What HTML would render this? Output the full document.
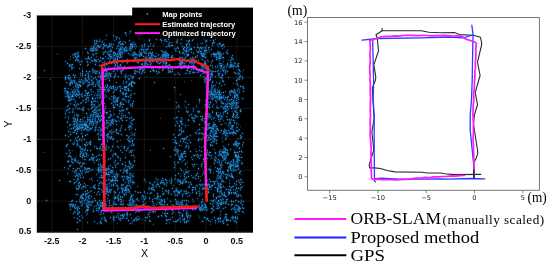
<!DOCTYPE html>
<html><head><meta charset="utf-8"><style>
html,body{margin:0;padding:0;background:#fff;width:550px;height:264px;overflow:hidden}
svg{display:block}
</style></head><body>
<svg width="550" height="264" viewBox="0 0 550 264">
<rect x="36.8" y="15.7" width="216.2" height="216.9" fill="#000"/>
<path d="M51.8 15.7V232.6M82.6 15.7V232.6M113.4 15.7V232.6M144.3 15.7V232.6M175.2 15.7V232.6M206.0 15.7V232.6M236.8 15.7V232.6M36.8 15.7H253.0M36.8 46.6H253.0M36.8 77.5H253.0M36.8 108.4H253.0M36.8 139.3H253.0M36.8 170.2H253.0M36.8 201.1H253.0M36.8 232.0H253.0" stroke="#232321" stroke-width="0.6" fill="none"/>
<path d="M36.8 46.6h2.4M36.8 77.5h2.4M36.8 108.4h2.4M36.8 139.3h2.4M36.8 170.2h2.4M36.8 201.1h2.4" stroke="#4a4a4a" stroke-width="0.8" fill="none"/>
<defs><filter id="bl" x="0" y="0" width="1" height="1"><feGaussianBlur stdDeviation="0.7"/></filter><clipPath id="cp"><rect x="36.8" y="15.7" width="216.2" height="216.9"/></clipPath></defs>
<g filter="url(#bl)"><g transform="translate(-0.2 -0.2)">
<path d="M65 77h1.4v1.4h-1.4zM65 78h1.4v1.4h-1.4zM65 88h1.4v1.4h-1.4zM65 113h1.4v1.4h-1.4zM65 135h1.4v1.4h-1.4zM66 82h1.4v1.4h-1.4zM66 110h1.4v1.4h-1.4zM66 145h1.4v1.4h-1.4zM67 122h1.4v1.4h-1.4zM67 144h1.4v1.4h-1.4zM68 75h1.4v1.4h-1.4zM68 92h1.4v1.4h-1.4zM68 131h1.4v1.4h-1.4zM69 65h1.4v1.4h-1.4zM69 66h1.4v1.4h-1.4zM69 108h1.4v1.4h-1.4zM69 125h1.4v1.4h-1.4zM69 155h1.4v1.4h-1.4zM69 204h1.4v1.4h-1.4zM70 83h1.4v1.4h-1.4zM70 134h1.4v1.4h-1.4zM70 156h1.4v1.4h-1.4zM70 204h1.4v1.4h-1.4zM70 206h1.4v1.4h-1.4zM70 209h1.4v1.4h-1.4zM71 99h1.4v1.4h-1.4zM71 128h1.4v1.4h-1.4zM71 204h1.4v1.4h-1.4zM72 83h1.4v1.4h-1.4zM72 91h1.4v1.4h-1.4zM72 95h1.4v1.4h-1.4zM72 159h1.4v1.4h-1.4zM72 200h1.4v1.4h-1.4zM73 118h1.4v1.4h-1.4zM73 128h1.4v1.4h-1.4zM73 168h1.4v1.4h-1.4zM73 205h1.4v1.4h-1.4zM74 54h1.4v1.4h-1.4zM74 207h1.4v1.4h-1.4zM75 53h1.4v1.4h-1.4zM75 54h1.4v1.4h-1.4zM75 56h1.4v1.4h-1.4zM75 60h1.4v1.4h-1.4zM75 75h1.4v1.4h-1.4zM75 91h1.4v1.4h-1.4zM75 160h1.4v1.4h-1.4zM75 170h1.4v1.4h-1.4zM75 176h1.4v1.4h-1.4zM76 59h1.4v1.4h-1.4zM76 94h1.4v1.4h-1.4zM76 105h1.4v1.4h-1.4zM76 125h1.4v1.4h-1.4zM76 140h1.4v1.4h-1.4zM76 170h1.4v1.4h-1.4zM77 54h1.4v1.4h-1.4zM77 56h1.4v1.4h-1.4zM77 84h1.4v1.4h-1.4zM77 115h1.4v1.4h-1.4zM77 129h1.4v1.4h-1.4zM77 168h1.4v1.4h-1.4zM77 194h1.4v1.4h-1.4zM77 209h1.4v1.4h-1.4zM77 222h1.4v1.4h-1.4zM78 56h1.4v1.4h-1.4zM78 85h1.4v1.4h-1.4zM78 95h1.4v1.4h-1.4zM78 115h1.4v1.4h-1.4zM79 81h1.4v1.4h-1.4zM79 84h1.4v1.4h-1.4zM79 93h1.4v1.4h-1.4zM79 127h1.4v1.4h-1.4zM79 146h1.4v1.4h-1.4zM79 163h1.4v1.4h-1.4zM79 186h1.4v1.4h-1.4zM79 220h1.4v1.4h-1.4zM80 64h1.4v1.4h-1.4zM80 81h1.4v1.4h-1.4zM80 86h1.4v1.4h-1.4zM80 127h1.4v1.4h-1.4zM80 153h1.4v1.4h-1.4zM80 177h1.4v1.4h-1.4zM80 197h1.4v1.4h-1.4zM80 202h1.4v1.4h-1.4zM81 94h1.4v1.4h-1.4zM81 201h1.4v1.4h-1.4zM81 205h1.4v1.4h-1.4zM82 73h1.4v1.4h-1.4zM82 96h1.4v1.4h-1.4zM82 124h1.4v1.4h-1.4zM82 136h1.4v1.4h-1.4zM82 149h1.4v1.4h-1.4zM82 157h1.4v1.4h-1.4zM82 203h1.4v1.4h-1.4zM83 83h1.4v1.4h-1.4zM83 107h1.4v1.4h-1.4zM83 109h1.4v1.4h-1.4zM83 153h1.4v1.4h-1.4zM83 155h1.4v1.4h-1.4zM84 125h1.4v1.4h-1.4zM84 129h1.4v1.4h-1.4zM84 139h1.4v1.4h-1.4zM84 150h1.4v1.4h-1.4zM84 156h1.4v1.4h-1.4zM84 169h1.4v1.4h-1.4zM84 200h1.4v1.4h-1.4zM85 48h1.4v1.4h-1.4zM85 90h1.4v1.4h-1.4zM85 125h1.4v1.4h-1.4zM85 126h1.4v1.4h-1.4zM85 191h1.4v1.4h-1.4zM85 195h1.4v1.4h-1.4zM85 199h1.4v1.4h-1.4zM86 93h1.4v1.4h-1.4zM86 153h1.4v1.4h-1.4zM86 197h1.4v1.4h-1.4zM86 203h1.4v1.4h-1.4zM87 52h1.4v1.4h-1.4zM87 61h1.4v1.4h-1.4zM87 65h1.4v1.4h-1.4zM87 80h1.4v1.4h-1.4zM87 119h1.4v1.4h-1.4zM87 121h1.4v1.4h-1.4zM87 130h1.4v1.4h-1.4zM87 150h1.4v1.4h-1.4zM87 190h1.4v1.4h-1.4zM87 193h1.4v1.4h-1.4zM87 209h1.4v1.4h-1.4zM88 78h1.4v1.4h-1.4zM88 85h1.4v1.4h-1.4zM88 127h1.4v1.4h-1.4zM88 130h1.4v1.4h-1.4zM88 196h1.4v1.4h-1.4zM88 202h1.4v1.4h-1.4zM89 82h1.4v1.4h-1.4zM89 84h1.4v1.4h-1.4zM89 123h1.4v1.4h-1.4zM89 195h1.4v1.4h-1.4zM90 50h1.4v1.4h-1.4zM90 116h1.4v1.4h-1.4zM90 122h1.4v1.4h-1.4zM90 129h1.4v1.4h-1.4zM91 57h1.4v1.4h-1.4zM91 84h1.4v1.4h-1.4zM91 102h1.4v1.4h-1.4zM91 108h1.4v1.4h-1.4zM91 128h1.4v1.4h-1.4zM91 178h1.4v1.4h-1.4zM91 202h1.4v1.4h-1.4zM92 49h1.4v1.4h-1.4zM92 82h1.4v1.4h-1.4zM92 107h1.4v1.4h-1.4zM92 169h1.4v1.4h-1.4zM93 47h1.4v1.4h-1.4zM93 70h1.4v1.4h-1.4zM93 78h1.4v1.4h-1.4zM93 114h1.4v1.4h-1.4zM93 116h1.4v1.4h-1.4zM93 158h1.4v1.4h-1.4zM93 211h1.4v1.4h-1.4zM94 40h1.4v1.4h-1.4zM94 59h1.4v1.4h-1.4zM94 110h1.4v1.4h-1.4zM94 185h1.4v1.4h-1.4zM95 64h1.4v1.4h-1.4zM95 85h1.4v1.4h-1.4zM95 101h1.4v1.4h-1.4zM95 109h1.4v1.4h-1.4zM95 112h1.4v1.4h-1.4zM95 118h1.4v1.4h-1.4zM95 127h1.4v1.4h-1.4zM95 200h1.4v1.4h-1.4zM96 61h1.4v1.4h-1.4zM96 107h1.4v1.4h-1.4zM96 122h1.4v1.4h-1.4zM96 148h1.4v1.4h-1.4zM96 210h1.4v1.4h-1.4zM97 71h1.4v1.4h-1.4zM97 83h1.4v1.4h-1.4zM97 121h1.4v1.4h-1.4zM97 202h1.4v1.4h-1.4zM98 118h1.4v1.4h-1.4zM98 164h1.4v1.4h-1.4zM98 168h1.4v1.4h-1.4zM98 169h1.4v1.4h-1.4zM98 210h1.4v1.4h-1.4zM99 41h1.4v1.4h-1.4zM99 61h1.4v1.4h-1.4zM99 86h1.4v1.4h-1.4zM99 116h1.4v1.4h-1.4zM99 121h1.4v1.4h-1.4zM99 127h1.4v1.4h-1.4zM99 139h1.4v1.4h-1.4zM99 170h1.4v1.4h-1.4zM99 183h1.4v1.4h-1.4zM99 194h1.4v1.4h-1.4zM99 200h1.4v1.4h-1.4zM99 207h1.4v1.4h-1.4zM100 46h1.4v1.4h-1.4zM100 76h1.4v1.4h-1.4zM100 87h1.4v1.4h-1.4zM100 135h1.4v1.4h-1.4zM100 139h1.4v1.4h-1.4zM100 164h1.4v1.4h-1.4zM100 182h1.4v1.4h-1.4zM101 73h1.4v1.4h-1.4zM101 115h1.4v1.4h-1.4zM101 116h1.4v1.4h-1.4zM101 130h1.4v1.4h-1.4zM101 144h1.4v1.4h-1.4zM101 155h1.4v1.4h-1.4zM101 166h1.4v1.4h-1.4zM101 177h1.4v1.4h-1.4zM101 203h1.4v1.4h-1.4zM101 223h1.4v1.4h-1.4zM102 58h1.4v1.4h-1.4zM102 89h1.4v1.4h-1.4zM102 91h1.4v1.4h-1.4zM102 99h1.4v1.4h-1.4zM102 123h1.4v1.4h-1.4zM102 150h1.4v1.4h-1.4zM102 167h1.4v1.4h-1.4zM102 206h1.4v1.4h-1.4zM102 210h1.4v1.4h-1.4zM103 47h1.4v1.4h-1.4zM103 52h1.4v1.4h-1.4zM103 68h1.4v1.4h-1.4zM103 87h1.4v1.4h-1.4zM103 121h1.4v1.4h-1.4zM103 125h1.4v1.4h-1.4zM103 191h1.4v1.4h-1.4zM103 196h1.4v1.4h-1.4zM103 213h1.4v1.4h-1.4zM104 45h1.4v1.4h-1.4zM104 63h1.4v1.4h-1.4zM104 70h1.4v1.4h-1.4zM104 75h1.4v1.4h-1.4zM104 112h1.4v1.4h-1.4zM104 174h1.4v1.4h-1.4zM104 190h1.4v1.4h-1.4zM104 217h1.4v1.4h-1.4zM105 51h1.4v1.4h-1.4zM105 73h1.4v1.4h-1.4zM105 75h1.4v1.4h-1.4zM105 169h1.4v1.4h-1.4zM105 174h1.4v1.4h-1.4zM105 220h1.4v1.4h-1.4zM106 71h1.4v1.4h-1.4zM106 73h1.4v1.4h-1.4zM106 76h1.4v1.4h-1.4zM106 174h1.4v1.4h-1.4zM106 188h1.4v1.4h-1.4zM106 221h1.4v1.4h-1.4zM107 47h1.4v1.4h-1.4zM107 75h1.4v1.4h-1.4zM107 85h1.4v1.4h-1.4zM107 112h1.4v1.4h-1.4zM107 136h1.4v1.4h-1.4zM107 141h1.4v1.4h-1.4zM107 169h1.4v1.4h-1.4zM107 191h1.4v1.4h-1.4zM107 208h1.4v1.4h-1.4zM108 51h1.4v1.4h-1.4zM108 54h1.4v1.4h-1.4zM108 91h1.4v1.4h-1.4zM108 159h1.4v1.4h-1.4zM108 172h1.4v1.4h-1.4zM108 179h1.4v1.4h-1.4zM108 195h1.4v1.4h-1.4zM109 183h1.4v1.4h-1.4zM109 189h1.4v1.4h-1.4zM109 191h1.4v1.4h-1.4zM109 200h1.4v1.4h-1.4zM109 205h1.4v1.4h-1.4zM110 51h1.4v1.4h-1.4zM110 58h1.4v1.4h-1.4zM110 76h1.4v1.4h-1.4zM110 125h1.4v1.4h-1.4zM110 158h1.4v1.4h-1.4zM110 191h1.4v1.4h-1.4zM110 217h1.4v1.4h-1.4zM111 50h1.4v1.4h-1.4zM111 88h1.4v1.4h-1.4zM111 103h1.4v1.4h-1.4zM111 122h1.4v1.4h-1.4zM111 137h1.4v1.4h-1.4zM111 170h1.4v1.4h-1.4zM111 172h1.4v1.4h-1.4zM112 119h1.4v1.4h-1.4zM112 123h1.4v1.4h-1.4zM112 139h1.4v1.4h-1.4zM112 167h1.4v1.4h-1.4zM112 171h1.4v1.4h-1.4zM113 53h1.4v1.4h-1.4zM113 60h1.4v1.4h-1.4zM113 71h1.4v1.4h-1.4zM113 88h1.4v1.4h-1.4zM113 97h1.4v1.4h-1.4zM113 173h1.4v1.4h-1.4zM113 184h1.4v1.4h-1.4zM113 185h1.4v1.4h-1.4zM113 204h1.4v1.4h-1.4zM113 218h1.4v1.4h-1.4zM114 180h1.4v1.4h-1.4zM114 198h1.4v1.4h-1.4zM114 203h1.4v1.4h-1.4zM115 53h1.4v1.4h-1.4zM115 102h1.4v1.4h-1.4zM115 153h1.4v1.4h-1.4zM115 160h1.4v1.4h-1.4zM115 165h1.4v1.4h-1.4zM115 178h1.4v1.4h-1.4zM116 56h1.4v1.4h-1.4zM116 89h1.4v1.4h-1.4zM116 100h1.4v1.4h-1.4zM116 204h1.4v1.4h-1.4zM117 56h1.4v1.4h-1.4zM117 60h1.4v1.4h-1.4zM117 63h1.4v1.4h-1.4zM117 65h1.4v1.4h-1.4zM117 67h1.4v1.4h-1.4zM117 87h1.4v1.4h-1.4zM117 98h1.4v1.4h-1.4zM117 116h1.4v1.4h-1.4zM117 156h1.4v1.4h-1.4zM117 174h1.4v1.4h-1.4zM117 176h1.4v1.4h-1.4zM117 180h1.4v1.4h-1.4zM118 97h1.4v1.4h-1.4zM118 133h1.4v1.4h-1.4zM118 195h1.4v1.4h-1.4zM118 199h1.4v1.4h-1.4zM118 213h1.4v1.4h-1.4zM118 217h1.4v1.4h-1.4zM119 38h1.4v1.4h-1.4zM119 50h1.4v1.4h-1.4zM119 52h1.4v1.4h-1.4zM119 54h1.4v1.4h-1.4zM119 86h1.4v1.4h-1.4zM120 52h1.4v1.4h-1.4zM120 56h1.4v1.4h-1.4zM120 90h1.4v1.4h-1.4zM120 130h1.4v1.4h-1.4zM120 170h1.4v1.4h-1.4zM120 199h1.4v1.4h-1.4zM120 215h1.4v1.4h-1.4zM121 49h1.4v1.4h-1.4zM121 52h1.4v1.4h-1.4zM121 70h1.4v1.4h-1.4zM121 104h1.4v1.4h-1.4zM121 134h1.4v1.4h-1.4zM121 188h1.4v1.4h-1.4zM122 43h1.4v1.4h-1.4zM122 44h1.4v1.4h-1.4zM122 52h1.4v1.4h-1.4zM122 93h1.4v1.4h-1.4zM122 120h1.4v1.4h-1.4zM122 176h1.4v1.4h-1.4zM122 185h1.4v1.4h-1.4zM122 190h1.4v1.4h-1.4zM122 191h1.4v1.4h-1.4zM122 214h1.4v1.4h-1.4zM122 218h1.4v1.4h-1.4zM123 49h1.4v1.4h-1.4zM123 94h1.4v1.4h-1.4zM123 110h1.4v1.4h-1.4zM123 172h1.4v1.4h-1.4zM123 216h1.4v1.4h-1.4zM124 49h1.4v1.4h-1.4zM124 50h1.4v1.4h-1.4zM124 87h1.4v1.4h-1.4zM124 146h1.4v1.4h-1.4zM124 170h1.4v1.4h-1.4zM124 190h1.4v1.4h-1.4zM125 32h1.4v1.4h-1.4zM125 42h1.4v1.4h-1.4zM125 47h1.4v1.4h-1.4zM125 76h1.4v1.4h-1.4zM125 129h1.4v1.4h-1.4zM125 157h1.4v1.4h-1.4zM125 165h1.4v1.4h-1.4zM125 190h1.4v1.4h-1.4zM126 51h1.4v1.4h-1.4zM126 82h1.4v1.4h-1.4zM126 86h1.4v1.4h-1.4zM126 87h1.4v1.4h-1.4zM126 109h1.4v1.4h-1.4zM126 120h1.4v1.4h-1.4zM126 186h1.4v1.4h-1.4zM126 188h1.4v1.4h-1.4zM126 213h1.4v1.4h-1.4zM127 59h1.4v1.4h-1.4zM127 169h1.4v1.4h-1.4zM127 214h1.4v1.4h-1.4zM128 79h1.4v1.4h-1.4zM128 85h1.4v1.4h-1.4zM128 127h1.4v1.4h-1.4zM128 137h1.4v1.4h-1.4zM128 180h1.4v1.4h-1.4zM129 84h1.4v1.4h-1.4zM129 118h1.4v1.4h-1.4zM129 126h1.4v1.4h-1.4zM129 161h1.4v1.4h-1.4zM129 162h1.4v1.4h-1.4zM129 168h1.4v1.4h-1.4zM130 31h1.4v1.4h-1.4zM130 46h1.4v1.4h-1.4zM130 50h1.4v1.4h-1.4zM130 97h1.4v1.4h-1.4zM130 151h1.4v1.4h-1.4zM130 164h1.4v1.4h-1.4zM130 173h1.4v1.4h-1.4zM130 181h1.4v1.4h-1.4zM130 197h1.4v1.4h-1.4zM130 203h1.4v1.4h-1.4zM130 214h1.4v1.4h-1.4zM130 223h1.4v1.4h-1.4zM131 84h1.4v1.4h-1.4zM131 117h1.4v1.4h-1.4zM131 155h1.4v1.4h-1.4zM131 195h1.4v1.4h-1.4zM131 207h1.4v1.4h-1.4zM132 46h1.4v1.4h-1.4zM132 78h1.4v1.4h-1.4zM132 103h1.4v1.4h-1.4zM132 120h1.4v1.4h-1.4zM132 134h1.4v1.4h-1.4zM132 200h1.4v1.4h-1.4zM133 52h1.4v1.4h-1.4zM133 54h1.4v1.4h-1.4zM133 82h1.4v1.4h-1.4zM133 119h1.4v1.4h-1.4zM133 144h1.4v1.4h-1.4zM133 145h1.4v1.4h-1.4zM133 182h1.4v1.4h-1.4zM133 220h1.4v1.4h-1.4zM134 52h1.4v1.4h-1.4zM134 59h1.4v1.4h-1.4zM134 73h1.4v1.4h-1.4zM134 82h1.4v1.4h-1.4zM134 83h1.4v1.4h-1.4zM134 93h1.4v1.4h-1.4zM134 161h1.4v1.4h-1.4zM135 44h1.4v1.4h-1.4zM135 53h1.4v1.4h-1.4zM135 70h1.4v1.4h-1.4zM135 73h1.4v1.4h-1.4zM135 208h1.4v1.4h-1.4zM137 59h1.4v1.4h-1.4zM137 62h1.4v1.4h-1.4zM137 205h1.4v1.4h-1.4zM137 207h1.4v1.4h-1.4zM137 208h1.4v1.4h-1.4zM137 219h1.4v1.4h-1.4zM138 209h1.4v1.4h-1.4zM139 55h1.4v1.4h-1.4zM139 72h1.4v1.4h-1.4zM139 78h1.4v1.4h-1.4zM141 52h1.4v1.4h-1.4zM141 54h1.4v1.4h-1.4zM141 64h1.4v1.4h-1.4zM142 195h1.4v1.4h-1.4zM143 56h1.4v1.4h-1.4zM143 70h1.4v1.4h-1.4zM143 196h1.4v1.4h-1.4zM144 65h1.4v1.4h-1.4zM144 66h1.4v1.4h-1.4zM144 179h1.4v1.4h-1.4zM145 57h1.4v1.4h-1.4zM146 63h1.4v1.4h-1.4zM148 46h1.4v1.4h-1.4zM148 53h1.4v1.4h-1.4zM148 55h1.4v1.4h-1.4zM148 60h1.4v1.4h-1.4zM149 198h1.4v1.4h-1.4zM149 208h1.4v1.4h-1.4zM149 216h1.4v1.4h-1.4zM150 59h1.4v1.4h-1.4zM150 64h1.4v1.4h-1.4zM150 209h1.4v1.4h-1.4zM150 221h1.4v1.4h-1.4zM151 54h1.4v1.4h-1.4zM151 207h1.4v1.4h-1.4zM151 209h1.4v1.4h-1.4zM152 201h1.4v1.4h-1.4zM153 189h1.4v1.4h-1.4zM154 82h1.4v1.4h-1.4zM156 61h1.4v1.4h-1.4zM156 71h1.4v1.4h-1.4zM156 198h1.4v1.4h-1.4zM157 58h1.4v1.4h-1.4zM157 62h1.4v1.4h-1.4zM158 59h1.4v1.4h-1.4zM159 59h1.4v1.4h-1.4zM159 63h1.4v1.4h-1.4zM159 202h1.4v1.4h-1.4zM160 39h1.4v1.4h-1.4zM160 57h1.4v1.4h-1.4zM160 59h1.4v1.4h-1.4zM160 62h1.4v1.4h-1.4zM160 196h1.4v1.4h-1.4zM161 40h1.4v1.4h-1.4zM161 200h1.4v1.4h-1.4zM161 206h1.4v1.4h-1.4zM162 54h1.4v1.4h-1.4zM162 56h1.4v1.4h-1.4zM162 61h1.4v1.4h-1.4zM162 178h1.4v1.4h-1.4zM162 182h1.4v1.4h-1.4zM162 188h1.4v1.4h-1.4zM163 52h1.4v1.4h-1.4zM163 58h1.4v1.4h-1.4zM163 59h1.4v1.4h-1.4zM163 193h1.4v1.4h-1.4zM163 207h1.4v1.4h-1.4zM164 61h1.4v1.4h-1.4zM164 67h1.4v1.4h-1.4zM164 184h1.4v1.4h-1.4zM165 39h1.4v1.4h-1.4zM165 51h1.4v1.4h-1.4zM165 55h1.4v1.4h-1.4zM165 58h1.4v1.4h-1.4zM165 179h1.4v1.4h-1.4zM165 190h1.4v1.4h-1.4zM165 210h1.4v1.4h-1.4zM165 213h1.4v1.4h-1.4zM165 215h1.4v1.4h-1.4zM166 41h1.4v1.4h-1.4zM166 46h1.4v1.4h-1.4zM166 53h1.4v1.4h-1.4zM166 208h1.4v1.4h-1.4zM166 216h1.4v1.4h-1.4zM167 55h1.4v1.4h-1.4zM167 66h1.4v1.4h-1.4zM167 206h1.4v1.4h-1.4zM168 55h1.4v1.4h-1.4zM168 68h1.4v1.4h-1.4zM168 190h1.4v1.4h-1.4zM168 193h1.4v1.4h-1.4zM169 46h1.4v1.4h-1.4zM169 71h1.4v1.4h-1.4zM169 206h1.4v1.4h-1.4zM169 207h1.4v1.4h-1.4zM170 71h1.4v1.4h-1.4zM170 201h1.4v1.4h-1.4zM170 207h1.4v1.4h-1.4zM172 207h1.4v1.4h-1.4zM173 134h1.4v1.4h-1.4zM174 149h1.4v1.4h-1.4zM174 167h1.4v1.4h-1.4zM175 140h1.4v1.4h-1.4zM175 147h1.4v1.4h-1.4zM175 175h1.4v1.4h-1.4zM175 199h1.4v1.4h-1.4zM175 221h1.4v1.4h-1.4zM176 188h1.4v1.4h-1.4zM176 201h1.4v1.4h-1.4zM176 203h1.4v1.4h-1.4zM176 206h1.4v1.4h-1.4zM176 221h1.4v1.4h-1.4zM177 191h1.4v1.4h-1.4zM177 195h1.4v1.4h-1.4zM177 220h1.4v1.4h-1.4zM178 135h1.4v1.4h-1.4zM178 150h1.4v1.4h-1.4zM178 162h1.4v1.4h-1.4zM178 173h1.4v1.4h-1.4zM178 180h1.4v1.4h-1.4zM178 192h1.4v1.4h-1.4zM178 202h1.4v1.4h-1.4zM178 212h1.4v1.4h-1.4zM179 51h1.4v1.4h-1.4zM179 52h1.4v1.4h-1.4zM179 63h1.4v1.4h-1.4zM179 74h1.4v1.4h-1.4zM179 126h1.4v1.4h-1.4zM179 157h1.4v1.4h-1.4zM179 158h1.4v1.4h-1.4zM180 59h1.4v1.4h-1.4zM180 61h1.4v1.4h-1.4zM180 134h1.4v1.4h-1.4zM180 180h1.4v1.4h-1.4zM181 39h1.4v1.4h-1.4zM181 68h1.4v1.4h-1.4zM181 123h1.4v1.4h-1.4zM181 130h1.4v1.4h-1.4zM181 132h1.4v1.4h-1.4zM181 154h1.4v1.4h-1.4zM181 156h1.4v1.4h-1.4zM181 170h1.4v1.4h-1.4zM181 190h1.4v1.4h-1.4zM181 202h1.4v1.4h-1.4zM182 53h1.4v1.4h-1.4zM182 58h1.4v1.4h-1.4zM182 63h1.4v1.4h-1.4zM182 67h1.4v1.4h-1.4zM182 156h1.4v1.4h-1.4zM182 182h1.4v1.4h-1.4zM182 194h1.4v1.4h-1.4zM182 200h1.4v1.4h-1.4zM182 214h1.4v1.4h-1.4zM182 216h1.4v1.4h-1.4zM183 52h1.4v1.4h-1.4zM183 131h1.4v1.4h-1.4zM183 141h1.4v1.4h-1.4zM184 47h1.4v1.4h-1.4zM184 59h1.4v1.4h-1.4zM184 67h1.4v1.4h-1.4zM184 138h1.4v1.4h-1.4zM184 139h1.4v1.4h-1.4zM184 153h1.4v1.4h-1.4zM184 179h1.4v1.4h-1.4zM184 206h1.4v1.4h-1.4zM184 218h1.4v1.4h-1.4zM184 219h1.4v1.4h-1.4zM184 222h1.4v1.4h-1.4zM185 57h1.4v1.4h-1.4zM185 65h1.4v1.4h-1.4zM185 164h1.4v1.4h-1.4zM185 205h1.4v1.4h-1.4zM186 44h1.4v1.4h-1.4zM186 45h1.4v1.4h-1.4zM186 61h1.4v1.4h-1.4zM186 193h1.4v1.4h-1.4zM186 213h1.4v1.4h-1.4zM186 222h1.4v1.4h-1.4zM187 50h1.4v1.4h-1.4zM187 66h1.4v1.4h-1.4zM187 68h1.4v1.4h-1.4zM187 70h1.4v1.4h-1.4zM187 143h1.4v1.4h-1.4zM187 205h1.4v1.4h-1.4zM187 217h1.4v1.4h-1.4zM188 65h1.4v1.4h-1.4zM188 67h1.4v1.4h-1.4zM188 104h1.4v1.4h-1.4zM188 120h1.4v1.4h-1.4zM188 146h1.4v1.4h-1.4zM188 215h1.4v1.4h-1.4zM189 40h1.4v1.4h-1.4zM189 62h1.4v1.4h-1.4zM189 73h1.4v1.4h-1.4zM189 186h1.4v1.4h-1.4zM190 151h1.4v1.4h-1.4zM191 61h1.4v1.4h-1.4zM191 66h1.4v1.4h-1.4zM191 114h1.4v1.4h-1.4zM191 184h1.4v1.4h-1.4zM192 40h1.4v1.4h-1.4zM192 62h1.4v1.4h-1.4zM192 72h1.4v1.4h-1.4zM193 68h1.4v1.4h-1.4zM193 69h1.4v1.4h-1.4zM193 120h1.4v1.4h-1.4zM194 62h1.4v1.4h-1.4zM194 72h1.4v1.4h-1.4zM194 164h1.4v1.4h-1.4zM195 115h1.4v1.4h-1.4zM195 187h1.4v1.4h-1.4zM196 193h1.4v1.4h-1.4zM197 47h1.4v1.4h-1.4zM197 154h1.4v1.4h-1.4zM197 173h1.4v1.4h-1.4zM198 111h1.4v1.4h-1.4zM198 156h1.4v1.4h-1.4zM199 124h1.4v1.4h-1.4zM199 129h1.4v1.4h-1.4zM199 133h1.4v1.4h-1.4zM199 208h1.4v1.4h-1.4zM200 47h1.4v1.4h-1.4zM200 51h1.4v1.4h-1.4zM200 75h1.4v1.4h-1.4zM200 155h1.4v1.4h-1.4zM200 185h1.4v1.4h-1.4zM200 208h1.4v1.4h-1.4zM201 65h1.4v1.4h-1.4zM201 119h1.4v1.4h-1.4zM201 151h1.4v1.4h-1.4zM201 202h1.4v1.4h-1.4zM201 208h1.4v1.4h-1.4zM202 55h1.4v1.4h-1.4zM202 59h1.4v1.4h-1.4zM202 120h1.4v1.4h-1.4zM202 199h1.4v1.4h-1.4zM202 221h1.4v1.4h-1.4zM203 53h1.4v1.4h-1.4zM203 54h1.4v1.4h-1.4zM203 64h1.4v1.4h-1.4zM203 65h1.4v1.4h-1.4zM203 188h1.4v1.4h-1.4zM204 50h1.4v1.4h-1.4zM204 51h1.4v1.4h-1.4zM204 63h1.4v1.4h-1.4zM204 184h1.4v1.4h-1.4zM204 207h1.4v1.4h-1.4zM205 63h1.4v1.4h-1.4zM205 145h1.4v1.4h-1.4zM205 161h1.4v1.4h-1.4zM206 67h1.4v1.4h-1.4zM206 78h1.4v1.4h-1.4zM206 86h1.4v1.4h-1.4zM206 94h1.4v1.4h-1.4zM206 105h1.4v1.4h-1.4zM206 158h1.4v1.4h-1.4zM206 190h1.4v1.4h-1.4zM207 68h1.4v1.4h-1.4zM207 113h1.4v1.4h-1.4zM207 129h1.4v1.4h-1.4zM207 135h1.4v1.4h-1.4zM207 150h1.4v1.4h-1.4zM207 185h1.4v1.4h-1.4zM207 188h1.4v1.4h-1.4zM208 47h1.4v1.4h-1.4zM208 88h1.4v1.4h-1.4zM208 114h1.4v1.4h-1.4zM208 116h1.4v1.4h-1.4zM208 124h1.4v1.4h-1.4zM208 154h1.4v1.4h-1.4zM208 220h1.4v1.4h-1.4zM209 80h1.4v1.4h-1.4zM209 91h1.4v1.4h-1.4zM209 104h1.4v1.4h-1.4zM209 137h1.4v1.4h-1.4zM209 152h1.4v1.4h-1.4zM209 184h1.4v1.4h-1.4zM209 186h1.4v1.4h-1.4zM209 187h1.4v1.4h-1.4zM210 65h1.4v1.4h-1.4zM210 76h1.4v1.4h-1.4zM210 77h1.4v1.4h-1.4zM210 117h1.4v1.4h-1.4zM210 127h1.4v1.4h-1.4zM210 139h1.4v1.4h-1.4zM210 144h1.4v1.4h-1.4zM210 145h1.4v1.4h-1.4zM210 152h1.4v1.4h-1.4zM210 170h1.4v1.4h-1.4zM210 181h1.4v1.4h-1.4zM211 54h1.4v1.4h-1.4zM211 73h1.4v1.4h-1.4zM211 89h1.4v1.4h-1.4zM211 136h1.4v1.4h-1.4zM211 208h1.4v1.4h-1.4zM211 212h1.4v1.4h-1.4zM212 43h1.4v1.4h-1.4zM212 60h1.4v1.4h-1.4zM212 71h1.4v1.4h-1.4zM212 81h1.4v1.4h-1.4zM212 106h1.4v1.4h-1.4zM212 112h1.4v1.4h-1.4zM212 145h1.4v1.4h-1.4zM213 40h1.4v1.4h-1.4zM213 53h1.4v1.4h-1.4zM213 98h1.4v1.4h-1.4zM213 136h1.4v1.4h-1.4zM213 141h1.4v1.4h-1.4zM213 194h1.4v1.4h-1.4zM213 196h1.4v1.4h-1.4zM213 201h1.4v1.4h-1.4zM214 90h1.4v1.4h-1.4zM214 139h1.4v1.4h-1.4zM214 163h1.4v1.4h-1.4zM214 183h1.4v1.4h-1.4zM215 71h1.4v1.4h-1.4zM215 92h1.4v1.4h-1.4zM215 100h1.4v1.4h-1.4zM215 133h1.4v1.4h-1.4zM215 136h1.4v1.4h-1.4zM215 152h1.4v1.4h-1.4zM215 160h1.4v1.4h-1.4zM215 220h1.4v1.4h-1.4zM216 57h1.4v1.4h-1.4zM216 96h1.4v1.4h-1.4zM216 97h1.4v1.4h-1.4zM216 112h1.4v1.4h-1.4zM216 114h1.4v1.4h-1.4zM216 126h1.4v1.4h-1.4zM216 143h1.4v1.4h-1.4zM216 171h1.4v1.4h-1.4zM216 198h1.4v1.4h-1.4zM217 115h1.4v1.4h-1.4zM217 129h1.4v1.4h-1.4zM217 136h1.4v1.4h-1.4zM217 189h1.4v1.4h-1.4zM217 190h1.4v1.4h-1.4zM217 191h1.4v1.4h-1.4zM218 51h1.4v1.4h-1.4zM218 54h1.4v1.4h-1.4zM218 58h1.4v1.4h-1.4zM218 73h1.4v1.4h-1.4zM218 75h1.4v1.4h-1.4zM218 130h1.4v1.4h-1.4zM218 171h1.4v1.4h-1.4zM218 173h1.4v1.4h-1.4zM218 178h1.4v1.4h-1.4zM218 203h1.4v1.4h-1.4zM218 218h1.4v1.4h-1.4zM218 221h1.4v1.4h-1.4zM219 63h1.4v1.4h-1.4zM219 92h1.4v1.4h-1.4zM219 98h1.4v1.4h-1.4zM219 99h1.4v1.4h-1.4zM219 115h1.4v1.4h-1.4zM219 177h1.4v1.4h-1.4zM219 185h1.4v1.4h-1.4zM219 196h1.4v1.4h-1.4zM219 202h1.4v1.4h-1.4zM220 58h1.4v1.4h-1.4zM220 65h1.4v1.4h-1.4zM220 77h1.4v1.4h-1.4zM220 172h1.4v1.4h-1.4zM220 184h1.4v1.4h-1.4zM220 187h1.4v1.4h-1.4zM220 204h1.4v1.4h-1.4zM221 54h1.4v1.4h-1.4zM221 66h1.4v1.4h-1.4zM221 98h1.4v1.4h-1.4zM221 106h1.4v1.4h-1.4zM221 116h1.4v1.4h-1.4zM221 124h1.4v1.4h-1.4zM221 202h1.4v1.4h-1.4zM222 45h1.4v1.4h-1.4zM222 74h1.4v1.4h-1.4zM222 171h1.4v1.4h-1.4zM223 57h1.4v1.4h-1.4zM223 92h1.4v1.4h-1.4zM223 97h1.4v1.4h-1.4zM223 103h1.4v1.4h-1.4zM223 108h1.4v1.4h-1.4zM223 133h1.4v1.4h-1.4zM223 158h1.4v1.4h-1.4zM223 186h1.4v1.4h-1.4zM223 195h1.4v1.4h-1.4zM224 66h1.4v1.4h-1.4zM224 129h1.4v1.4h-1.4zM224 132h1.4v1.4h-1.4zM224 152h1.4v1.4h-1.4zM224 156h1.4v1.4h-1.4zM224 159h1.4v1.4h-1.4zM224 195h1.4v1.4h-1.4zM225 105h1.4v1.4h-1.4zM225 130h1.4v1.4h-1.4zM225 150h1.4v1.4h-1.4zM225 155h1.4v1.4h-1.4zM225 162h1.4v1.4h-1.4zM226 52h1.4v1.4h-1.4zM226 110h1.4v1.4h-1.4zM226 131h1.4v1.4h-1.4zM226 133h1.4v1.4h-1.4zM226 177h1.4v1.4h-1.4zM226 178h1.4v1.4h-1.4zM226 189h1.4v1.4h-1.4zM226 214h1.4v1.4h-1.4zM226 220h1.4v1.4h-1.4zM227 63h1.4v1.4h-1.4zM227 71h1.4v1.4h-1.4zM227 99h1.4v1.4h-1.4zM227 113h1.4v1.4h-1.4zM227 119h1.4v1.4h-1.4zM227 150h1.4v1.4h-1.4zM227 152h1.4v1.4h-1.4zM227 153h1.4v1.4h-1.4zM227 154h1.4v1.4h-1.4zM227 224h1.4v1.4h-1.4zM228 125h1.4v1.4h-1.4zM228 162h1.4v1.4h-1.4zM228 167h1.4v1.4h-1.4zM228 192h1.4v1.4h-1.4zM228 204h1.4v1.4h-1.4zM229 100h1.4v1.4h-1.4zM229 103h1.4v1.4h-1.4zM229 119h1.4v1.4h-1.4zM229 132h1.4v1.4h-1.4zM229 193h1.4v1.4h-1.4zM230 92h1.4v1.4h-1.4zM230 104h1.4v1.4h-1.4zM230 133h1.4v1.4h-1.4zM230 149h1.4v1.4h-1.4zM230 189h1.4v1.4h-1.4zM230 190h1.4v1.4h-1.4zM231 64h1.4v1.4h-1.4zM231 65h1.4v1.4h-1.4zM231 66h1.4v1.4h-1.4zM231 90h1.4v1.4h-1.4zM231 91h1.4v1.4h-1.4zM231 99h1.4v1.4h-1.4zM231 102h1.4v1.4h-1.4zM231 108h1.4v1.4h-1.4zM231 128h1.4v1.4h-1.4zM231 164h1.4v1.4h-1.4zM231 170h1.4v1.4h-1.4zM231 175h1.4v1.4h-1.4zM231 187h1.4v1.4h-1.4zM231 209h1.4v1.4h-1.4zM232 91h1.4v1.4h-1.4zM232 103h1.4v1.4h-1.4zM232 165h1.4v1.4h-1.4zM232 218h1.4v1.4h-1.4zM233 102h1.4v1.4h-1.4zM233 113h1.4v1.4h-1.4zM233 114h1.4v1.4h-1.4zM233 131h1.4v1.4h-1.4zM233 159h1.4v1.4h-1.4zM233 160h1.4v1.4h-1.4zM233 162h1.4v1.4h-1.4zM233 170h1.4v1.4h-1.4zM233 217h1.4v1.4h-1.4zM234 95h1.4v1.4h-1.4zM234 97h1.4v1.4h-1.4zM234 103h1.4v1.4h-1.4zM234 122h1.4v1.4h-1.4zM234 164h1.4v1.4h-1.4zM234 193h1.4v1.4h-1.4zM234 207h1.4v1.4h-1.4zM235 73h1.4v1.4h-1.4zM235 92h1.4v1.4h-1.4zM235 107h1.4v1.4h-1.4zM235 152h1.4v1.4h-1.4zM235 170h1.4v1.4h-1.4zM235 192h1.4v1.4h-1.4zM235 193h1.4v1.4h-1.4zM235 217h1.4v1.4h-1.4zM236 98h1.4v1.4h-1.4zM236 107h1.4v1.4h-1.4zM236 141h1.4v1.4h-1.4zM236 143h1.4v1.4h-1.4zM236 156h1.4v1.4h-1.4zM236 161h1.4v1.4h-1.4zM236 188h1.4v1.4h-1.4zM237 65h1.4v1.4h-1.4zM237 66h1.4v1.4h-1.4zM237 84h1.4v1.4h-1.4zM237 90h1.4v1.4h-1.4zM237 94h1.4v1.4h-1.4zM237 95h1.4v1.4h-1.4zM237 107h1.4v1.4h-1.4zM237 114h1.4v1.4h-1.4zM237 143h1.4v1.4h-1.4zM237 152h1.4v1.4h-1.4zM237 160h1.4v1.4h-1.4zM237 166h1.4v1.4h-1.4zM237 196h1.4v1.4h-1.4zM238 63h1.4v1.4h-1.4zM238 99h1.4v1.4h-1.4zM238 117h1.4v1.4h-1.4zM238 159h1.4v1.4h-1.4zM238 180h1.4v1.4h-1.4zM238 188h1.4v1.4h-1.4zM238 195h1.4v1.4h-1.4zM238 206h1.4v1.4h-1.4zM238 208h1.4v1.4h-1.4zM238 210h1.4v1.4h-1.4zM239 148h1.4v1.4h-1.4zM239 151h1.4v1.4h-1.4zM239 160h1.4v1.4h-1.4zM239 182h1.4v1.4h-1.4zM239 207h1.4v1.4h-1.4zM239 209h1.4v1.4h-1.4zM240 76h1.4v1.4h-1.4zM240 110h1.4v1.4h-1.4zM240 171h1.4v1.4h-1.4zM240 184h1.4v1.4h-1.4zM240 187h1.4v1.4h-1.4zM240 195h1.4v1.4h-1.4zM240 208h1.4v1.4h-1.4zM241 151h1.4v1.4h-1.4zM242 98h1.4v1.4h-1.4zM242 204h1.4v1.4h-1.4zM243 88h1.4v1.4h-1.4zM243 208h1.4v1.4h-1.4zM133 76h1.4v1.4h-1.4zM175 154h1.4v1.4h-1.4zM77 229h1.4v1.4h-1.4zM179 18h1.4v1.4h-1.4zM90 150h1.4v1.4h-1.4zM235 200h1.4v1.4h-1.4zM46 200h1.4v1.4h-1.4zM103 187h1.4v1.4h-1.4z" fill="#2388d6"/>
<path d="M64 88h1.4v1.4h-1.4zM65 79h1.4v1.4h-1.4zM66 91h1.4v1.4h-1.4zM66 146h1.4v1.4h-1.4zM66 153h1.4v1.4h-1.4zM67 77h1.4v1.4h-1.4zM67 94h1.4v1.4h-1.4zM67 106h1.4v1.4h-1.4zM67 161h1.4v1.4h-1.4zM68 77h1.4v1.4h-1.4zM68 78h1.4v1.4h-1.4zM68 94h1.4v1.4h-1.4zM68 98h1.4v1.4h-1.4zM68 118h1.4v1.4h-1.4zM68 156h1.4v1.4h-1.4zM69 75h1.4v1.4h-1.4zM69 79h1.4v1.4h-1.4zM69 83h1.4v1.4h-1.4zM69 84h1.4v1.4h-1.4zM69 99h1.4v1.4h-1.4zM69 100h1.4v1.4h-1.4zM69 112h1.4v1.4h-1.4zM69 150h1.4v1.4h-1.4zM69 166h1.4v1.4h-1.4zM70 77h1.4v1.4h-1.4zM70 82h1.4v1.4h-1.4zM70 94h1.4v1.4h-1.4zM70 100h1.4v1.4h-1.4zM70 124h1.4v1.4h-1.4zM71 66h1.4v1.4h-1.4zM71 82h1.4v1.4h-1.4zM71 96h1.4v1.4h-1.4zM71 161h1.4v1.4h-1.4zM71 201h1.4v1.4h-1.4zM72 68h1.4v1.4h-1.4zM72 92h1.4v1.4h-1.4zM72 111h1.4v1.4h-1.4zM72 112h1.4v1.4h-1.4zM72 162h1.4v1.4h-1.4zM72 204h1.4v1.4h-1.4zM73 75h1.4v1.4h-1.4zM73 80h1.4v1.4h-1.4zM73 91h1.4v1.4h-1.4zM73 96h1.4v1.4h-1.4zM73 109h1.4v1.4h-1.4zM73 117h1.4v1.4h-1.4zM73 121h1.4v1.4h-1.4zM73 124h1.4v1.4h-1.4zM73 144h1.4v1.4h-1.4zM74 80h1.4v1.4h-1.4zM74 82h1.4v1.4h-1.4zM74 89h1.4v1.4h-1.4zM74 94h1.4v1.4h-1.4zM74 105h1.4v1.4h-1.4zM74 124h1.4v1.4h-1.4zM74 126h1.4v1.4h-1.4zM74 158h1.4v1.4h-1.4zM74 160h1.4v1.4h-1.4zM74 172h1.4v1.4h-1.4zM74 182h1.4v1.4h-1.4zM74 183h1.4v1.4h-1.4zM74 211h1.4v1.4h-1.4zM75 82h1.4v1.4h-1.4zM75 85h1.4v1.4h-1.4zM75 86h1.4v1.4h-1.4zM75 95h1.4v1.4h-1.4zM75 101h1.4v1.4h-1.4zM75 118h1.4v1.4h-1.4zM75 119h1.4v1.4h-1.4zM75 159h1.4v1.4h-1.4zM75 205h1.4v1.4h-1.4zM76 57h1.4v1.4h-1.4zM76 84h1.4v1.4h-1.4zM76 93h1.4v1.4h-1.4zM76 96h1.4v1.4h-1.4zM76 114h1.4v1.4h-1.4zM76 122h1.4v1.4h-1.4zM76 126h1.4v1.4h-1.4zM76 175h1.4v1.4h-1.4zM76 181h1.4v1.4h-1.4zM77 52h1.4v1.4h-1.4zM77 59h1.4v1.4h-1.4zM77 86h1.4v1.4h-1.4zM77 108h1.4v1.4h-1.4zM77 120h1.4v1.4h-1.4zM77 125h1.4v1.4h-1.4zM77 127h1.4v1.4h-1.4zM77 128h1.4v1.4h-1.4zM77 131h1.4v1.4h-1.4zM77 137h1.4v1.4h-1.4zM77 141h1.4v1.4h-1.4zM77 144h1.4v1.4h-1.4zM77 175h1.4v1.4h-1.4zM77 189h1.4v1.4h-1.4zM77 208h1.4v1.4h-1.4zM78 52h1.4v1.4h-1.4zM78 55h1.4v1.4h-1.4zM78 104h1.4v1.4h-1.4zM78 136h1.4v1.4h-1.4zM78 173h1.4v1.4h-1.4zM78 176h1.4v1.4h-1.4zM78 206h1.4v1.4h-1.4zM78 213h1.4v1.4h-1.4zM79 97h1.4v1.4h-1.4zM79 108h1.4v1.4h-1.4zM79 121h1.4v1.4h-1.4zM79 125h1.4v1.4h-1.4zM79 126h1.4v1.4h-1.4zM79 128h1.4v1.4h-1.4zM79 168h1.4v1.4h-1.4zM79 174h1.4v1.4h-1.4zM79 208h1.4v1.4h-1.4zM80 82h1.4v1.4h-1.4zM80 121h1.4v1.4h-1.4zM80 124h1.4v1.4h-1.4zM80 147h1.4v1.4h-1.4zM80 151h1.4v1.4h-1.4zM80 154h1.4v1.4h-1.4zM80 162h1.4v1.4h-1.4zM80 170h1.4v1.4h-1.4zM80 171h1.4v1.4h-1.4zM81 102h1.4v1.4h-1.4zM81 109h1.4v1.4h-1.4zM81 124h1.4v1.4h-1.4zM81 125h1.4v1.4h-1.4zM81 130h1.4v1.4h-1.4zM81 133h1.4v1.4h-1.4zM81 140h1.4v1.4h-1.4zM81 188h1.4v1.4h-1.4zM82 81h1.4v1.4h-1.4zM82 155h1.4v1.4h-1.4zM82 194h1.4v1.4h-1.4zM82 198h1.4v1.4h-1.4zM82 217h1.4v1.4h-1.4zM83 100h1.4v1.4h-1.4zM83 129h1.4v1.4h-1.4zM83 163h1.4v1.4h-1.4zM83 198h1.4v1.4h-1.4zM84 82h1.4v1.4h-1.4zM84 95h1.4v1.4h-1.4zM84 117h1.4v1.4h-1.4zM84 159h1.4v1.4h-1.4zM84 163h1.4v1.4h-1.4zM85 74h1.4v1.4h-1.4zM85 75h1.4v1.4h-1.4zM85 80h1.4v1.4h-1.4zM85 91h1.4v1.4h-1.4zM85 95h1.4v1.4h-1.4zM85 102h1.4v1.4h-1.4zM85 121h1.4v1.4h-1.4zM85 123h1.4v1.4h-1.4zM85 149h1.4v1.4h-1.4zM85 172h1.4v1.4h-1.4zM85 185h1.4v1.4h-1.4zM85 187h1.4v1.4h-1.4zM86 97h1.4v1.4h-1.4zM86 123h1.4v1.4h-1.4zM86 129h1.4v1.4h-1.4zM86 168h1.4v1.4h-1.4zM86 171h1.4v1.4h-1.4zM86 194h1.4v1.4h-1.4zM86 206h1.4v1.4h-1.4zM87 86h1.4v1.4h-1.4zM87 95h1.4v1.4h-1.4zM87 117h1.4v1.4h-1.4zM87 126h1.4v1.4h-1.4zM87 134h1.4v1.4h-1.4zM87 144h1.4v1.4h-1.4zM87 169h1.4v1.4h-1.4zM87 200h1.4v1.4h-1.4zM87 205h1.4v1.4h-1.4zM87 206h1.4v1.4h-1.4zM87 207h1.4v1.4h-1.4zM87 213h1.4v1.4h-1.4zM88 73h1.4v1.4h-1.4zM88 74h1.4v1.4h-1.4zM88 100h1.4v1.4h-1.4zM88 109h1.4v1.4h-1.4zM88 119h1.4v1.4h-1.4zM88 171h1.4v1.4h-1.4zM88 197h1.4v1.4h-1.4zM88 209h1.4v1.4h-1.4zM89 58h1.4v1.4h-1.4zM89 79h1.4v1.4h-1.4zM89 95h1.4v1.4h-1.4zM89 198h1.4v1.4h-1.4zM89 201h1.4v1.4h-1.4zM89 205h1.4v1.4h-1.4zM90 48h1.4v1.4h-1.4zM90 89h1.4v1.4h-1.4zM90 115h1.4v1.4h-1.4zM90 142h1.4v1.4h-1.4zM90 170h1.4v1.4h-1.4zM90 191h1.4v1.4h-1.4zM91 48h1.4v1.4h-1.4zM91 50h1.4v1.4h-1.4zM91 60h1.4v1.4h-1.4zM91 76h1.4v1.4h-1.4zM91 80h1.4v1.4h-1.4zM91 91h1.4v1.4h-1.4zM91 94h1.4v1.4h-1.4zM91 101h1.4v1.4h-1.4zM91 105h1.4v1.4h-1.4zM91 114h1.4v1.4h-1.4zM91 123h1.4v1.4h-1.4zM92 48h1.4v1.4h-1.4zM92 50h1.4v1.4h-1.4zM92 68h1.4v1.4h-1.4zM92 70h1.4v1.4h-1.4zM92 84h1.4v1.4h-1.4zM92 97h1.4v1.4h-1.4zM92 102h1.4v1.4h-1.4zM92 104h1.4v1.4h-1.4zM92 111h1.4v1.4h-1.4zM92 119h1.4v1.4h-1.4zM92 125h1.4v1.4h-1.4zM92 157h1.4v1.4h-1.4zM92 159h1.4v1.4h-1.4zM93 46h1.4v1.4h-1.4zM93 48h1.4v1.4h-1.4zM93 54h1.4v1.4h-1.4zM93 83h1.4v1.4h-1.4zM93 110h1.4v1.4h-1.4zM93 112h1.4v1.4h-1.4zM93 124h1.4v1.4h-1.4zM93 186h1.4v1.4h-1.4zM94 42h1.4v1.4h-1.4zM94 70h1.4v1.4h-1.4zM94 100h1.4v1.4h-1.4zM94 104h1.4v1.4h-1.4zM94 105h1.4v1.4h-1.4zM94 112h1.4v1.4h-1.4zM94 121h1.4v1.4h-1.4zM94 146h1.4v1.4h-1.4zM94 157h1.4v1.4h-1.4zM95 48h1.4v1.4h-1.4zM95 50h1.4v1.4h-1.4zM95 71h1.4v1.4h-1.4zM95 73h1.4v1.4h-1.4zM95 98h1.4v1.4h-1.4zM95 114h1.4v1.4h-1.4zM95 188h1.4v1.4h-1.4zM96 40h1.4v1.4h-1.4zM96 43h1.4v1.4h-1.4zM96 50h1.4v1.4h-1.4zM96 53h1.4v1.4h-1.4zM96 79h1.4v1.4h-1.4zM96 110h1.4v1.4h-1.4zM96 113h1.4v1.4h-1.4zM96 116h1.4v1.4h-1.4zM96 156h1.4v1.4h-1.4zM96 208h1.4v1.4h-1.4zM97 46h1.4v1.4h-1.4zM97 97h1.4v1.4h-1.4zM97 115h1.4v1.4h-1.4zM97 134h1.4v1.4h-1.4zM97 148h1.4v1.4h-1.4zM98 76h1.4v1.4h-1.4zM98 81h1.4v1.4h-1.4zM98 91h1.4v1.4h-1.4zM98 114h1.4v1.4h-1.4zM98 116h1.4v1.4h-1.4zM98 119h1.4v1.4h-1.4zM98 130h1.4v1.4h-1.4zM98 133h1.4v1.4h-1.4zM98 139h1.4v1.4h-1.4zM98 185h1.4v1.4h-1.4zM98 191h1.4v1.4h-1.4zM98 205h1.4v1.4h-1.4zM99 72h1.4v1.4h-1.4zM99 73h1.4v1.4h-1.4zM99 80h1.4v1.4h-1.4zM99 89h1.4v1.4h-1.4zM99 98h1.4v1.4h-1.4zM99 159h1.4v1.4h-1.4zM100 57h1.4v1.4h-1.4zM100 77h1.4v1.4h-1.4zM100 89h1.4v1.4h-1.4zM100 96h1.4v1.4h-1.4zM100 169h1.4v1.4h-1.4zM100 202h1.4v1.4h-1.4zM100 214h1.4v1.4h-1.4zM100 221h1.4v1.4h-1.4zM101 78h1.4v1.4h-1.4zM101 103h1.4v1.4h-1.4zM101 119h1.4v1.4h-1.4zM101 134h1.4v1.4h-1.4zM101 149h1.4v1.4h-1.4zM101 169h1.4v1.4h-1.4zM101 170h1.4v1.4h-1.4zM101 172h1.4v1.4h-1.4zM101 206h1.4v1.4h-1.4zM101 218h1.4v1.4h-1.4zM102 41h1.4v1.4h-1.4zM102 88h1.4v1.4h-1.4zM102 92h1.4v1.4h-1.4zM102 135h1.4v1.4h-1.4zM102 165h1.4v1.4h-1.4zM102 191h1.4v1.4h-1.4zM102 203h1.4v1.4h-1.4zM102 204h1.4v1.4h-1.4zM103 54h1.4v1.4h-1.4zM103 91h1.4v1.4h-1.4zM103 109h1.4v1.4h-1.4zM103 129h1.4v1.4h-1.4zM103 175h1.4v1.4h-1.4zM103 176h1.4v1.4h-1.4zM103 186h1.4v1.4h-1.4zM103 195h1.4v1.4h-1.4zM104 61h1.4v1.4h-1.4zM104 87h1.4v1.4h-1.4zM104 97h1.4v1.4h-1.4zM104 103h1.4v1.4h-1.4zM104 110h1.4v1.4h-1.4zM104 117h1.4v1.4h-1.4zM104 122h1.4v1.4h-1.4zM104 123h1.4v1.4h-1.4zM104 128h1.4v1.4h-1.4zM104 161h1.4v1.4h-1.4zM104 170h1.4v1.4h-1.4zM104 178h1.4v1.4h-1.4zM104 185h1.4v1.4h-1.4zM104 186h1.4v1.4h-1.4zM104 191h1.4v1.4h-1.4zM105 63h1.4v1.4h-1.4zM105 108h1.4v1.4h-1.4zM105 127h1.4v1.4h-1.4zM105 147h1.4v1.4h-1.4zM105 149h1.4v1.4h-1.4zM105 173h1.4v1.4h-1.4zM106 74h1.4v1.4h-1.4zM106 113h1.4v1.4h-1.4zM106 149h1.4v1.4h-1.4zM106 180h1.4v1.4h-1.4zM106 191h1.4v1.4h-1.4zM106 205h1.4v1.4h-1.4zM107 63h1.4v1.4h-1.4zM107 90h1.4v1.4h-1.4zM107 174h1.4v1.4h-1.4zM107 187h1.4v1.4h-1.4zM107 189h1.4v1.4h-1.4zM107 190h1.4v1.4h-1.4zM108 46h1.4v1.4h-1.4zM108 88h1.4v1.4h-1.4zM108 147h1.4v1.4h-1.4zM108 166h1.4v1.4h-1.4zM108 192h1.4v1.4h-1.4zM109 44h1.4v1.4h-1.4zM109 45h1.4v1.4h-1.4zM109 56h1.4v1.4h-1.4zM109 90h1.4v1.4h-1.4zM109 120h1.4v1.4h-1.4zM109 174h1.4v1.4h-1.4zM109 209h1.4v1.4h-1.4zM110 56h1.4v1.4h-1.4zM110 86h1.4v1.4h-1.4zM110 171h1.4v1.4h-1.4zM110 181h1.4v1.4h-1.4zM110 190h1.4v1.4h-1.4zM111 44h1.4v1.4h-1.4zM111 56h1.4v1.4h-1.4zM111 57h1.4v1.4h-1.4zM111 63h1.4v1.4h-1.4zM111 87h1.4v1.4h-1.4zM111 115h1.4v1.4h-1.4zM111 120h1.4v1.4h-1.4zM111 133h1.4v1.4h-1.4zM111 136h1.4v1.4h-1.4zM111 181h1.4v1.4h-1.4zM111 185h1.4v1.4h-1.4zM111 189h1.4v1.4h-1.4zM112 47h1.4v1.4h-1.4zM112 62h1.4v1.4h-1.4zM112 176h1.4v1.4h-1.4zM113 35h1.4v1.4h-1.4zM113 52h1.4v1.4h-1.4zM113 57h1.4v1.4h-1.4zM113 101h1.4v1.4h-1.4zM113 107h1.4v1.4h-1.4zM113 122h1.4v1.4h-1.4zM113 138h1.4v1.4h-1.4zM113 202h1.4v1.4h-1.4zM113 216h1.4v1.4h-1.4zM113 219h1.4v1.4h-1.4zM114 52h1.4v1.4h-1.4zM114 59h1.4v1.4h-1.4zM114 60h1.4v1.4h-1.4zM114 63h1.4v1.4h-1.4zM114 76h1.4v1.4h-1.4zM114 77h1.4v1.4h-1.4zM114 98h1.4v1.4h-1.4zM114 101h1.4v1.4h-1.4zM114 162h1.4v1.4h-1.4zM114 191h1.4v1.4h-1.4zM114 217h1.4v1.4h-1.4zM115 54h1.4v1.4h-1.4zM115 58h1.4v1.4h-1.4zM115 64h1.4v1.4h-1.4zM115 65h1.4v1.4h-1.4zM115 73h1.4v1.4h-1.4zM115 75h1.4v1.4h-1.4zM115 120h1.4v1.4h-1.4zM115 167h1.4v1.4h-1.4zM115 204h1.4v1.4h-1.4zM116 37h1.4v1.4h-1.4zM116 82h1.4v1.4h-1.4zM116 124h1.4v1.4h-1.4zM116 130h1.4v1.4h-1.4zM116 132h1.4v1.4h-1.4zM116 178h1.4v1.4h-1.4zM117 53h1.4v1.4h-1.4zM117 54h1.4v1.4h-1.4zM117 70h1.4v1.4h-1.4zM117 100h1.4v1.4h-1.4zM117 133h1.4v1.4h-1.4zM117 185h1.4v1.4h-1.4zM117 186h1.4v1.4h-1.4zM117 189h1.4v1.4h-1.4zM118 45h1.4v1.4h-1.4zM118 51h1.4v1.4h-1.4zM118 117h1.4v1.4h-1.4zM118 147h1.4v1.4h-1.4zM118 163h1.4v1.4h-1.4zM118 188h1.4v1.4h-1.4zM118 200h1.4v1.4h-1.4zM119 49h1.4v1.4h-1.4zM119 57h1.4v1.4h-1.4zM119 68h1.4v1.4h-1.4zM119 106h1.4v1.4h-1.4zM119 110h1.4v1.4h-1.4zM119 219h1.4v1.4h-1.4zM120 41h1.4v1.4h-1.4zM120 44h1.4v1.4h-1.4zM120 50h1.4v1.4h-1.4zM120 64h1.4v1.4h-1.4zM120 86h1.4v1.4h-1.4zM120 91h1.4v1.4h-1.4zM120 118h1.4v1.4h-1.4zM120 150h1.4v1.4h-1.4zM120 158h1.4v1.4h-1.4zM120 196h1.4v1.4h-1.4zM120 197h1.4v1.4h-1.4zM120 204h1.4v1.4h-1.4zM121 57h1.4v1.4h-1.4zM121 71h1.4v1.4h-1.4zM121 102h1.4v1.4h-1.4zM121 110h1.4v1.4h-1.4zM122 62h1.4v1.4h-1.4zM122 70h1.4v1.4h-1.4zM122 88h1.4v1.4h-1.4zM122 99h1.4v1.4h-1.4zM122 110h1.4v1.4h-1.4zM122 163h1.4v1.4h-1.4zM122 164h1.4v1.4h-1.4zM122 189h1.4v1.4h-1.4zM122 204h1.4v1.4h-1.4zM123 69h1.4v1.4h-1.4zM123 92h1.4v1.4h-1.4zM123 98h1.4v1.4h-1.4zM123 179h1.4v1.4h-1.4zM123 184h1.4v1.4h-1.4zM123 188h1.4v1.4h-1.4zM123 204h1.4v1.4h-1.4zM123 207h1.4v1.4h-1.4zM124 48h1.4v1.4h-1.4zM124 51h1.4v1.4h-1.4zM124 61h1.4v1.4h-1.4zM124 66h1.4v1.4h-1.4zM124 86h1.4v1.4h-1.4zM124 89h1.4v1.4h-1.4zM124 176h1.4v1.4h-1.4zM124 194h1.4v1.4h-1.4zM124 195h1.4v1.4h-1.4zM124 214h1.4v1.4h-1.4zM125 74h1.4v1.4h-1.4zM125 89h1.4v1.4h-1.4zM125 93h1.4v1.4h-1.4zM125 94h1.4v1.4h-1.4zM125 96h1.4v1.4h-1.4zM126 49h1.4v1.4h-1.4zM126 135h1.4v1.4h-1.4zM126 171h1.4v1.4h-1.4zM126 172h1.4v1.4h-1.4zM126 218h1.4v1.4h-1.4zM127 108h1.4v1.4h-1.4zM127 171h1.4v1.4h-1.4zM127 176h1.4v1.4h-1.4zM127 177h1.4v1.4h-1.4zM127 185h1.4v1.4h-1.4zM127 212h1.4v1.4h-1.4zM127 215h1.4v1.4h-1.4zM128 53h1.4v1.4h-1.4zM128 96h1.4v1.4h-1.4zM128 100h1.4v1.4h-1.4zM128 102h1.4v1.4h-1.4zM128 166h1.4v1.4h-1.4zM128 182h1.4v1.4h-1.4zM128 190h1.4v1.4h-1.4zM128 205h1.4v1.4h-1.4zM129 40h1.4v1.4h-1.4zM129 49h1.4v1.4h-1.4zM129 78h1.4v1.4h-1.4zM129 90h1.4v1.4h-1.4zM129 113h1.4v1.4h-1.4zM129 163h1.4v1.4h-1.4zM129 166h1.4v1.4h-1.4zM129 185h1.4v1.4h-1.4zM129 204h1.4v1.4h-1.4zM130 47h1.4v1.4h-1.4zM130 48h1.4v1.4h-1.4zM130 125h1.4v1.4h-1.4zM130 126h1.4v1.4h-1.4zM130 174h1.4v1.4h-1.4zM130 179h1.4v1.4h-1.4zM130 202h1.4v1.4h-1.4zM130 205h1.4v1.4h-1.4zM131 94h1.4v1.4h-1.4zM131 167h1.4v1.4h-1.4zM131 208h1.4v1.4h-1.4zM132 44h1.4v1.4h-1.4zM132 45h1.4v1.4h-1.4zM132 54h1.4v1.4h-1.4zM132 77h1.4v1.4h-1.4zM132 81h1.4v1.4h-1.4zM132 104h1.4v1.4h-1.4zM132 106h1.4v1.4h-1.4zM132 141h1.4v1.4h-1.4zM132 150h1.4v1.4h-1.4zM132 175h1.4v1.4h-1.4zM132 176h1.4v1.4h-1.4zM132 198h1.4v1.4h-1.4zM132 201h1.4v1.4h-1.4zM132 204h1.4v1.4h-1.4zM133 44h1.4v1.4h-1.4zM133 61h1.4v1.4h-1.4zM133 101h1.4v1.4h-1.4zM133 155h1.4v1.4h-1.4zM133 165h1.4v1.4h-1.4zM133 200h1.4v1.4h-1.4zM134 46h1.4v1.4h-1.4zM134 54h1.4v1.4h-1.4zM134 71h1.4v1.4h-1.4zM134 133h1.4v1.4h-1.4zM134 207h1.4v1.4h-1.4zM134 220h1.4v1.4h-1.4zM135 57h1.4v1.4h-1.4zM135 129h1.4v1.4h-1.4zM135 191h1.4v1.4h-1.4zM137 71h1.4v1.4h-1.4zM137 198h1.4v1.4h-1.4zM137 210h1.4v1.4h-1.4zM138 60h1.4v1.4h-1.4zM138 62h1.4v1.4h-1.4zM138 192h1.4v1.4h-1.4zM138 219h1.4v1.4h-1.4zM139 51h1.4v1.4h-1.4zM139 59h1.4v1.4h-1.4zM140 68h1.4v1.4h-1.4zM140 69h1.4v1.4h-1.4zM140 192h1.4v1.4h-1.4zM140 205h1.4v1.4h-1.4zM141 59h1.4v1.4h-1.4zM141 73h1.4v1.4h-1.4zM141 210h1.4v1.4h-1.4zM142 64h1.4v1.4h-1.4zM142 70h1.4v1.4h-1.4zM142 71h1.4v1.4h-1.4zM142 205h1.4v1.4h-1.4zM143 51h1.4v1.4h-1.4zM143 59h1.4v1.4h-1.4zM143 66h1.4v1.4h-1.4zM143 207h1.4v1.4h-1.4zM144 46h1.4v1.4h-1.4zM144 52h1.4v1.4h-1.4zM144 61h1.4v1.4h-1.4zM144 69h1.4v1.4h-1.4zM144 72h1.4v1.4h-1.4zM145 51h1.4v1.4h-1.4zM145 53h1.4v1.4h-1.4zM145 61h1.4v1.4h-1.4zM145 64h1.4v1.4h-1.4zM145 196h1.4v1.4h-1.4zM145 198h1.4v1.4h-1.4zM145 203h1.4v1.4h-1.4zM145 207h1.4v1.4h-1.4zM145 209h1.4v1.4h-1.4zM145 217h1.4v1.4h-1.4zM146 61h1.4v1.4h-1.4zM147 64h1.4v1.4h-1.4zM149 57h1.4v1.4h-1.4zM149 60h1.4v1.4h-1.4zM149 220h1.4v1.4h-1.4zM150 52h1.4v1.4h-1.4zM150 53h1.4v1.4h-1.4zM150 62h1.4v1.4h-1.4zM150 183h1.4v1.4h-1.4zM150 208h1.4v1.4h-1.4zM150 210h1.4v1.4h-1.4zM151 57h1.4v1.4h-1.4zM152 54h1.4v1.4h-1.4zM152 58h1.4v1.4h-1.4zM152 61h1.4v1.4h-1.4zM152 211h1.4v1.4h-1.4zM153 45h1.4v1.4h-1.4zM153 55h1.4v1.4h-1.4zM153 61h1.4v1.4h-1.4zM153 69h1.4v1.4h-1.4zM153 185h1.4v1.4h-1.4zM153 187h1.4v1.4h-1.4zM153 203h1.4v1.4h-1.4zM153 212h1.4v1.4h-1.4zM154 60h1.4v1.4h-1.4zM154 190h1.4v1.4h-1.4zM155 56h1.4v1.4h-1.4zM155 60h1.4v1.4h-1.4zM156 186h1.4v1.4h-1.4zM157 73h1.4v1.4h-1.4zM157 195h1.4v1.4h-1.4zM158 184h1.4v1.4h-1.4zM159 68h1.4v1.4h-1.4zM159 72h1.4v1.4h-1.4zM159 186h1.4v1.4h-1.4zM161 50h1.4v1.4h-1.4zM161 60h1.4v1.4h-1.4zM161 180h1.4v1.4h-1.4zM162 55h1.4v1.4h-1.4zM162 60h1.4v1.4h-1.4zM162 65h1.4v1.4h-1.4zM162 68h1.4v1.4h-1.4zM162 70h1.4v1.4h-1.4zM162 200h1.4v1.4h-1.4zM162 204h1.4v1.4h-1.4zM162 206h1.4v1.4h-1.4zM163 54h1.4v1.4h-1.4zM163 55h1.4v1.4h-1.4zM163 56h1.4v1.4h-1.4zM163 60h1.4v1.4h-1.4zM163 148h1.4v1.4h-1.4zM163 182h1.4v1.4h-1.4zM163 206h1.4v1.4h-1.4zM164 40h1.4v1.4h-1.4zM164 54h1.4v1.4h-1.4zM164 55h1.4v1.4h-1.4zM164 59h1.4v1.4h-1.4zM164 202h1.4v1.4h-1.4zM164 204h1.4v1.4h-1.4zM164 208h1.4v1.4h-1.4zM164 213h1.4v1.4h-1.4zM165 52h1.4v1.4h-1.4zM165 53h1.4v1.4h-1.4zM165 54h1.4v1.4h-1.4zM165 62h1.4v1.4h-1.4zM165 65h1.4v1.4h-1.4zM165 208h1.4v1.4h-1.4zM165 209h1.4v1.4h-1.4zM166 54h1.4v1.4h-1.4zM166 65h1.4v1.4h-1.4zM166 180h1.4v1.4h-1.4zM166 219h1.4v1.4h-1.4zM166 223h1.4v1.4h-1.4zM167 53h1.4v1.4h-1.4zM167 57h1.4v1.4h-1.4zM167 208h1.4v1.4h-1.4zM167 220h1.4v1.4h-1.4zM168 39h1.4v1.4h-1.4zM168 45h1.4v1.4h-1.4zM168 54h1.4v1.4h-1.4zM168 65h1.4v1.4h-1.4zM169 44h1.4v1.4h-1.4zM170 219h1.4v1.4h-1.4zM171 56h1.4v1.4h-1.4zM171 178h1.4v1.4h-1.4zM171 180h1.4v1.4h-1.4zM171 181h1.4v1.4h-1.4zM171 194h1.4v1.4h-1.4zM172 55h1.4v1.4h-1.4zM172 57h1.4v1.4h-1.4zM172 71h1.4v1.4h-1.4zM172 188h1.4v1.4h-1.4zM172 205h1.4v1.4h-1.4zM172 213h1.4v1.4h-1.4zM172 217h1.4v1.4h-1.4zM173 205h1.4v1.4h-1.4zM173 221h1.4v1.4h-1.4zM174 74h1.4v1.4h-1.4zM174 162h1.4v1.4h-1.4zM174 191h1.4v1.4h-1.4zM174 193h1.4v1.4h-1.4zM175 50h1.4v1.4h-1.4zM175 125h1.4v1.4h-1.4zM175 142h1.4v1.4h-1.4zM175 178h1.4v1.4h-1.4zM175 206h1.4v1.4h-1.4zM176 102h1.4v1.4h-1.4zM176 107h1.4v1.4h-1.4zM177 42h1.4v1.4h-1.4zM177 47h1.4v1.4h-1.4zM177 117h1.4v1.4h-1.4zM177 123h1.4v1.4h-1.4zM177 151h1.4v1.4h-1.4zM177 152h1.4v1.4h-1.4zM177 194h1.4v1.4h-1.4zM177 208h1.4v1.4h-1.4zM178 60h1.4v1.4h-1.4zM178 105h1.4v1.4h-1.4zM178 106h1.4v1.4h-1.4zM178 191h1.4v1.4h-1.4zM178 209h1.4v1.4h-1.4zM179 125h1.4v1.4h-1.4zM179 129h1.4v1.4h-1.4zM179 130h1.4v1.4h-1.4zM179 134h1.4v1.4h-1.4zM179 145h1.4v1.4h-1.4zM179 159h1.4v1.4h-1.4zM179 181h1.4v1.4h-1.4zM179 204h1.4v1.4h-1.4zM180 57h1.4v1.4h-1.4zM180 63h1.4v1.4h-1.4zM180 65h1.4v1.4h-1.4zM180 120h1.4v1.4h-1.4zM180 121h1.4v1.4h-1.4zM180 141h1.4v1.4h-1.4zM180 155h1.4v1.4h-1.4zM180 156h1.4v1.4h-1.4zM180 191h1.4v1.4h-1.4zM180 221h1.4v1.4h-1.4zM181 64h1.4v1.4h-1.4zM181 153h1.4v1.4h-1.4zM181 183h1.4v1.4h-1.4zM181 203h1.4v1.4h-1.4zM181 204h1.4v1.4h-1.4zM182 46h1.4v1.4h-1.4zM182 57h1.4v1.4h-1.4zM182 124h1.4v1.4h-1.4zM182 154h1.4v1.4h-1.4zM182 181h1.4v1.4h-1.4zM182 204h1.4v1.4h-1.4zM183 139h1.4v1.4h-1.4zM183 153h1.4v1.4h-1.4zM183 210h1.4v1.4h-1.4zM183 219h1.4v1.4h-1.4zM184 54h1.4v1.4h-1.4zM184 63h1.4v1.4h-1.4zM184 176h1.4v1.4h-1.4zM184 191h1.4v1.4h-1.4zM184 200h1.4v1.4h-1.4zM185 51h1.4v1.4h-1.4zM185 101h1.4v1.4h-1.4zM185 125h1.4v1.4h-1.4zM185 142h1.4v1.4h-1.4zM185 172h1.4v1.4h-1.4zM185 178h1.4v1.4h-1.4zM185 181h1.4v1.4h-1.4zM185 193h1.4v1.4h-1.4zM186 48h1.4v1.4h-1.4zM186 107h1.4v1.4h-1.4zM186 111h1.4v1.4h-1.4zM186 145h1.4v1.4h-1.4zM186 146h1.4v1.4h-1.4zM186 177h1.4v1.4h-1.4zM186 191h1.4v1.4h-1.4zM186 211h1.4v1.4h-1.4zM186 221h1.4v1.4h-1.4zM187 43h1.4v1.4h-1.4zM187 54h1.4v1.4h-1.4zM187 112h1.4v1.4h-1.4zM187 136h1.4v1.4h-1.4zM187 172h1.4v1.4h-1.4zM187 213h1.4v1.4h-1.4zM187 220h1.4v1.4h-1.4zM188 46h1.4v1.4h-1.4zM188 51h1.4v1.4h-1.4zM188 55h1.4v1.4h-1.4zM188 60h1.4v1.4h-1.4zM188 68h1.4v1.4h-1.4zM188 171h1.4v1.4h-1.4zM188 187h1.4v1.4h-1.4zM188 192h1.4v1.4h-1.4zM188 201h1.4v1.4h-1.4zM189 49h1.4v1.4h-1.4zM189 66h1.4v1.4h-1.4zM189 71h1.4v1.4h-1.4zM189 115h1.4v1.4h-1.4zM190 48h1.4v1.4h-1.4zM190 58h1.4v1.4h-1.4zM190 62h1.4v1.4h-1.4zM190 66h1.4v1.4h-1.4zM190 135h1.4v1.4h-1.4zM190 142h1.4v1.4h-1.4zM190 208h1.4v1.4h-1.4zM190 216h1.4v1.4h-1.4zM191 48h1.4v1.4h-1.4zM191 52h1.4v1.4h-1.4zM191 62h1.4v1.4h-1.4zM191 69h1.4v1.4h-1.4zM192 57h1.4v1.4h-1.4zM192 60h1.4v1.4h-1.4zM192 61h1.4v1.4h-1.4zM192 66h1.4v1.4h-1.4zM192 117h1.4v1.4h-1.4zM192 159h1.4v1.4h-1.4zM192 164h1.4v1.4h-1.4zM192 189h1.4v1.4h-1.4zM192 190h1.4v1.4h-1.4zM192 209h1.4v1.4h-1.4zM193 53h1.4v1.4h-1.4zM193 58h1.4v1.4h-1.4zM193 61h1.4v1.4h-1.4zM193 63h1.4v1.4h-1.4zM193 109h1.4v1.4h-1.4zM193 118h1.4v1.4h-1.4zM193 209h1.4v1.4h-1.4zM194 47h1.4v1.4h-1.4zM194 61h1.4v1.4h-1.4zM194 67h1.4v1.4h-1.4zM194 121h1.4v1.4h-1.4zM195 56h1.4v1.4h-1.4zM195 207h1.4v1.4h-1.4zM195 209h1.4v1.4h-1.4zM196 60h1.4v1.4h-1.4zM196 133h1.4v1.4h-1.4zM196 151h1.4v1.4h-1.4zM196 155h1.4v1.4h-1.4zM196 185h1.4v1.4h-1.4zM196 192h1.4v1.4h-1.4zM197 52h1.4v1.4h-1.4zM197 55h1.4v1.4h-1.4zM197 70h1.4v1.4h-1.4zM198 47h1.4v1.4h-1.4zM198 60h1.4v1.4h-1.4zM198 70h1.4v1.4h-1.4zM198 72h1.4v1.4h-1.4zM198 112h1.4v1.4h-1.4zM198 139h1.4v1.4h-1.4zM198 207h1.4v1.4h-1.4zM199 49h1.4v1.4h-1.4zM199 99h1.4v1.4h-1.4zM199 111h1.4v1.4h-1.4zM199 184h1.4v1.4h-1.4zM199 195h1.4v1.4h-1.4zM199 206h1.4v1.4h-1.4zM199 209h1.4v1.4h-1.4zM200 53h1.4v1.4h-1.4zM200 180h1.4v1.4h-1.4zM200 207h1.4v1.4h-1.4zM201 48h1.4v1.4h-1.4zM201 51h1.4v1.4h-1.4zM201 53h1.4v1.4h-1.4zM201 54h1.4v1.4h-1.4zM201 55h1.4v1.4h-1.4zM201 133h1.4v1.4h-1.4zM201 164h1.4v1.4h-1.4zM201 166h1.4v1.4h-1.4zM201 205h1.4v1.4h-1.4zM201 207h1.4v1.4h-1.4zM202 47h1.4v1.4h-1.4zM202 53h1.4v1.4h-1.4zM202 66h1.4v1.4h-1.4zM202 73h1.4v1.4h-1.4zM202 119h1.4v1.4h-1.4zM202 133h1.4v1.4h-1.4zM202 184h1.4v1.4h-1.4zM202 189h1.4v1.4h-1.4zM202 205h1.4v1.4h-1.4zM203 55h1.4v1.4h-1.4zM203 56h1.4v1.4h-1.4zM203 137h1.4v1.4h-1.4zM203 158h1.4v1.4h-1.4zM203 159h1.4v1.4h-1.4zM203 208h1.4v1.4h-1.4zM203 209h1.4v1.4h-1.4zM204 54h1.4v1.4h-1.4zM204 56h1.4v1.4h-1.4zM204 68h1.4v1.4h-1.4zM204 79h1.4v1.4h-1.4zM204 81h1.4v1.4h-1.4zM204 121h1.4v1.4h-1.4zM204 203h1.4v1.4h-1.4zM204 209h1.4v1.4h-1.4zM205 41h1.4v1.4h-1.4zM205 48h1.4v1.4h-1.4zM205 50h1.4v1.4h-1.4zM205 57h1.4v1.4h-1.4zM205 68h1.4v1.4h-1.4zM205 194h1.4v1.4h-1.4zM206 41h1.4v1.4h-1.4zM206 123h1.4v1.4h-1.4zM206 126h1.4v1.4h-1.4zM206 137h1.4v1.4h-1.4zM206 184h1.4v1.4h-1.4zM206 207h1.4v1.4h-1.4zM206 210h1.4v1.4h-1.4zM206 219h1.4v1.4h-1.4zM207 75h1.4v1.4h-1.4zM207 78h1.4v1.4h-1.4zM207 83h1.4v1.4h-1.4zM207 91h1.4v1.4h-1.4zM207 93h1.4v1.4h-1.4zM207 98h1.4v1.4h-1.4zM207 101h1.4v1.4h-1.4zM207 114h1.4v1.4h-1.4zM207 124h1.4v1.4h-1.4zM207 140h1.4v1.4h-1.4zM207 152h1.4v1.4h-1.4zM207 180h1.4v1.4h-1.4zM207 186h1.4v1.4h-1.4zM208 67h1.4v1.4h-1.4zM208 90h1.4v1.4h-1.4zM208 102h1.4v1.4h-1.4zM208 106h1.4v1.4h-1.4zM208 125h1.4v1.4h-1.4zM208 128h1.4v1.4h-1.4zM208 184h1.4v1.4h-1.4zM209 71h1.4v1.4h-1.4zM209 95h1.4v1.4h-1.4zM209 123h1.4v1.4h-1.4zM209 128h1.4v1.4h-1.4zM209 155h1.4v1.4h-1.4zM209 169h1.4v1.4h-1.4zM210 91h1.4v1.4h-1.4zM210 93h1.4v1.4h-1.4zM210 94h1.4v1.4h-1.4zM210 131h1.4v1.4h-1.4zM210 169h1.4v1.4h-1.4zM210 186h1.4v1.4h-1.4zM210 187h1.4v1.4h-1.4zM210 221h1.4v1.4h-1.4zM211 49h1.4v1.4h-1.4zM211 62h1.4v1.4h-1.4zM211 72h1.4v1.4h-1.4zM211 85h1.4v1.4h-1.4zM211 92h1.4v1.4h-1.4zM211 93h1.4v1.4h-1.4zM211 94h1.4v1.4h-1.4zM211 131h1.4v1.4h-1.4zM211 142h1.4v1.4h-1.4zM211 155h1.4v1.4h-1.4zM211 200h1.4v1.4h-1.4zM212 45h1.4v1.4h-1.4zM212 75h1.4v1.4h-1.4zM212 82h1.4v1.4h-1.4zM212 87h1.4v1.4h-1.4zM212 94h1.4v1.4h-1.4zM212 95h1.4v1.4h-1.4zM212 126h1.4v1.4h-1.4zM212 127h1.4v1.4h-1.4zM212 128h1.4v1.4h-1.4zM212 181h1.4v1.4h-1.4zM212 208h1.4v1.4h-1.4zM213 54h1.4v1.4h-1.4zM213 71h1.4v1.4h-1.4zM213 91h1.4v1.4h-1.4zM213 124h1.4v1.4h-1.4zM213 125h1.4v1.4h-1.4zM213 129h1.4v1.4h-1.4zM213 134h1.4v1.4h-1.4zM213 137h1.4v1.4h-1.4zM213 206h1.4v1.4h-1.4zM213 210h1.4v1.4h-1.4zM214 42h1.4v1.4h-1.4zM214 94h1.4v1.4h-1.4zM214 95h1.4v1.4h-1.4zM214 96h1.4v1.4h-1.4zM214 134h1.4v1.4h-1.4zM214 136h1.4v1.4h-1.4zM214 182h1.4v1.4h-1.4zM214 184h1.4v1.4h-1.4zM214 217h1.4v1.4h-1.4zM215 66h1.4v1.4h-1.4zM215 91h1.4v1.4h-1.4zM215 94h1.4v1.4h-1.4zM215 126h1.4v1.4h-1.4zM215 153h1.4v1.4h-1.4zM215 181h1.4v1.4h-1.4zM216 54h1.4v1.4h-1.4zM216 94h1.4v1.4h-1.4zM216 102h1.4v1.4h-1.4zM216 128h1.4v1.4h-1.4zM216 136h1.4v1.4h-1.4zM216 202h1.4v1.4h-1.4zM217 44h1.4v1.4h-1.4zM217 52h1.4v1.4h-1.4zM217 53h1.4v1.4h-1.4zM217 57h1.4v1.4h-1.4zM217 71h1.4v1.4h-1.4zM217 96h1.4v1.4h-1.4zM217 98h1.4v1.4h-1.4zM217 107h1.4v1.4h-1.4zM217 128h1.4v1.4h-1.4zM217 162h1.4v1.4h-1.4zM217 175h1.4v1.4h-1.4zM217 203h1.4v1.4h-1.4zM217 206h1.4v1.4h-1.4zM218 70h1.4v1.4h-1.4zM218 91h1.4v1.4h-1.4zM218 115h1.4v1.4h-1.4zM218 116h1.4v1.4h-1.4zM218 119h1.4v1.4h-1.4zM218 159h1.4v1.4h-1.4zM218 183h1.4v1.4h-1.4zM218 185h1.4v1.4h-1.4zM218 187h1.4v1.4h-1.4zM218 189h1.4v1.4h-1.4zM218 196h1.4v1.4h-1.4zM218 208h1.4v1.4h-1.4zM218 219h1.4v1.4h-1.4zM219 73h1.4v1.4h-1.4zM219 90h1.4v1.4h-1.4zM219 93h1.4v1.4h-1.4zM219 94h1.4v1.4h-1.4zM219 121h1.4v1.4h-1.4zM219 151h1.4v1.4h-1.4zM219 152h1.4v1.4h-1.4zM219 153h1.4v1.4h-1.4zM219 163h1.4v1.4h-1.4zM219 168h1.4v1.4h-1.4zM219 172h1.4v1.4h-1.4zM220 52h1.4v1.4h-1.4zM220 55h1.4v1.4h-1.4zM220 56h1.4v1.4h-1.4zM220 97h1.4v1.4h-1.4zM220 119h1.4v1.4h-1.4zM220 169h1.4v1.4h-1.4zM220 178h1.4v1.4h-1.4zM220 183h1.4v1.4h-1.4zM220 186h1.4v1.4h-1.4zM220 191h1.4v1.4h-1.4zM220 199h1.4v1.4h-1.4zM220 203h1.4v1.4h-1.4zM220 221h1.4v1.4h-1.4zM221 45h1.4v1.4h-1.4zM221 67h1.4v1.4h-1.4zM221 103h1.4v1.4h-1.4zM221 155h1.4v1.4h-1.4zM221 162h1.4v1.4h-1.4zM221 164h1.4v1.4h-1.4zM221 167h1.4v1.4h-1.4zM221 174h1.4v1.4h-1.4zM221 184h1.4v1.4h-1.4zM221 190h1.4v1.4h-1.4zM221 194h1.4v1.4h-1.4zM221 200h1.4v1.4h-1.4zM222 80h1.4v1.4h-1.4zM222 97h1.4v1.4h-1.4zM222 116h1.4v1.4h-1.4zM222 151h1.4v1.4h-1.4zM222 198h1.4v1.4h-1.4zM222 221h1.4v1.4h-1.4zM223 53h1.4v1.4h-1.4zM223 67h1.4v1.4h-1.4zM223 71h1.4v1.4h-1.4zM223 112h1.4v1.4h-1.4zM223 131h1.4v1.4h-1.4zM223 151h1.4v1.4h-1.4zM223 157h1.4v1.4h-1.4zM223 199h1.4v1.4h-1.4zM223 202h1.4v1.4h-1.4zM223 208h1.4v1.4h-1.4zM223 220h1.4v1.4h-1.4zM224 107h1.4v1.4h-1.4zM224 148h1.4v1.4h-1.4zM224 154h1.4v1.4h-1.4zM224 158h1.4v1.4h-1.4zM224 192h1.4v1.4h-1.4zM225 73h1.4v1.4h-1.4zM225 108h1.4v1.4h-1.4zM225 133h1.4v1.4h-1.4zM225 148h1.4v1.4h-1.4zM225 149h1.4v1.4h-1.4zM225 158h1.4v1.4h-1.4zM225 202h1.4v1.4h-1.4zM225 207h1.4v1.4h-1.4zM225 216h1.4v1.4h-1.4zM225 217h1.4v1.4h-1.4zM226 106h1.4v1.4h-1.4zM226 116h1.4v1.4h-1.4zM226 149h1.4v1.4h-1.4zM226 157h1.4v1.4h-1.4zM226 176h1.4v1.4h-1.4zM226 199h1.4v1.4h-1.4zM226 201h1.4v1.4h-1.4zM227 64h1.4v1.4h-1.4zM227 219h1.4v1.4h-1.4zM228 96h1.4v1.4h-1.4zM228 109h1.4v1.4h-1.4zM228 130h1.4v1.4h-1.4zM228 154h1.4v1.4h-1.4zM228 174h1.4v1.4h-1.4zM228 189h1.4v1.4h-1.4zM228 194h1.4v1.4h-1.4zM228 220h1.4v1.4h-1.4zM229 91h1.4v1.4h-1.4zM229 106h1.4v1.4h-1.4zM230 95h1.4v1.4h-1.4zM230 166h1.4v1.4h-1.4zM230 176h1.4v1.4h-1.4zM231 57h1.4v1.4h-1.4zM231 106h1.4v1.4h-1.4zM231 132h1.4v1.4h-1.4zM231 161h1.4v1.4h-1.4zM231 173h1.4v1.4h-1.4zM231 192h1.4v1.4h-1.4zM231 193h1.4v1.4h-1.4zM231 204h1.4v1.4h-1.4zM231 205h1.4v1.4h-1.4zM232 58h1.4v1.4h-1.4zM232 66h1.4v1.4h-1.4zM232 105h1.4v1.4h-1.4zM232 116h1.4v1.4h-1.4zM232 132h1.4v1.4h-1.4zM232 133h1.4v1.4h-1.4zM232 164h1.4v1.4h-1.4zM232 177h1.4v1.4h-1.4zM232 186h1.4v1.4h-1.4zM232 204h1.4v1.4h-1.4zM232 216h1.4v1.4h-1.4zM233 66h1.4v1.4h-1.4zM233 91h1.4v1.4h-1.4zM233 117h1.4v1.4h-1.4zM233 120h1.4v1.4h-1.4zM233 132h1.4v1.4h-1.4zM233 161h1.4v1.4h-1.4zM233 169h1.4v1.4h-1.4zM233 177h1.4v1.4h-1.4zM234 63h1.4v1.4h-1.4zM234 72h1.4v1.4h-1.4zM234 89h1.4v1.4h-1.4zM234 92h1.4v1.4h-1.4zM234 143h1.4v1.4h-1.4zM234 221h1.4v1.4h-1.4zM235 66h1.4v1.4h-1.4zM235 102h1.4v1.4h-1.4zM235 110h1.4v1.4h-1.4zM235 111h1.4v1.4h-1.4zM235 117h1.4v1.4h-1.4zM235 142h1.4v1.4h-1.4zM235 205h1.4v1.4h-1.4zM235 209h1.4v1.4h-1.4zM236 102h1.4v1.4h-1.4zM236 103h1.4v1.4h-1.4zM236 104h1.4v1.4h-1.4zM236 105h1.4v1.4h-1.4zM236 112h1.4v1.4h-1.4zM236 123h1.4v1.4h-1.4zM236 130h1.4v1.4h-1.4zM236 145h1.4v1.4h-1.4zM236 166h1.4v1.4h-1.4zM236 181h1.4v1.4h-1.4zM236 194h1.4v1.4h-1.4zM236 205h1.4v1.4h-1.4zM236 211h1.4v1.4h-1.4zM237 103h1.4v1.4h-1.4zM237 131h1.4v1.4h-1.4zM237 158h1.4v1.4h-1.4zM237 161h1.4v1.4h-1.4zM237 209h1.4v1.4h-1.4zM237 217h1.4v1.4h-1.4zM238 69h1.4v1.4h-1.4zM238 88h1.4v1.4h-1.4zM238 106h1.4v1.4h-1.4zM238 155h1.4v1.4h-1.4zM238 169h1.4v1.4h-1.4zM239 73h1.4v1.4h-1.4zM239 76h1.4v1.4h-1.4zM239 143h1.4v1.4h-1.4zM239 157h1.4v1.4h-1.4zM239 172h1.4v1.4h-1.4zM239 211h1.4v1.4h-1.4zM240 135h1.4v1.4h-1.4zM240 179h1.4v1.4h-1.4zM240 202h1.4v1.4h-1.4zM241 136h1.4v1.4h-1.4zM241 137h1.4v1.4h-1.4zM241 163h1.4v1.4h-1.4zM242 86h1.4v1.4h-1.4zM242 133h1.4v1.4h-1.4zM242 163h1.4v1.4h-1.4zM242 211h1.4v1.4h-1.4zM243 87h1.4v1.4h-1.4zM243 91h1.4v1.4h-1.4zM243 142h1.4v1.4h-1.4zM243 201h1.4v1.4h-1.4zM243 212h1.4v1.4h-1.4zM64 167h1.4v1.4h-1.4zM136 199h1.4v1.4h-1.4zM171 183h1.4v1.4h-1.4zM154 182h1.4v1.4h-1.4zM59 180h1.4v1.4h-1.4z" fill="#1d76bc"/>
<path d="M64 91h1.4v1.4h-1.4zM65 61h1.4v1.4h-1.4zM65 76h1.4v1.4h-1.4zM65 90h1.4v1.4h-1.4zM65 93h1.4v1.4h-1.4zM65 96h1.4v1.4h-1.4zM65 117h1.4v1.4h-1.4zM67 95h1.4v1.4h-1.4zM67 121h1.4v1.4h-1.4zM67 173h1.4v1.4h-1.4zM68 88h1.4v1.4h-1.4zM68 109h1.4v1.4h-1.4zM68 136h1.4v1.4h-1.4zM68 168h1.4v1.4h-1.4zM69 78h1.4v1.4h-1.4zM69 181h1.4v1.4h-1.4zM70 64h1.4v1.4h-1.4zM70 85h1.4v1.4h-1.4zM70 97h1.4v1.4h-1.4zM70 103h1.4v1.4h-1.4zM71 65h1.4v1.4h-1.4zM71 80h1.4v1.4h-1.4zM71 98h1.4v1.4h-1.4zM71 157h1.4v1.4h-1.4zM71 159h1.4v1.4h-1.4zM72 67h1.4v1.4h-1.4zM72 81h1.4v1.4h-1.4zM73 57h1.4v1.4h-1.4zM73 74h1.4v1.4h-1.4zM73 81h1.4v1.4h-1.4zM73 92h1.4v1.4h-1.4zM73 99h1.4v1.4h-1.4zM73 127h1.4v1.4h-1.4zM73 132h1.4v1.4h-1.4zM73 162h1.4v1.4h-1.4zM73 204h1.4v1.4h-1.4zM74 93h1.4v1.4h-1.4zM74 104h1.4v1.4h-1.4zM74 115h1.4v1.4h-1.4zM74 119h1.4v1.4h-1.4zM74 123h1.4v1.4h-1.4zM74 130h1.4v1.4h-1.4zM74 132h1.4v1.4h-1.4zM74 143h1.4v1.4h-1.4zM74 217h1.4v1.4h-1.4zM75 107h1.4v1.4h-1.4zM75 171h1.4v1.4h-1.4zM75 204h1.4v1.4h-1.4zM75 212h1.4v1.4h-1.4zM76 89h1.4v1.4h-1.4zM76 123h1.4v1.4h-1.4zM76 129h1.4v1.4h-1.4zM76 161h1.4v1.4h-1.4zM76 173h1.4v1.4h-1.4zM76 174h1.4v1.4h-1.4zM76 201h1.4v1.4h-1.4zM76 207h1.4v1.4h-1.4zM77 57h1.4v1.4h-1.4zM77 89h1.4v1.4h-1.4zM77 91h1.4v1.4h-1.4zM77 117h1.4v1.4h-1.4zM77 123h1.4v1.4h-1.4zM77 124h1.4v1.4h-1.4zM77 143h1.4v1.4h-1.4zM77 207h1.4v1.4h-1.4zM77 210h1.4v1.4h-1.4zM78 92h1.4v1.4h-1.4zM78 162h1.4v1.4h-1.4zM78 211h1.4v1.4h-1.4zM79 62h1.4v1.4h-1.4zM79 85h1.4v1.4h-1.4zM79 94h1.4v1.4h-1.4zM79 124h1.4v1.4h-1.4zM79 187h1.4v1.4h-1.4zM79 201h1.4v1.4h-1.4zM79 216h1.4v1.4h-1.4zM80 73h1.4v1.4h-1.4zM80 75h1.4v1.4h-1.4zM80 103h1.4v1.4h-1.4zM80 128h1.4v1.4h-1.4zM80 149h1.4v1.4h-1.4zM80 175h1.4v1.4h-1.4zM80 220h1.4v1.4h-1.4zM81 79h1.4v1.4h-1.4zM81 126h1.4v1.4h-1.4zM81 127h1.4v1.4h-1.4zM81 128h1.4v1.4h-1.4zM81 148h1.4v1.4h-1.4zM81 152h1.4v1.4h-1.4zM81 173h1.4v1.4h-1.4zM81 197h1.4v1.4h-1.4zM81 198h1.4v1.4h-1.4zM82 109h1.4v1.4h-1.4zM82 119h1.4v1.4h-1.4zM82 137h1.4v1.4h-1.4zM82 151h1.4v1.4h-1.4zM82 163h1.4v1.4h-1.4zM82 164h1.4v1.4h-1.4zM82 171h1.4v1.4h-1.4zM83 110h1.4v1.4h-1.4zM83 121h1.4v1.4h-1.4zM83 125h1.4v1.4h-1.4zM83 127h1.4v1.4h-1.4zM83 177h1.4v1.4h-1.4zM84 167h1.4v1.4h-1.4zM84 183h1.4v1.4h-1.4zM85 58h1.4v1.4h-1.4zM85 99h1.4v1.4h-1.4zM85 148h1.4v1.4h-1.4zM85 152h1.4v1.4h-1.4zM85 168h1.4v1.4h-1.4zM86 81h1.4v1.4h-1.4zM86 98h1.4v1.4h-1.4zM86 99h1.4v1.4h-1.4zM86 101h1.4v1.4h-1.4zM86 204h1.4v1.4h-1.4zM86 209h1.4v1.4h-1.4zM86 210h1.4v1.4h-1.4zM87 62h1.4v1.4h-1.4zM87 81h1.4v1.4h-1.4zM87 168h1.4v1.4h-1.4zM87 222h1.4v1.4h-1.4zM88 53h1.4v1.4h-1.4zM88 56h1.4v1.4h-1.4zM88 57h1.4v1.4h-1.4zM88 64h1.4v1.4h-1.4zM88 82h1.4v1.4h-1.4zM88 98h1.4v1.4h-1.4zM88 192h1.4v1.4h-1.4zM88 198h1.4v1.4h-1.4zM88 201h1.4v1.4h-1.4zM88 204h1.4v1.4h-1.4zM89 117h1.4v1.4h-1.4zM89 119h1.4v1.4h-1.4zM89 125h1.4v1.4h-1.4zM89 128h1.4v1.4h-1.4zM89 143h1.4v1.4h-1.4zM89 202h1.4v1.4h-1.4zM90 117h1.4v1.4h-1.4zM90 119h1.4v1.4h-1.4zM90 120h1.4v1.4h-1.4zM90 143h1.4v1.4h-1.4zM90 187h1.4v1.4h-1.4zM91 104h1.4v1.4h-1.4zM91 122h1.4v1.4h-1.4zM91 157h1.4v1.4h-1.4zM91 158h1.4v1.4h-1.4zM91 159h1.4v1.4h-1.4zM91 201h1.4v1.4h-1.4zM91 205h1.4v1.4h-1.4zM92 54h1.4v1.4h-1.4zM92 61h1.4v1.4h-1.4zM92 99h1.4v1.4h-1.4zM92 115h1.4v1.4h-1.4zM92 118h1.4v1.4h-1.4zM92 127h1.4v1.4h-1.4zM92 158h1.4v1.4h-1.4zM92 180h1.4v1.4h-1.4zM92 201h1.4v1.4h-1.4zM92 202h1.4v1.4h-1.4zM93 82h1.4v1.4h-1.4zM93 86h1.4v1.4h-1.4zM93 106h1.4v1.4h-1.4zM93 122h1.4v1.4h-1.4zM93 123h1.4v1.4h-1.4zM93 187h1.4v1.4h-1.4zM93 201h1.4v1.4h-1.4zM93 209h1.4v1.4h-1.4zM94 45h1.4v1.4h-1.4zM94 48h1.4v1.4h-1.4zM94 72h1.4v1.4h-1.4zM94 95h1.4v1.4h-1.4zM94 162h1.4v1.4h-1.4zM94 198h1.4v1.4h-1.4zM94 206h1.4v1.4h-1.4zM94 221h1.4v1.4h-1.4zM95 44h1.4v1.4h-1.4zM95 49h1.4v1.4h-1.4zM95 53h1.4v1.4h-1.4zM95 107h1.4v1.4h-1.4zM95 120h1.4v1.4h-1.4zM96 41h1.4v1.4h-1.4zM96 49h1.4v1.4h-1.4zM96 71h1.4v1.4h-1.4zM96 73h1.4v1.4h-1.4zM96 95h1.4v1.4h-1.4zM96 125h1.4v1.4h-1.4zM96 174h1.4v1.4h-1.4zM96 194h1.4v1.4h-1.4zM96 205h1.4v1.4h-1.4zM97 41h1.4v1.4h-1.4zM97 45h1.4v1.4h-1.4zM97 49h1.4v1.4h-1.4zM97 89h1.4v1.4h-1.4zM97 94h1.4v1.4h-1.4zM97 101h1.4v1.4h-1.4zM97 106h1.4v1.4h-1.4zM97 111h1.4v1.4h-1.4zM97 113h1.4v1.4h-1.4zM97 123h1.4v1.4h-1.4zM97 159h1.4v1.4h-1.4zM97 180h1.4v1.4h-1.4zM97 223h1.4v1.4h-1.4zM98 45h1.4v1.4h-1.4zM98 59h1.4v1.4h-1.4zM98 82h1.4v1.4h-1.4zM98 137h1.4v1.4h-1.4zM98 155h1.4v1.4h-1.4zM98 167h1.4v1.4h-1.4zM98 171h1.4v1.4h-1.4zM98 172h1.4v1.4h-1.4zM99 84h1.4v1.4h-1.4zM99 95h1.4v1.4h-1.4zM99 106h1.4v1.4h-1.4zM99 110h1.4v1.4h-1.4zM99 154h1.4v1.4h-1.4zM99 167h1.4v1.4h-1.4zM99 177h1.4v1.4h-1.4zM99 188h1.4v1.4h-1.4zM100 75h1.4v1.4h-1.4zM100 83h1.4v1.4h-1.4zM100 91h1.4v1.4h-1.4zM100 93h1.4v1.4h-1.4zM100 104h1.4v1.4h-1.4zM100 112h1.4v1.4h-1.4zM100 117h1.4v1.4h-1.4zM100 119h1.4v1.4h-1.4zM100 128h1.4v1.4h-1.4zM100 130h1.4v1.4h-1.4zM100 146h1.4v1.4h-1.4zM100 166h1.4v1.4h-1.4zM100 168h1.4v1.4h-1.4zM101 74h1.4v1.4h-1.4zM101 79h1.4v1.4h-1.4zM101 92h1.4v1.4h-1.4zM101 94h1.4v1.4h-1.4zM101 125h1.4v1.4h-1.4zM101 129h1.4v1.4h-1.4zM101 211h1.4v1.4h-1.4zM102 48h1.4v1.4h-1.4zM102 62h1.4v1.4h-1.4zM102 98h1.4v1.4h-1.4zM102 100h1.4v1.4h-1.4zM102 119h1.4v1.4h-1.4zM102 169h1.4v1.4h-1.4zM103 48h1.4v1.4h-1.4zM103 64h1.4v1.4h-1.4zM103 65h1.4v1.4h-1.4zM103 70h1.4v1.4h-1.4zM103 72h1.4v1.4h-1.4zM103 77h1.4v1.4h-1.4zM103 93h1.4v1.4h-1.4zM103 94h1.4v1.4h-1.4zM103 126h1.4v1.4h-1.4zM103 185h1.4v1.4h-1.4zM103 189h1.4v1.4h-1.4zM103 202h1.4v1.4h-1.4zM103 209h1.4v1.4h-1.4zM104 46h1.4v1.4h-1.4zM104 52h1.4v1.4h-1.4zM104 91h1.4v1.4h-1.4zM104 127h1.4v1.4h-1.4zM104 144h1.4v1.4h-1.4zM104 189h1.4v1.4h-1.4zM104 202h1.4v1.4h-1.4zM104 203h1.4v1.4h-1.4zM104 218h1.4v1.4h-1.4zM105 56h1.4v1.4h-1.4zM105 79h1.4v1.4h-1.4zM105 85h1.4v1.4h-1.4zM105 89h1.4v1.4h-1.4zM105 106h1.4v1.4h-1.4zM105 204h1.4v1.4h-1.4zM105 205h1.4v1.4h-1.4zM105 206h1.4v1.4h-1.4zM106 35h1.4v1.4h-1.4zM106 96h1.4v1.4h-1.4zM106 145h1.4v1.4h-1.4zM106 146h1.4v1.4h-1.4zM106 168h1.4v1.4h-1.4zM106 184h1.4v1.4h-1.4zM107 53h1.4v1.4h-1.4zM107 58h1.4v1.4h-1.4zM107 78h1.4v1.4h-1.4zM107 86h1.4v1.4h-1.4zM107 126h1.4v1.4h-1.4zM107 128h1.4v1.4h-1.4zM107 139h1.4v1.4h-1.4zM107 198h1.4v1.4h-1.4zM108 58h1.4v1.4h-1.4zM108 66h1.4v1.4h-1.4zM108 124h1.4v1.4h-1.4zM108 133h1.4v1.4h-1.4zM108 134h1.4v1.4h-1.4zM108 137h1.4v1.4h-1.4zM109 43h1.4v1.4h-1.4zM109 60h1.4v1.4h-1.4zM109 61h1.4v1.4h-1.4zM109 87h1.4v1.4h-1.4zM109 98h1.4v1.4h-1.4zM109 116h1.4v1.4h-1.4zM109 131h1.4v1.4h-1.4zM109 136h1.4v1.4h-1.4zM109 169h1.4v1.4h-1.4zM109 202h1.4v1.4h-1.4zM110 49h1.4v1.4h-1.4zM110 74h1.4v1.4h-1.4zM110 111h1.4v1.4h-1.4zM110 121h1.4v1.4h-1.4zM110 123h1.4v1.4h-1.4zM110 165h1.4v1.4h-1.4zM110 192h1.4v1.4h-1.4zM111 45h1.4v1.4h-1.4zM111 51h1.4v1.4h-1.4zM111 96h1.4v1.4h-1.4zM111 130h1.4v1.4h-1.4zM112 170h1.4v1.4h-1.4zM112 206h1.4v1.4h-1.4zM113 44h1.4v1.4h-1.4zM113 55h1.4v1.4h-1.4zM113 87h1.4v1.4h-1.4zM113 96h1.4v1.4h-1.4zM113 99h1.4v1.4h-1.4zM113 121h1.4v1.4h-1.4zM113 154h1.4v1.4h-1.4zM113 181h1.4v1.4h-1.4zM114 66h1.4v1.4h-1.4zM114 70h1.4v1.4h-1.4zM114 90h1.4v1.4h-1.4zM114 96h1.4v1.4h-1.4zM114 114h1.4v1.4h-1.4zM114 131h1.4v1.4h-1.4zM114 177h1.4v1.4h-1.4zM114 197h1.4v1.4h-1.4zM114 220h1.4v1.4h-1.4zM115 89h1.4v1.4h-1.4zM115 97h1.4v1.4h-1.4zM115 104h1.4v1.4h-1.4zM115 175h1.4v1.4h-1.4zM115 177h1.4v1.4h-1.4zM115 196h1.4v1.4h-1.4zM116 39h1.4v1.4h-1.4zM116 48h1.4v1.4h-1.4zM116 55h1.4v1.4h-1.4zM116 101h1.4v1.4h-1.4zM116 173h1.4v1.4h-1.4zM116 180h1.4v1.4h-1.4zM116 185h1.4v1.4h-1.4zM117 37h1.4v1.4h-1.4zM117 46h1.4v1.4h-1.4zM117 59h1.4v1.4h-1.4zM117 66h1.4v1.4h-1.4zM117 146h1.4v1.4h-1.4zM117 163h1.4v1.4h-1.4zM117 175h1.4v1.4h-1.4zM117 197h1.4v1.4h-1.4zM117 215h1.4v1.4h-1.4zM119 53h1.4v1.4h-1.4zM119 113h1.4v1.4h-1.4zM119 192h1.4v1.4h-1.4zM120 47h1.4v1.4h-1.4zM120 53h1.4v1.4h-1.4zM120 71h1.4v1.4h-1.4zM120 105h1.4v1.4h-1.4zM120 111h1.4v1.4h-1.4zM120 128h1.4v1.4h-1.4zM120 220h1.4v1.4h-1.4zM121 43h1.4v1.4h-1.4zM121 44h1.4v1.4h-1.4zM121 72h1.4v1.4h-1.4zM121 73h1.4v1.4h-1.4zM121 115h1.4v1.4h-1.4zM121 125h1.4v1.4h-1.4zM121 146h1.4v1.4h-1.4zM121 176h1.4v1.4h-1.4zM121 184h1.4v1.4h-1.4zM121 185h1.4v1.4h-1.4zM121 199h1.4v1.4h-1.4zM121 203h1.4v1.4h-1.4zM121 204h1.4v1.4h-1.4zM122 47h1.4v1.4h-1.4zM122 49h1.4v1.4h-1.4zM122 54h1.4v1.4h-1.4zM122 67h1.4v1.4h-1.4zM122 107h1.4v1.4h-1.4zM122 152h1.4v1.4h-1.4zM122 188h1.4v1.4h-1.4zM122 192h1.4v1.4h-1.4zM122 196h1.4v1.4h-1.4zM122 197h1.4v1.4h-1.4zM123 44h1.4v1.4h-1.4zM123 81h1.4v1.4h-1.4zM123 83h1.4v1.4h-1.4zM123 115h1.4v1.4h-1.4zM123 180h1.4v1.4h-1.4zM123 193h1.4v1.4h-1.4zM123 217h1.4v1.4h-1.4zM124 100h1.4v1.4h-1.4zM124 148h1.4v1.4h-1.4zM124 215h1.4v1.4h-1.4zM125 78h1.4v1.4h-1.4zM125 90h1.4v1.4h-1.4zM125 115h1.4v1.4h-1.4zM125 117h1.4v1.4h-1.4zM125 162h1.4v1.4h-1.4zM125 167h1.4v1.4h-1.4zM125 170h1.4v1.4h-1.4zM125 182h1.4v1.4h-1.4zM125 207h1.4v1.4h-1.4zM126 35h1.4v1.4h-1.4zM126 48h1.4v1.4h-1.4zM126 81h1.4v1.4h-1.4zM126 90h1.4v1.4h-1.4zM126 176h1.4v1.4h-1.4zM126 185h1.4v1.4h-1.4zM126 210h1.4v1.4h-1.4zM127 50h1.4v1.4h-1.4zM127 117h1.4v1.4h-1.4zM127 135h1.4v1.4h-1.4zM127 139h1.4v1.4h-1.4zM127 166h1.4v1.4h-1.4zM127 173h1.4v1.4h-1.4zM127 179h1.4v1.4h-1.4zM127 189h1.4v1.4h-1.4zM127 204h1.4v1.4h-1.4zM128 89h1.4v1.4h-1.4zM128 140h1.4v1.4h-1.4zM128 183h1.4v1.4h-1.4zM129 48h1.4v1.4h-1.4zM129 100h1.4v1.4h-1.4zM129 139h1.4v1.4h-1.4zM129 152h1.4v1.4h-1.4zM129 167h1.4v1.4h-1.4zM129 203h1.4v1.4h-1.4zM130 75h1.4v1.4h-1.4zM130 95h1.4v1.4h-1.4zM130 104h1.4v1.4h-1.4zM130 105h1.4v1.4h-1.4zM130 122h1.4v1.4h-1.4zM130 141h1.4v1.4h-1.4zM130 186h1.4v1.4h-1.4zM131 44h1.4v1.4h-1.4zM131 46h1.4v1.4h-1.4zM131 48h1.4v1.4h-1.4zM131 76h1.4v1.4h-1.4zM131 81h1.4v1.4h-1.4zM131 123h1.4v1.4h-1.4zM131 127h1.4v1.4h-1.4zM131 132h1.4v1.4h-1.4zM131 138h1.4v1.4h-1.4zM131 150h1.4v1.4h-1.4zM131 152h1.4v1.4h-1.4zM131 204h1.4v1.4h-1.4zM131 206h1.4v1.4h-1.4zM131 209h1.4v1.4h-1.4zM132 124h1.4v1.4h-1.4zM132 182h1.4v1.4h-1.4zM132 195h1.4v1.4h-1.4zM132 210h1.4v1.4h-1.4zM133 176h1.4v1.4h-1.4zM133 203h1.4v1.4h-1.4zM133 205h1.4v1.4h-1.4zM134 138h1.4v1.4h-1.4zM134 157h1.4v1.4h-1.4zM134 160h1.4v1.4h-1.4zM134 182h1.4v1.4h-1.4zM134 205h1.4v1.4h-1.4zM134 219h1.4v1.4h-1.4zM135 54h1.4v1.4h-1.4zM135 218h1.4v1.4h-1.4zM136 46h1.4v1.4h-1.4zM136 57h1.4v1.4h-1.4zM136 71h1.4v1.4h-1.4zM136 204h1.4v1.4h-1.4zM136 211h1.4v1.4h-1.4zM136 217h1.4v1.4h-1.4zM136 219h1.4v1.4h-1.4zM136 220h1.4v1.4h-1.4zM137 60h1.4v1.4h-1.4zM138 200h1.4v1.4h-1.4zM138 207h1.4v1.4h-1.4zM138 216h1.4v1.4h-1.4zM139 71h1.4v1.4h-1.4zM139 211h1.4v1.4h-1.4zM139 218h1.4v1.4h-1.4zM140 207h1.4v1.4h-1.4zM141 45h1.4v1.4h-1.4zM141 53h1.4v1.4h-1.4zM141 60h1.4v1.4h-1.4zM141 68h1.4v1.4h-1.4zM142 47h1.4v1.4h-1.4zM142 59h1.4v1.4h-1.4zM143 49h1.4v1.4h-1.4zM143 50h1.4v1.4h-1.4zM143 69h1.4v1.4h-1.4zM143 198h1.4v1.4h-1.4zM143 201h1.4v1.4h-1.4zM143 206h1.4v1.4h-1.4zM144 63h1.4v1.4h-1.4zM144 191h1.4v1.4h-1.4zM144 192h1.4v1.4h-1.4zM144 206h1.4v1.4h-1.4zM145 49h1.4v1.4h-1.4zM145 60h1.4v1.4h-1.4zM145 62h1.4v1.4h-1.4zM145 63h1.4v1.4h-1.4zM145 181h1.4v1.4h-1.4zM145 220h1.4v1.4h-1.4zM146 53h1.4v1.4h-1.4zM146 60h1.4v1.4h-1.4zM146 66h1.4v1.4h-1.4zM146 207h1.4v1.4h-1.4zM146 217h1.4v1.4h-1.4zM147 193h1.4v1.4h-1.4zM147 206h1.4v1.4h-1.4zM147 207h1.4v1.4h-1.4zM147 217h1.4v1.4h-1.4zM148 57h1.4v1.4h-1.4zM148 64h1.4v1.4h-1.4zM148 189h1.4v1.4h-1.4zM149 39h1.4v1.4h-1.4zM149 52h1.4v1.4h-1.4zM149 58h1.4v1.4h-1.4zM149 66h1.4v1.4h-1.4zM149 182h1.4v1.4h-1.4zM149 188h1.4v1.4h-1.4zM149 207h1.4v1.4h-1.4zM149 212h1.4v1.4h-1.4zM150 43h1.4v1.4h-1.4zM150 60h1.4v1.4h-1.4zM150 206h1.4v1.4h-1.4zM151 49h1.4v1.4h-1.4zM151 53h1.4v1.4h-1.4zM151 56h1.4v1.4h-1.4zM151 63h1.4v1.4h-1.4zM151 68h1.4v1.4h-1.4zM151 189h1.4v1.4h-1.4zM151 192h1.4v1.4h-1.4zM152 57h1.4v1.4h-1.4zM152 60h1.4v1.4h-1.4zM152 70h1.4v1.4h-1.4zM152 187h1.4v1.4h-1.4zM152 189h1.4v1.4h-1.4zM152 199h1.4v1.4h-1.4zM152 205h1.4v1.4h-1.4zM153 211h1.4v1.4h-1.4zM154 56h1.4v1.4h-1.4zM154 71h1.4v1.4h-1.4zM154 198h1.4v1.4h-1.4zM154 206h1.4v1.4h-1.4zM155 59h1.4v1.4h-1.4zM156 56h1.4v1.4h-1.4zM156 204h1.4v1.4h-1.4zM158 54h1.4v1.4h-1.4zM158 58h1.4v1.4h-1.4zM158 71h1.4v1.4h-1.4zM159 199h1.4v1.4h-1.4zM159 203h1.4v1.4h-1.4zM160 183h1.4v1.4h-1.4zM160 202h1.4v1.4h-1.4zM161 58h1.4v1.4h-1.4zM161 201h1.4v1.4h-1.4zM161 203h1.4v1.4h-1.4zM161 204h1.4v1.4h-1.4zM162 57h1.4v1.4h-1.4zM162 207h1.4v1.4h-1.4zM163 57h1.4v1.4h-1.4zM163 62h1.4v1.4h-1.4zM163 63h1.4v1.4h-1.4zM163 69h1.4v1.4h-1.4zM163 180h1.4v1.4h-1.4zM163 194h1.4v1.4h-1.4zM164 56h1.4v1.4h-1.4zM164 58h1.4v1.4h-1.4zM164 183h1.4v1.4h-1.4zM164 205h1.4v1.4h-1.4zM165 63h1.4v1.4h-1.4zM166 55h1.4v1.4h-1.4zM166 56h1.4v1.4h-1.4zM166 58h1.4v1.4h-1.4zM166 183h1.4v1.4h-1.4zM166 185h1.4v1.4h-1.4zM166 191h1.4v1.4h-1.4zM166 207h1.4v1.4h-1.4zM166 220h1.4v1.4h-1.4zM167 182h1.4v1.4h-1.4zM167 198h1.4v1.4h-1.4zM168 72h1.4v1.4h-1.4zM168 191h1.4v1.4h-1.4zM168 192h1.4v1.4h-1.4zM168 209h1.4v1.4h-1.4zM168 219h1.4v1.4h-1.4zM170 65h1.4v1.4h-1.4zM170 72h1.4v1.4h-1.4zM170 156h1.4v1.4h-1.4zM173 57h1.4v1.4h-1.4zM173 191h1.4v1.4h-1.4zM174 48h1.4v1.4h-1.4zM174 118h1.4v1.4h-1.4zM174 142h1.4v1.4h-1.4zM174 207h1.4v1.4h-1.4zM175 150h1.4v1.4h-1.4zM175 190h1.4v1.4h-1.4zM175 195h1.4v1.4h-1.4zM176 41h1.4v1.4h-1.4zM176 48h1.4v1.4h-1.4zM176 121h1.4v1.4h-1.4zM176 142h1.4v1.4h-1.4zM176 151h1.4v1.4h-1.4zM176 204h1.4v1.4h-1.4zM177 39h1.4v1.4h-1.4zM177 40h1.4v1.4h-1.4zM177 73h1.4v1.4h-1.4zM177 153h1.4v1.4h-1.4zM177 181h1.4v1.4h-1.4zM177 192h1.4v1.4h-1.4zM177 203h1.4v1.4h-1.4zM178 48h1.4v1.4h-1.4zM178 65h1.4v1.4h-1.4zM178 111h1.4v1.4h-1.4zM178 179h1.4v1.4h-1.4zM178 204h1.4v1.4h-1.4zM178 219h1.4v1.4h-1.4zM179 57h1.4v1.4h-1.4zM179 59h1.4v1.4h-1.4zM179 184h1.4v1.4h-1.4zM179 193h1.4v1.4h-1.4zM179 205h1.4v1.4h-1.4zM179 212h1.4v1.4h-1.4zM179 218h1.4v1.4h-1.4zM180 62h1.4v1.4h-1.4zM180 66h1.4v1.4h-1.4zM180 94h1.4v1.4h-1.4zM180 158h1.4v1.4h-1.4zM180 168h1.4v1.4h-1.4zM180 202h1.4v1.4h-1.4zM180 213h1.4v1.4h-1.4zM181 63h1.4v1.4h-1.4zM181 117h1.4v1.4h-1.4zM181 118h1.4v1.4h-1.4zM181 128h1.4v1.4h-1.4zM181 205h1.4v1.4h-1.4zM182 202h1.4v1.4h-1.4zM182 205h1.4v1.4h-1.4zM182 207h1.4v1.4h-1.4zM183 59h1.4v1.4h-1.4zM183 65h1.4v1.4h-1.4zM183 160h1.4v1.4h-1.4zM183 180h1.4v1.4h-1.4zM183 182h1.4v1.4h-1.4zM184 65h1.4v1.4h-1.4zM184 159h1.4v1.4h-1.4zM184 221h1.4v1.4h-1.4zM185 73h1.4v1.4h-1.4zM185 138h1.4v1.4h-1.4zM185 147h1.4v1.4h-1.4zM185 163h1.4v1.4h-1.4zM185 182h1.4v1.4h-1.4zM186 40h1.4v1.4h-1.4zM186 47h1.4v1.4h-1.4zM186 52h1.4v1.4h-1.4zM186 137h1.4v1.4h-1.4zM186 139h1.4v1.4h-1.4zM186 171h1.4v1.4h-1.4zM186 172h1.4v1.4h-1.4zM186 203h1.4v1.4h-1.4zM186 214h1.4v1.4h-1.4zM186 215h1.4v1.4h-1.4zM187 47h1.4v1.4h-1.4zM188 111h1.4v1.4h-1.4zM188 119h1.4v1.4h-1.4zM188 148h1.4v1.4h-1.4zM188 182h1.4v1.4h-1.4zM188 221h1.4v1.4h-1.4zM189 61h1.4v1.4h-1.4zM189 195h1.4v1.4h-1.4zM189 218h1.4v1.4h-1.4zM190 71h1.4v1.4h-1.4zM191 117h1.4v1.4h-1.4zM191 157h1.4v1.4h-1.4zM191 175h1.4v1.4h-1.4zM192 118h1.4v1.4h-1.4zM192 187h1.4v1.4h-1.4zM192 192h1.4v1.4h-1.4zM192 199h1.4v1.4h-1.4zM193 39h1.4v1.4h-1.4zM193 72h1.4v1.4h-1.4zM193 111h1.4v1.4h-1.4zM193 155h1.4v1.4h-1.4zM193 177h1.4v1.4h-1.4zM193 201h1.4v1.4h-1.4zM194 60h1.4v1.4h-1.4zM194 63h1.4v1.4h-1.4zM194 118h1.4v1.4h-1.4zM195 68h1.4v1.4h-1.4zM195 69h1.4v1.4h-1.4zM196 50h1.4v1.4h-1.4zM196 106h1.4v1.4h-1.4zM196 174h1.4v1.4h-1.4zM196 175h1.4v1.4h-1.4zM197 44h1.4v1.4h-1.4zM197 111h1.4v1.4h-1.4zM197 116h1.4v1.4h-1.4zM197 130h1.4v1.4h-1.4zM197 198h1.4v1.4h-1.4zM197 206h1.4v1.4h-1.4zM198 52h1.4v1.4h-1.4zM198 133h1.4v1.4h-1.4zM198 178h1.4v1.4h-1.4zM199 150h1.4v1.4h-1.4zM199 158h1.4v1.4h-1.4zM199 188h1.4v1.4h-1.4zM199 191h1.4v1.4h-1.4zM199 193h1.4v1.4h-1.4zM200 71h1.4v1.4h-1.4zM201 66h1.4v1.4h-1.4zM201 184h1.4v1.4h-1.4zM202 43h1.4v1.4h-1.4zM202 65h1.4v1.4h-1.4zM202 118h1.4v1.4h-1.4zM202 174h1.4v1.4h-1.4zM202 188h1.4v1.4h-1.4zM202 204h1.4v1.4h-1.4zM202 206h1.4v1.4h-1.4zM202 209h1.4v1.4h-1.4zM202 210h1.4v1.4h-1.4zM204 66h1.4v1.4h-1.4zM204 77h1.4v1.4h-1.4zM204 123h1.4v1.4h-1.4zM204 150h1.4v1.4h-1.4zM205 47h1.4v1.4h-1.4zM205 53h1.4v1.4h-1.4zM205 62h1.4v1.4h-1.4zM205 65h1.4v1.4h-1.4zM205 138h1.4v1.4h-1.4zM205 150h1.4v1.4h-1.4zM205 153h1.4v1.4h-1.4zM205 165h1.4v1.4h-1.4zM205 204h1.4v1.4h-1.4zM205 206h1.4v1.4h-1.4zM206 45h1.4v1.4h-1.4zM206 52h1.4v1.4h-1.4zM206 70h1.4v1.4h-1.4zM206 79h1.4v1.4h-1.4zM206 83h1.4v1.4h-1.4zM206 117h1.4v1.4h-1.4zM206 169h1.4v1.4h-1.4zM207 60h1.4v1.4h-1.4zM207 67h1.4v1.4h-1.4zM207 72h1.4v1.4h-1.4zM207 76h1.4v1.4h-1.4zM207 79h1.4v1.4h-1.4zM207 80h1.4v1.4h-1.4zM207 81h1.4v1.4h-1.4zM207 158h1.4v1.4h-1.4zM207 209h1.4v1.4h-1.4zM208 49h1.4v1.4h-1.4zM208 78h1.4v1.4h-1.4zM208 93h1.4v1.4h-1.4zM208 118h1.4v1.4h-1.4zM208 135h1.4v1.4h-1.4zM208 191h1.4v1.4h-1.4zM209 47h1.4v1.4h-1.4zM209 51h1.4v1.4h-1.4zM209 69h1.4v1.4h-1.4zM209 79h1.4v1.4h-1.4zM209 98h1.4v1.4h-1.4zM209 116h1.4v1.4h-1.4zM209 133h1.4v1.4h-1.4zM210 96h1.4v1.4h-1.4zM210 115h1.4v1.4h-1.4zM210 133h1.4v1.4h-1.4zM211 98h1.4v1.4h-1.4zM211 119h1.4v1.4h-1.4zM212 67h1.4v1.4h-1.4zM212 74h1.4v1.4h-1.4zM212 86h1.4v1.4h-1.4zM212 88h1.4v1.4h-1.4zM212 98h1.4v1.4h-1.4zM212 99h1.4v1.4h-1.4zM212 111h1.4v1.4h-1.4zM212 130h1.4v1.4h-1.4zM212 132h1.4v1.4h-1.4zM212 136h1.4v1.4h-1.4zM212 204h1.4v1.4h-1.4zM212 210h1.4v1.4h-1.4zM213 85h1.4v1.4h-1.4zM213 122h1.4v1.4h-1.4zM213 126h1.4v1.4h-1.4zM213 133h1.4v1.4h-1.4zM213 138h1.4v1.4h-1.4zM213 181h1.4v1.4h-1.4zM214 54h1.4v1.4h-1.4zM214 55h1.4v1.4h-1.4zM214 56h1.4v1.4h-1.4zM214 89h1.4v1.4h-1.4zM214 117h1.4v1.4h-1.4zM214 131h1.4v1.4h-1.4zM214 138h1.4v1.4h-1.4zM214 141h1.4v1.4h-1.4zM214 159h1.4v1.4h-1.4zM214 161h1.4v1.4h-1.4zM215 76h1.4v1.4h-1.4zM215 85h1.4v1.4h-1.4zM215 124h1.4v1.4h-1.4zM215 130h1.4v1.4h-1.4zM215 132h1.4v1.4h-1.4zM215 139h1.4v1.4h-1.4zM215 157h1.4v1.4h-1.4zM215 167h1.4v1.4h-1.4zM215 222h1.4v1.4h-1.4zM216 55h1.4v1.4h-1.4zM216 56h1.4v1.4h-1.4zM216 82h1.4v1.4h-1.4zM216 93h1.4v1.4h-1.4zM216 100h1.4v1.4h-1.4zM216 107h1.4v1.4h-1.4zM216 129h1.4v1.4h-1.4zM216 131h1.4v1.4h-1.4zM216 132h1.4v1.4h-1.4zM216 158h1.4v1.4h-1.4zM216 178h1.4v1.4h-1.4zM217 67h1.4v1.4h-1.4zM217 89h1.4v1.4h-1.4zM217 171h1.4v1.4h-1.4zM217 176h1.4v1.4h-1.4zM217 181h1.4v1.4h-1.4zM217 183h1.4v1.4h-1.4zM217 208h1.4v1.4h-1.4zM218 46h1.4v1.4h-1.4zM218 52h1.4v1.4h-1.4zM218 108h1.4v1.4h-1.4zM218 201h1.4v1.4h-1.4zM219 54h1.4v1.4h-1.4zM219 55h1.4v1.4h-1.4zM219 60h1.4v1.4h-1.4zM219 91h1.4v1.4h-1.4zM219 95h1.4v1.4h-1.4zM219 155h1.4v1.4h-1.4zM219 160h1.4v1.4h-1.4zM219 161h1.4v1.4h-1.4zM219 176h1.4v1.4h-1.4zM219 186h1.4v1.4h-1.4zM219 191h1.4v1.4h-1.4zM219 192h1.4v1.4h-1.4zM219 207h1.4v1.4h-1.4zM220 44h1.4v1.4h-1.4zM220 54h1.4v1.4h-1.4zM220 68h1.4v1.4h-1.4zM220 98h1.4v1.4h-1.4zM220 100h1.4v1.4h-1.4zM220 113h1.4v1.4h-1.4zM220 132h1.4v1.4h-1.4zM220 150h1.4v1.4h-1.4zM220 171h1.4v1.4h-1.4zM220 175h1.4v1.4h-1.4zM220 176h1.4v1.4h-1.4zM220 177h1.4v1.4h-1.4zM220 188h1.4v1.4h-1.4zM220 211h1.4v1.4h-1.4zM220 214h1.4v1.4h-1.4zM221 46h1.4v1.4h-1.4zM221 57h1.4v1.4h-1.4zM221 63h1.4v1.4h-1.4zM221 85h1.4v1.4h-1.4zM221 92h1.4v1.4h-1.4zM221 96h1.4v1.4h-1.4zM221 101h1.4v1.4h-1.4zM221 118h1.4v1.4h-1.4zM221 154h1.4v1.4h-1.4zM221 173h1.4v1.4h-1.4zM221 203h1.4v1.4h-1.4zM222 48h1.4v1.4h-1.4zM222 102h1.4v1.4h-1.4zM222 103h1.4v1.4h-1.4zM222 141h1.4v1.4h-1.4zM222 160h1.4v1.4h-1.4zM222 165h1.4v1.4h-1.4zM222 202h1.4v1.4h-1.4zM223 61h1.4v1.4h-1.4zM223 70h1.4v1.4h-1.4zM223 95h1.4v1.4h-1.4zM223 107h1.4v1.4h-1.4zM223 146h1.4v1.4h-1.4zM223 149h1.4v1.4h-1.4zM223 154h1.4v1.4h-1.4zM223 173h1.4v1.4h-1.4zM223 222h1.4v1.4h-1.4zM224 46h1.4v1.4h-1.4zM224 84h1.4v1.4h-1.4zM224 106h1.4v1.4h-1.4zM224 111h1.4v1.4h-1.4zM224 157h1.4v1.4h-1.4zM224 218h1.4v1.4h-1.4zM225 70h1.4v1.4h-1.4zM225 71h1.4v1.4h-1.4zM225 72h1.4v1.4h-1.4zM225 109h1.4v1.4h-1.4zM225 139h1.4v1.4h-1.4zM225 159h1.4v1.4h-1.4zM225 214h1.4v1.4h-1.4zM226 104h1.4v1.4h-1.4zM226 107h1.4v1.4h-1.4zM226 138h1.4v1.4h-1.4zM226 153h1.4v1.4h-1.4zM226 155h1.4v1.4h-1.4zM226 196h1.4v1.4h-1.4zM226 217h1.4v1.4h-1.4zM227 50h1.4v1.4h-1.4zM227 65h1.4v1.4h-1.4zM227 103h1.4v1.4h-1.4zM227 104h1.4v1.4h-1.4zM227 112h1.4v1.4h-1.4zM227 133h1.4v1.4h-1.4zM227 135h1.4v1.4h-1.4zM227 174h1.4v1.4h-1.4zM227 220h1.4v1.4h-1.4zM228 77h1.4v1.4h-1.4zM228 144h1.4v1.4h-1.4zM228 169h1.4v1.4h-1.4zM228 171h1.4v1.4h-1.4zM228 191h1.4v1.4h-1.4zM229 93h1.4v1.4h-1.4zM229 133h1.4v1.4h-1.4zM229 175h1.4v1.4h-1.4zM229 183h1.4v1.4h-1.4zM230 62h1.4v1.4h-1.4zM230 64h1.4v1.4h-1.4zM230 65h1.4v1.4h-1.4zM230 120h1.4v1.4h-1.4zM230 122h1.4v1.4h-1.4zM230 124h1.4v1.4h-1.4zM230 128h1.4v1.4h-1.4zM230 162h1.4v1.4h-1.4zM231 59h1.4v1.4h-1.4zM231 103h1.4v1.4h-1.4zM231 104h1.4v1.4h-1.4zM231 107h1.4v1.4h-1.4zM231 119h1.4v1.4h-1.4zM231 174h1.4v1.4h-1.4zM231 176h1.4v1.4h-1.4zM232 127h1.4v1.4h-1.4zM233 65h1.4v1.4h-1.4zM233 92h1.4v1.4h-1.4zM233 125h1.4v1.4h-1.4zM233 129h1.4v1.4h-1.4zM233 134h1.4v1.4h-1.4zM233 164h1.4v1.4h-1.4zM233 186h1.4v1.4h-1.4zM233 189h1.4v1.4h-1.4zM233 201h1.4v1.4h-1.4zM233 208h1.4v1.4h-1.4zM234 93h1.4v1.4h-1.4zM234 98h1.4v1.4h-1.4zM234 102h1.4v1.4h-1.4zM234 111h1.4v1.4h-1.4zM234 145h1.4v1.4h-1.4zM234 183h1.4v1.4h-1.4zM234 209h1.4v1.4h-1.4zM234 210h1.4v1.4h-1.4zM235 63h1.4v1.4h-1.4zM235 94h1.4v1.4h-1.4zM235 105h1.4v1.4h-1.4zM235 141h1.4v1.4h-1.4zM235 154h1.4v1.4h-1.4zM235 163h1.4v1.4h-1.4zM235 165h1.4v1.4h-1.4zM235 216h1.4v1.4h-1.4zM235 220h1.4v1.4h-1.4zM236 100h1.4v1.4h-1.4zM236 108h1.4v1.4h-1.4zM236 115h1.4v1.4h-1.4zM236 117h1.4v1.4h-1.4zM236 142h1.4v1.4h-1.4zM236 144h1.4v1.4h-1.4zM236 184h1.4v1.4h-1.4zM237 96h1.4v1.4h-1.4zM237 116h1.4v1.4h-1.4zM237 127h1.4v1.4h-1.4zM237 191h1.4v1.4h-1.4zM237 218h1.4v1.4h-1.4zM238 65h1.4v1.4h-1.4zM238 73h1.4v1.4h-1.4zM238 97h1.4v1.4h-1.4zM238 102h1.4v1.4h-1.4zM238 130h1.4v1.4h-1.4zM238 143h1.4v1.4h-1.4zM238 144h1.4v1.4h-1.4zM238 165h1.4v1.4h-1.4zM238 168h1.4v1.4h-1.4zM238 194h1.4v1.4h-1.4zM239 77h1.4v1.4h-1.4zM239 90h1.4v1.4h-1.4zM239 92h1.4v1.4h-1.4zM239 129h1.4v1.4h-1.4zM239 147h1.4v1.4h-1.4zM239 173h1.4v1.4h-1.4zM240 109h1.4v1.4h-1.4zM240 137h1.4v1.4h-1.4zM240 138h1.4v1.4h-1.4zM241 200h1.4v1.4h-1.4zM241 202h1.4v1.4h-1.4zM242 76h1.4v1.4h-1.4zM242 144h1.4v1.4h-1.4zM242 146h1.4v1.4h-1.4zM242 186h1.4v1.4h-1.4zM242 207h1.4v1.4h-1.4zM225 134h1.4v1.4h-1.4zM199 102h1.4v1.4h-1.4zM139 38h1.4v1.4h-1.4zM44 70h1.4v1.4h-1.4zM223 181h1.4v1.4h-1.4zM137 71h1.4v1.4h-1.4z" fill="#18639e"/>
<path d="M67 93h1.4v1.4h-1.4zM67 96h1.4v1.4h-1.4zM67 97h1.4v1.4h-1.4zM67 109h1.4v1.4h-1.4zM68 93h1.4v1.4h-1.4zM68 95h1.4v1.4h-1.4zM68 105h1.4v1.4h-1.4zM68 116h1.4v1.4h-1.4zM68 160h1.4v1.4h-1.4zM69 64h1.4v1.4h-1.4zM69 96h1.4v1.4h-1.4zM69 129h1.4v1.4h-1.4zM69 153h1.4v1.4h-1.4zM70 56h1.4v1.4h-1.4zM70 80h1.4v1.4h-1.4zM70 92h1.4v1.4h-1.4zM70 132h1.4v1.4h-1.4zM70 152h1.4v1.4h-1.4zM71 89h1.4v1.4h-1.4zM72 54h1.4v1.4h-1.4zM72 132h1.4v1.4h-1.4zM72 143h1.4v1.4h-1.4zM72 171h1.4v1.4h-1.4zM73 55h1.4v1.4h-1.4zM73 87h1.4v1.4h-1.4zM73 94h1.4v1.4h-1.4zM73 104h1.4v1.4h-1.4zM74 53h1.4v1.4h-1.4zM74 92h1.4v1.4h-1.4zM74 99h1.4v1.4h-1.4zM74 141h1.4v1.4h-1.4zM74 179h1.4v1.4h-1.4zM74 206h1.4v1.4h-1.4zM75 83h1.4v1.4h-1.4zM75 94h1.4v1.4h-1.4zM75 120h1.4v1.4h-1.4zM75 126h1.4v1.4h-1.4zM75 127h1.4v1.4h-1.4zM76 87h1.4v1.4h-1.4zM76 186h1.4v1.4h-1.4zM76 194h1.4v1.4h-1.4zM77 90h1.4v1.4h-1.4zM77 103h1.4v1.4h-1.4zM77 126h1.4v1.4h-1.4zM77 162h1.4v1.4h-1.4zM77 180h1.4v1.4h-1.4zM78 82h1.4v1.4h-1.4zM78 125h1.4v1.4h-1.4zM78 160h1.4v1.4h-1.4zM79 79h1.4v1.4h-1.4zM79 129h1.4v1.4h-1.4zM79 199h1.4v1.4h-1.4zM80 146h1.4v1.4h-1.4zM80 166h1.4v1.4h-1.4zM81 95h1.4v1.4h-1.4zM81 122h1.4v1.4h-1.4zM81 215h1.4v1.4h-1.4zM82 83h1.4v1.4h-1.4zM82 93h1.4v1.4h-1.4zM82 123h1.4v1.4h-1.4zM82 186h1.4v1.4h-1.4zM82 200h1.4v1.4h-1.4zM83 124h1.4v1.4h-1.4zM83 148h1.4v1.4h-1.4zM84 80h1.4v1.4h-1.4zM84 123h1.4v1.4h-1.4zM84 202h1.4v1.4h-1.4zM85 144h1.4v1.4h-1.4zM85 159h1.4v1.4h-1.4zM85 211h1.4v1.4h-1.4zM85 212h1.4v1.4h-1.4zM86 59h1.4v1.4h-1.4zM86 124h1.4v1.4h-1.4zM86 126h1.4v1.4h-1.4zM86 127h1.4v1.4h-1.4zM86 128h1.4v1.4h-1.4zM86 169h1.4v1.4h-1.4zM86 198h1.4v1.4h-1.4zM86 215h1.4v1.4h-1.4zM87 58h1.4v1.4h-1.4zM87 73h1.4v1.4h-1.4zM87 97h1.4v1.4h-1.4zM87 125h1.4v1.4h-1.4zM87 185h1.4v1.4h-1.4zM87 196h1.4v1.4h-1.4zM87 202h1.4v1.4h-1.4zM88 93h1.4v1.4h-1.4zM88 97h1.4v1.4h-1.4zM88 120h1.4v1.4h-1.4zM88 142h1.4v1.4h-1.4zM88 155h1.4v1.4h-1.4zM89 124h1.4v1.4h-1.4zM89 129h1.4v1.4h-1.4zM89 160h1.4v1.4h-1.4zM89 179h1.4v1.4h-1.4zM90 49h1.4v1.4h-1.4zM90 62h1.4v1.4h-1.4zM90 203h1.4v1.4h-1.4zM90 204h1.4v1.4h-1.4zM91 46h1.4v1.4h-1.4zM91 49h1.4v1.4h-1.4zM92 51h1.4v1.4h-1.4zM92 60h1.4v1.4h-1.4zM92 71h1.4v1.4h-1.4zM92 80h1.4v1.4h-1.4zM92 81h1.4v1.4h-1.4zM92 120h1.4v1.4h-1.4zM92 124h1.4v1.4h-1.4zM93 55h1.4v1.4h-1.4zM93 72h1.4v1.4h-1.4zM93 92h1.4v1.4h-1.4zM93 98h1.4v1.4h-1.4zM93 101h1.4v1.4h-1.4zM93 119h1.4v1.4h-1.4zM93 155h1.4v1.4h-1.4zM94 43h1.4v1.4h-1.4zM94 46h1.4v1.4h-1.4zM94 47h1.4v1.4h-1.4zM94 114h1.4v1.4h-1.4zM94 119h1.4v1.4h-1.4zM94 130h1.4v1.4h-1.4zM94 192h1.4v1.4h-1.4zM95 86h1.4v1.4h-1.4zM95 116h1.4v1.4h-1.4zM95 117h1.4v1.4h-1.4zM95 119h1.4v1.4h-1.4zM95 121h1.4v1.4h-1.4zM95 123h1.4v1.4h-1.4zM95 126h1.4v1.4h-1.4zM96 47h1.4v1.4h-1.4zM96 48h1.4v1.4h-1.4zM96 56h1.4v1.4h-1.4zM96 60h1.4v1.4h-1.4zM96 83h1.4v1.4h-1.4zM96 114h1.4v1.4h-1.4zM96 127h1.4v1.4h-1.4zM96 169h1.4v1.4h-1.4zM97 80h1.4v1.4h-1.4zM97 91h1.4v1.4h-1.4zM97 110h1.4v1.4h-1.4zM97 192h1.4v1.4h-1.4zM98 83h1.4v1.4h-1.4zM98 93h1.4v1.4h-1.4zM98 95h1.4v1.4h-1.4zM98 104h1.4v1.4h-1.4zM98 207h1.4v1.4h-1.4zM98 208h1.4v1.4h-1.4zM99 39h1.4v1.4h-1.4zM99 70h1.4v1.4h-1.4zM99 76h1.4v1.4h-1.4zM99 105h1.4v1.4h-1.4zM99 205h1.4v1.4h-1.4zM100 60h1.4v1.4h-1.4zM100 78h1.4v1.4h-1.4zM100 95h1.4v1.4h-1.4zM100 97h1.4v1.4h-1.4zM100 113h1.4v1.4h-1.4zM100 132h1.4v1.4h-1.4zM100 147h1.4v1.4h-1.4zM100 171h1.4v1.4h-1.4zM100 177h1.4v1.4h-1.4zM100 203h1.4v1.4h-1.4zM100 212h1.4v1.4h-1.4zM101 65h1.4v1.4h-1.4zM101 72h1.4v1.4h-1.4zM101 181h1.4v1.4h-1.4zM102 42h1.4v1.4h-1.4zM102 70h1.4v1.4h-1.4zM102 146h1.4v1.4h-1.4zM102 158h1.4v1.4h-1.4zM102 192h1.4v1.4h-1.4zM103 73h1.4v1.4h-1.4zM103 76h1.4v1.4h-1.4zM103 79h1.4v1.4h-1.4zM103 95h1.4v1.4h-1.4zM103 119h1.4v1.4h-1.4zM103 178h1.4v1.4h-1.4zM103 190h1.4v1.4h-1.4zM104 43h1.4v1.4h-1.4zM104 64h1.4v1.4h-1.4zM104 67h1.4v1.4h-1.4zM104 79h1.4v1.4h-1.4zM104 111h1.4v1.4h-1.4zM104 143h1.4v1.4h-1.4zM104 220h1.4v1.4h-1.4zM105 45h1.4v1.4h-1.4zM105 76h1.4v1.4h-1.4zM105 95h1.4v1.4h-1.4zM105 124h1.4v1.4h-1.4zM105 184h1.4v1.4h-1.4zM106 122h1.4v1.4h-1.4zM106 123h1.4v1.4h-1.4zM106 127h1.4v1.4h-1.4zM106 220h1.4v1.4h-1.4zM107 84h1.4v1.4h-1.4zM107 89h1.4v1.4h-1.4zM107 137h1.4v1.4h-1.4zM107 185h1.4v1.4h-1.4zM107 201h1.4v1.4h-1.4zM108 77h1.4v1.4h-1.4zM108 90h1.4v1.4h-1.4zM108 126h1.4v1.4h-1.4zM109 53h1.4v1.4h-1.4zM109 89h1.4v1.4h-1.4zM109 110h1.4v1.4h-1.4zM109 123h1.4v1.4h-1.4zM109 137h1.4v1.4h-1.4zM109 176h1.4v1.4h-1.4zM109 179h1.4v1.4h-1.4zM109 186h1.4v1.4h-1.4zM109 190h1.4v1.4h-1.4zM109 192h1.4v1.4h-1.4zM109 203h1.4v1.4h-1.4zM110 46h1.4v1.4h-1.4zM110 54h1.4v1.4h-1.4zM110 116h1.4v1.4h-1.4zM110 131h1.4v1.4h-1.4zM110 132h1.4v1.4h-1.4zM110 150h1.4v1.4h-1.4zM110 170h1.4v1.4h-1.4zM110 180h1.4v1.4h-1.4zM111 43h1.4v1.4h-1.4zM111 73h1.4v1.4h-1.4zM111 124h1.4v1.4h-1.4zM111 149h1.4v1.4h-1.4zM111 184h1.4v1.4h-1.4zM111 205h1.4v1.4h-1.4zM112 86h1.4v1.4h-1.4zM112 132h1.4v1.4h-1.4zM112 155h1.4v1.4h-1.4zM112 156h1.4v1.4h-1.4zM113 131h1.4v1.4h-1.4zM114 40h1.4v1.4h-1.4zM114 95h1.4v1.4h-1.4zM114 119h1.4v1.4h-1.4zM114 194h1.4v1.4h-1.4zM114 201h1.4v1.4h-1.4zM115 36h1.4v1.4h-1.4zM115 87h1.4v1.4h-1.4zM115 174h1.4v1.4h-1.4zM115 176h1.4v1.4h-1.4zM116 164h1.4v1.4h-1.4zM116 172h1.4v1.4h-1.4zM116 175h1.4v1.4h-1.4zM116 197h1.4v1.4h-1.4zM116 216h1.4v1.4h-1.4zM116 217h1.4v1.4h-1.4zM117 76h1.4v1.4h-1.4zM117 88h1.4v1.4h-1.4zM117 105h1.4v1.4h-1.4zM117 195h1.4v1.4h-1.4zM118 48h1.4v1.4h-1.4zM118 54h1.4v1.4h-1.4zM118 56h1.4v1.4h-1.4zM118 76h1.4v1.4h-1.4zM118 99h1.4v1.4h-1.4zM119 66h1.4v1.4h-1.4zM119 121h1.4v1.4h-1.4zM119 130h1.4v1.4h-1.4zM119 193h1.4v1.4h-1.4zM120 51h1.4v1.4h-1.4zM120 88h1.4v1.4h-1.4zM120 102h1.4v1.4h-1.4zM120 104h1.4v1.4h-1.4zM120 160h1.4v1.4h-1.4zM121 46h1.4v1.4h-1.4zM121 127h1.4v1.4h-1.4zM121 215h1.4v1.4h-1.4zM122 113h1.4v1.4h-1.4zM122 117h1.4v1.4h-1.4zM122 177h1.4v1.4h-1.4zM123 41h1.4v1.4h-1.4zM123 48h1.4v1.4h-1.4zM123 50h1.4v1.4h-1.4zM123 116h1.4v1.4h-1.4zM123 169h1.4v1.4h-1.4zM123 200h1.4v1.4h-1.4zM123 203h1.4v1.4h-1.4zM124 99h1.4v1.4h-1.4zM125 192h1.4v1.4h-1.4zM125 194h1.4v1.4h-1.4zM126 47h1.4v1.4h-1.4zM126 63h1.4v1.4h-1.4zM126 101h1.4v1.4h-1.4zM126 178h1.4v1.4h-1.4zM126 190h1.4v1.4h-1.4zM126 191h1.4v1.4h-1.4zM126 192h1.4v1.4h-1.4zM126 194h1.4v1.4h-1.4zM127 76h1.4v1.4h-1.4zM127 178h1.4v1.4h-1.4zM127 186h1.4v1.4h-1.4zM127 190h1.4v1.4h-1.4zM127 217h1.4v1.4h-1.4zM128 75h1.4v1.4h-1.4zM128 147h1.4v1.4h-1.4zM128 181h1.4v1.4h-1.4zM128 192h1.4v1.4h-1.4zM129 46h1.4v1.4h-1.4zM129 136h1.4v1.4h-1.4zM129 173h1.4v1.4h-1.4zM129 177h1.4v1.4h-1.4zM129 180h1.4v1.4h-1.4zM129 205h1.4v1.4h-1.4zM130 166h1.4v1.4h-1.4zM130 188h1.4v1.4h-1.4zM130 193h1.4v1.4h-1.4zM131 43h1.4v1.4h-1.4zM131 67h1.4v1.4h-1.4zM131 90h1.4v1.4h-1.4zM131 106h1.4v1.4h-1.4zM131 120h1.4v1.4h-1.4zM131 128h1.4v1.4h-1.4zM131 163h1.4v1.4h-1.4zM131 175h1.4v1.4h-1.4zM131 218h1.4v1.4h-1.4zM132 42h1.4v1.4h-1.4zM132 165h1.4v1.4h-1.4zM132 199h1.4v1.4h-1.4zM132 202h1.4v1.4h-1.4zM132 221h1.4v1.4h-1.4zM133 57h1.4v1.4h-1.4zM133 173h1.4v1.4h-1.4zM133 183h1.4v1.4h-1.4zM133 202h1.4v1.4h-1.4zM134 42h1.4v1.4h-1.4zM134 119h1.4v1.4h-1.4zM135 48h1.4v1.4h-1.4zM135 204h1.4v1.4h-1.4zM135 209h1.4v1.4h-1.4zM137 55h1.4v1.4h-1.4zM137 186h1.4v1.4h-1.4zM138 54h1.4v1.4h-1.4zM138 66h1.4v1.4h-1.4zM138 206h1.4v1.4h-1.4zM139 53h1.4v1.4h-1.4zM139 207h1.4v1.4h-1.4zM141 197h1.4v1.4h-1.4zM141 209h1.4v1.4h-1.4zM142 45h1.4v1.4h-1.4zM142 63h1.4v1.4h-1.4zM142 68h1.4v1.4h-1.4zM144 60h1.4v1.4h-1.4zM146 49h1.4v1.4h-1.4zM146 56h1.4v1.4h-1.4zM147 59h1.4v1.4h-1.4zM148 48h1.4v1.4h-1.4zM148 59h1.4v1.4h-1.4zM148 66h1.4v1.4h-1.4zM148 206h1.4v1.4h-1.4zM149 59h1.4v1.4h-1.4zM149 187h1.4v1.4h-1.4zM149 197h1.4v1.4h-1.4zM150 45h1.4v1.4h-1.4zM150 212h1.4v1.4h-1.4zM151 60h1.4v1.4h-1.4zM152 59h1.4v1.4h-1.4zM153 46h1.4v1.4h-1.4zM153 58h1.4v1.4h-1.4zM153 59h1.4v1.4h-1.4zM153 224h1.4v1.4h-1.4zM154 205h1.4v1.4h-1.4zM154 208h1.4v1.4h-1.4zM155 198h1.4v1.4h-1.4zM156 53h1.4v1.4h-1.4zM156 178h1.4v1.4h-1.4zM156 184h1.4v1.4h-1.4zM157 180h1.4v1.4h-1.4zM157 182h1.4v1.4h-1.4zM157 199h1.4v1.4h-1.4zM158 55h1.4v1.4h-1.4zM158 63h1.4v1.4h-1.4zM158 179h1.4v1.4h-1.4zM162 191h1.4v1.4h-1.4zM162 194h1.4v1.4h-1.4zM162 212h1.4v1.4h-1.4zM163 183h1.4v1.4h-1.4zM164 39h1.4v1.4h-1.4zM164 52h1.4v1.4h-1.4zM164 53h1.4v1.4h-1.4zM164 60h1.4v1.4h-1.4zM164 193h1.4v1.4h-1.4zM165 61h1.4v1.4h-1.4zM165 66h1.4v1.4h-1.4zM169 180h1.4v1.4h-1.4zM170 67h1.4v1.4h-1.4zM170 69h1.4v1.4h-1.4zM170 182h1.4v1.4h-1.4zM171 71h1.4v1.4h-1.4zM172 42h1.4v1.4h-1.4zM173 139h1.4v1.4h-1.4zM173 185h1.4v1.4h-1.4zM173 209h1.4v1.4h-1.4zM173 212h1.4v1.4h-1.4zM174 150h1.4v1.4h-1.4zM175 155h1.4v1.4h-1.4zM175 165h1.4v1.4h-1.4zM175 191h1.4v1.4h-1.4zM177 121h1.4v1.4h-1.4zM177 149h1.4v1.4h-1.4zM177 162h1.4v1.4h-1.4zM177 179h1.4v1.4h-1.4zM177 190h1.4v1.4h-1.4zM178 154h1.4v1.4h-1.4zM178 156h1.4v1.4h-1.4zM179 107h1.4v1.4h-1.4zM179 215h1.4v1.4h-1.4zM180 43h1.4v1.4h-1.4zM180 60h1.4v1.4h-1.4zM180 139h1.4v1.4h-1.4zM180 176h1.4v1.4h-1.4zM180 205h1.4v1.4h-1.4zM180 217h1.4v1.4h-1.4zM181 43h1.4v1.4h-1.4zM181 59h1.4v1.4h-1.4zM181 61h1.4v1.4h-1.4zM181 66h1.4v1.4h-1.4zM181 127h1.4v1.4h-1.4zM181 145h1.4v1.4h-1.4zM181 161h1.4v1.4h-1.4zM182 219h1.4v1.4h-1.4zM183 130h1.4v1.4h-1.4zM183 172h1.4v1.4h-1.4zM183 194h1.4v1.4h-1.4zM183 205h1.4v1.4h-1.4zM184 58h1.4v1.4h-1.4zM185 62h1.4v1.4h-1.4zM185 151h1.4v1.4h-1.4zM185 153h1.4v1.4h-1.4zM185 169h1.4v1.4h-1.4zM185 190h1.4v1.4h-1.4zM185 208h1.4v1.4h-1.4zM186 51h1.4v1.4h-1.4zM186 53h1.4v1.4h-1.4zM186 73h1.4v1.4h-1.4zM186 110h1.4v1.4h-1.4zM186 204h1.4v1.4h-1.4zM187 111h1.4v1.4h-1.4zM187 167h1.4v1.4h-1.4zM187 193h1.4v1.4h-1.4zM187 196h1.4v1.4h-1.4zM188 59h1.4v1.4h-1.4zM188 125h1.4v1.4h-1.4zM189 41h1.4v1.4h-1.4zM189 140h1.4v1.4h-1.4zM190 63h1.4v1.4h-1.4zM191 58h1.4v1.4h-1.4zM192 63h1.4v1.4h-1.4zM192 177h1.4v1.4h-1.4zM193 207h1.4v1.4h-1.4zM194 68h1.4v1.4h-1.4zM194 115h1.4v1.4h-1.4zM195 116h1.4v1.4h-1.4zM195 117h1.4v1.4h-1.4zM195 175h1.4v1.4h-1.4zM196 116h1.4v1.4h-1.4zM196 164h1.4v1.4h-1.4zM196 207h1.4v1.4h-1.4zM197 57h1.4v1.4h-1.4zM197 72h1.4v1.4h-1.4zM197 157h1.4v1.4h-1.4zM197 185h1.4v1.4h-1.4zM198 191h1.4v1.4h-1.4zM198 205h1.4v1.4h-1.4zM199 48h1.4v1.4h-1.4zM199 51h1.4v1.4h-1.4zM199 63h1.4v1.4h-1.4zM199 138h1.4v1.4h-1.4zM199 146h1.4v1.4h-1.4zM199 204h1.4v1.4h-1.4zM199 217h1.4v1.4h-1.4zM200 43h1.4v1.4h-1.4zM200 70h1.4v1.4h-1.4zM200 209h1.4v1.4h-1.4zM201 68h1.4v1.4h-1.4zM201 147h1.4v1.4h-1.4zM201 155h1.4v1.4h-1.4zM201 195h1.4v1.4h-1.4zM202 48h1.4v1.4h-1.4zM202 54h1.4v1.4h-1.4zM202 127h1.4v1.4h-1.4zM202 163h1.4v1.4h-1.4zM202 185h1.4v1.4h-1.4zM202 193h1.4v1.4h-1.4zM203 72h1.4v1.4h-1.4zM203 76h1.4v1.4h-1.4zM203 146h1.4v1.4h-1.4zM203 161h1.4v1.4h-1.4zM203 187h1.4v1.4h-1.4zM204 47h1.4v1.4h-1.4zM204 106h1.4v1.4h-1.4zM204 128h1.4v1.4h-1.4zM204 158h1.4v1.4h-1.4zM205 80h1.4v1.4h-1.4zM205 82h1.4v1.4h-1.4zM205 208h1.4v1.4h-1.4zM206 75h1.4v1.4h-1.4zM206 77h1.4v1.4h-1.4zM206 89h1.4v1.4h-1.4zM206 116h1.4v1.4h-1.4zM207 103h1.4v1.4h-1.4zM207 125h1.4v1.4h-1.4zM207 127h1.4v1.4h-1.4zM207 128h1.4v1.4h-1.4zM208 61h1.4v1.4h-1.4zM208 105h1.4v1.4h-1.4zM208 113h1.4v1.4h-1.4zM208 127h1.4v1.4h-1.4zM208 136h1.4v1.4h-1.4zM208 169h1.4v1.4h-1.4zM208 185h1.4v1.4h-1.4zM209 92h1.4v1.4h-1.4zM209 113h1.4v1.4h-1.4zM209 114h1.4v1.4h-1.4zM209 115h1.4v1.4h-1.4zM209 168h1.4v1.4h-1.4zM210 40h1.4v1.4h-1.4zM210 70h1.4v1.4h-1.4zM210 71h1.4v1.4h-1.4zM210 74h1.4v1.4h-1.4zM210 75h1.4v1.4h-1.4zM210 101h1.4v1.4h-1.4zM211 71h1.4v1.4h-1.4zM211 76h1.4v1.4h-1.4zM211 87h1.4v1.4h-1.4zM211 116h1.4v1.4h-1.4zM211 157h1.4v1.4h-1.4zM211 185h1.4v1.4h-1.4zM211 186h1.4v1.4h-1.4zM212 65h1.4v1.4h-1.4zM212 96h1.4v1.4h-1.4zM212 97h1.4v1.4h-1.4zM212 139h1.4v1.4h-1.4zM212 141h1.4v1.4h-1.4zM212 201h1.4v1.4h-1.4zM213 86h1.4v1.4h-1.4zM213 104h1.4v1.4h-1.4zM213 127h1.4v1.4h-1.4zM213 173h1.4v1.4h-1.4zM213 203h1.4v1.4h-1.4zM214 91h1.4v1.4h-1.4zM214 92h1.4v1.4h-1.4zM214 126h1.4v1.4h-1.4zM214 149h1.4v1.4h-1.4zM214 158h1.4v1.4h-1.4zM214 199h1.4v1.4h-1.4zM215 39h1.4v1.4h-1.4zM215 88h1.4v1.4h-1.4zM215 156h1.4v1.4h-1.4zM216 53h1.4v1.4h-1.4zM216 180h1.4v1.4h-1.4zM216 204h1.4v1.4h-1.4zM216 208h1.4v1.4h-1.4zM217 65h1.4v1.4h-1.4zM217 161h1.4v1.4h-1.4zM218 98h1.4v1.4h-1.4zM218 99h1.4v1.4h-1.4zM218 155h1.4v1.4h-1.4zM219 65h1.4v1.4h-1.4zM219 171h1.4v1.4h-1.4zM219 203h1.4v1.4h-1.4zM219 219h1.4v1.4h-1.4zM220 57h1.4v1.4h-1.4zM220 63h1.4v1.4h-1.4zM220 71h1.4v1.4h-1.4zM220 94h1.4v1.4h-1.4zM220 96h1.4v1.4h-1.4zM220 115h1.4v1.4h-1.4zM220 118h1.4v1.4h-1.4zM220 168h1.4v1.4h-1.4zM221 151h1.4v1.4h-1.4zM221 175h1.4v1.4h-1.4zM221 180h1.4v1.4h-1.4zM221 181h1.4v1.4h-1.4zM221 192h1.4v1.4h-1.4zM222 57h1.4v1.4h-1.4zM222 70h1.4v1.4h-1.4zM222 78h1.4v1.4h-1.4zM222 134h1.4v1.4h-1.4zM222 137h1.4v1.4h-1.4zM222 179h1.4v1.4h-1.4zM222 194h1.4v1.4h-1.4zM223 58h1.4v1.4h-1.4zM223 69h1.4v1.4h-1.4zM223 96h1.4v1.4h-1.4zM223 114h1.4v1.4h-1.4zM223 120h1.4v1.4h-1.4zM223 160h1.4v1.4h-1.4zM224 69h1.4v1.4h-1.4zM224 133h1.4v1.4h-1.4zM224 147h1.4v1.4h-1.4zM224 155h1.4v1.4h-1.4zM225 91h1.4v1.4h-1.4zM225 103h1.4v1.4h-1.4zM225 137h1.4v1.4h-1.4zM225 187h1.4v1.4h-1.4zM226 65h1.4v1.4h-1.4zM226 67h1.4v1.4h-1.4zM226 97h1.4v1.4h-1.4zM226 130h1.4v1.4h-1.4zM226 132h1.4v1.4h-1.4zM226 156h1.4v1.4h-1.4zM226 174h1.4v1.4h-1.4zM226 203h1.4v1.4h-1.4zM226 216h1.4v1.4h-1.4zM227 109h1.4v1.4h-1.4zM227 136h1.4v1.4h-1.4zM227 175h1.4v1.4h-1.4zM228 102h1.4v1.4h-1.4zM229 67h1.4v1.4h-1.4zM229 123h1.4v1.4h-1.4zM229 163h1.4v1.4h-1.4zM229 180h1.4v1.4h-1.4zM230 94h1.4v1.4h-1.4zM230 99h1.4v1.4h-1.4zM230 123h1.4v1.4h-1.4zM230 129h1.4v1.4h-1.4zM230 167h1.4v1.4h-1.4zM230 169h1.4v1.4h-1.4zM231 62h1.4v1.4h-1.4zM231 165h1.4v1.4h-1.4zM231 217h1.4v1.4h-1.4zM232 64h1.4v1.4h-1.4zM232 92h1.4v1.4h-1.4zM232 97h1.4v1.4h-1.4zM232 101h1.4v1.4h-1.4zM232 129h1.4v1.4h-1.4zM232 175h1.4v1.4h-1.4zM232 208h1.4v1.4h-1.4zM233 59h1.4v1.4h-1.4zM233 68h1.4v1.4h-1.4zM233 83h1.4v1.4h-1.4zM233 104h1.4v1.4h-1.4zM233 105h1.4v1.4h-1.4zM233 107h1.4v1.4h-1.4zM233 165h1.4v1.4h-1.4zM233 166h1.4v1.4h-1.4zM234 65h1.4v1.4h-1.4zM234 120h1.4v1.4h-1.4zM234 167h1.4v1.4h-1.4zM234 170h1.4v1.4h-1.4zM235 93h1.4v1.4h-1.4zM235 96h1.4v1.4h-1.4zM235 164h1.4v1.4h-1.4zM235 169h1.4v1.4h-1.4zM235 185h1.4v1.4h-1.4zM235 190h1.4v1.4h-1.4zM236 83h1.4v1.4h-1.4zM236 127h1.4v1.4h-1.4zM236 131h1.4v1.4h-1.4zM236 154h1.4v1.4h-1.4zM236 157h1.4v1.4h-1.4zM237 73h1.4v1.4h-1.4zM237 79h1.4v1.4h-1.4zM237 146h1.4v1.4h-1.4zM237 205h1.4v1.4h-1.4zM238 74h1.4v1.4h-1.4zM238 124h1.4v1.4h-1.4zM238 138h1.4v1.4h-1.4zM238 152h1.4v1.4h-1.4zM238 160h1.4v1.4h-1.4zM238 162h1.4v1.4h-1.4zM238 166h1.4v1.4h-1.4zM238 196h1.4v1.4h-1.4zM238 214h1.4v1.4h-1.4zM240 71h1.4v1.4h-1.4zM240 75h1.4v1.4h-1.4zM240 182h1.4v1.4h-1.4zM240 189h1.4v1.4h-1.4zM241 179h1.4v1.4h-1.4zM241 180h1.4v1.4h-1.4zM241 188h1.4v1.4h-1.4zM243 70h1.4v1.4h-1.4zM169 219h1.4v1.4h-1.4zM135 212h1.4v1.4h-1.4z" fill="#134f80"/>
<path d="M65 111h1.4v1.4h-1.4zM66 96h1.4v1.4h-1.4zM66 115h1.4v1.4h-1.4zM67 127h1.4v1.4h-1.4zM68 76h1.4v1.4h-1.4zM68 112h1.4v1.4h-1.4zM68 117h1.4v1.4h-1.4zM68 169h1.4v1.4h-1.4zM69 70h1.4v1.4h-1.4zM70 93h1.4v1.4h-1.4zM70 95h1.4v1.4h-1.4zM70 104h1.4v1.4h-1.4zM71 79h1.4v1.4h-1.4zM72 66h1.4v1.4h-1.4zM72 108h1.4v1.4h-1.4zM72 150h1.4v1.4h-1.4zM73 90h1.4v1.4h-1.4zM73 98h1.4v1.4h-1.4zM73 179h1.4v1.4h-1.4zM74 67h1.4v1.4h-1.4zM74 112h1.4v1.4h-1.4zM74 117h1.4v1.4h-1.4zM74 142h1.4v1.4h-1.4zM74 175h1.4v1.4h-1.4zM75 104h1.4v1.4h-1.4zM75 182h1.4v1.4h-1.4zM75 194h1.4v1.4h-1.4zM76 82h1.4v1.4h-1.4zM76 104h1.4v1.4h-1.4zM76 144h1.4v1.4h-1.4zM76 156h1.4v1.4h-1.4zM76 180h1.4v1.4h-1.4zM77 53h1.4v1.4h-1.4zM77 61h1.4v1.4h-1.4zM77 88h1.4v1.4h-1.4zM77 211h1.4v1.4h-1.4zM77 212h1.4v1.4h-1.4zM78 90h1.4v1.4h-1.4zM78 93h1.4v1.4h-1.4zM78 109h1.4v1.4h-1.4zM78 114h1.4v1.4h-1.4zM78 123h1.4v1.4h-1.4zM78 140h1.4v1.4h-1.4zM79 56h1.4v1.4h-1.4zM79 91h1.4v1.4h-1.4zM79 155h1.4v1.4h-1.4zM81 81h1.4v1.4h-1.4zM81 138h1.4v1.4h-1.4zM82 69h1.4v1.4h-1.4zM82 94h1.4v1.4h-1.4zM82 174h1.4v1.4h-1.4zM83 80h1.4v1.4h-1.4zM83 120h1.4v1.4h-1.4zM83 122h1.4v1.4h-1.4zM83 188h1.4v1.4h-1.4zM83 200h1.4v1.4h-1.4zM84 186h1.4v1.4h-1.4zM85 92h1.4v1.4h-1.4zM85 203h1.4v1.4h-1.4zM86 146h1.4v1.4h-1.4zM86 200h1.4v1.4h-1.4zM87 84h1.4v1.4h-1.4zM87 115h1.4v1.4h-1.4zM87 129h1.4v1.4h-1.4zM87 172h1.4v1.4h-1.4zM88 75h1.4v1.4h-1.4zM88 125h1.4v1.4h-1.4zM88 129h1.4v1.4h-1.4zM90 59h1.4v1.4h-1.4zM90 75h1.4v1.4h-1.4zM90 113h1.4v1.4h-1.4zM90 158h1.4v1.4h-1.4zM90 202h1.4v1.4h-1.4zM91 78h1.4v1.4h-1.4zM91 89h1.4v1.4h-1.4zM91 190h1.4v1.4h-1.4zM91 191h1.4v1.4h-1.4zM91 203h1.4v1.4h-1.4zM92 73h1.4v1.4h-1.4zM92 117h1.4v1.4h-1.4zM93 69h1.4v1.4h-1.4zM93 105h1.4v1.4h-1.4zM94 84h1.4v1.4h-1.4zM95 62h1.4v1.4h-1.4zM95 93h1.4v1.4h-1.4zM95 131h1.4v1.4h-1.4zM95 184h1.4v1.4h-1.4zM96 81h1.4v1.4h-1.4zM96 124h1.4v1.4h-1.4zM96 146h1.4v1.4h-1.4zM97 74h1.4v1.4h-1.4zM97 107h1.4v1.4h-1.4zM97 129h1.4v1.4h-1.4zM98 90h1.4v1.4h-1.4zM98 102h1.4v1.4h-1.4zM98 109h1.4v1.4h-1.4zM98 161h1.4v1.4h-1.4zM98 212h1.4v1.4h-1.4zM99 82h1.4v1.4h-1.4zM99 118h1.4v1.4h-1.4zM99 204h1.4v1.4h-1.4zM100 45h1.4v1.4h-1.4zM100 106h1.4v1.4h-1.4zM100 109h1.4v1.4h-1.4zM100 121h1.4v1.4h-1.4zM100 149h1.4v1.4h-1.4zM101 44h1.4v1.4h-1.4zM101 60h1.4v1.4h-1.4zM101 91h1.4v1.4h-1.4zM101 93h1.4v1.4h-1.4zM101 200h1.4v1.4h-1.4zM101 213h1.4v1.4h-1.4zM101 219h1.4v1.4h-1.4zM102 76h1.4v1.4h-1.4zM102 77h1.4v1.4h-1.4zM102 120h1.4v1.4h-1.4zM102 185h1.4v1.4h-1.4zM102 218h1.4v1.4h-1.4zM103 86h1.4v1.4h-1.4zM103 120h1.4v1.4h-1.4zM103 172h1.4v1.4h-1.4zM104 62h1.4v1.4h-1.4zM104 66h1.4v1.4h-1.4zM104 69h1.4v1.4h-1.4zM104 74h1.4v1.4h-1.4zM104 94h1.4v1.4h-1.4zM104 124h1.4v1.4h-1.4zM104 173h1.4v1.4h-1.4zM104 177h1.4v1.4h-1.4zM105 39h1.4v1.4h-1.4zM105 61h1.4v1.4h-1.4zM105 67h1.4v1.4h-1.4zM105 72h1.4v1.4h-1.4zM106 52h1.4v1.4h-1.4zM106 72h1.4v1.4h-1.4zM106 78h1.4v1.4h-1.4zM106 91h1.4v1.4h-1.4zM106 172h1.4v1.4h-1.4zM107 54h1.4v1.4h-1.4zM107 72h1.4v1.4h-1.4zM107 120h1.4v1.4h-1.4zM107 177h1.4v1.4h-1.4zM108 87h1.4v1.4h-1.4zM108 122h1.4v1.4h-1.4zM108 171h1.4v1.4h-1.4zM108 184h1.4v1.4h-1.4zM109 78h1.4v1.4h-1.4zM109 147h1.4v1.4h-1.4zM110 45h1.4v1.4h-1.4zM110 61h1.4v1.4h-1.4zM110 62h1.4v1.4h-1.4zM110 120h1.4v1.4h-1.4zM111 54h1.4v1.4h-1.4zM111 99h1.4v1.4h-1.4zM111 150h1.4v1.4h-1.4zM111 151h1.4v1.4h-1.4zM111 176h1.4v1.4h-1.4zM112 57h1.4v1.4h-1.4zM112 58h1.4v1.4h-1.4zM112 103h1.4v1.4h-1.4zM112 121h1.4v1.4h-1.4zM112 173h1.4v1.4h-1.4zM112 178h1.4v1.4h-1.4zM113 201h1.4v1.4h-1.4zM114 102h1.4v1.4h-1.4zM114 153h1.4v1.4h-1.4zM114 192h1.4v1.4h-1.4zM114 202h1.4v1.4h-1.4zM115 60h1.4v1.4h-1.4zM115 86h1.4v1.4h-1.4zM115 98h1.4v1.4h-1.4zM115 99h1.4v1.4h-1.4zM115 100h1.4v1.4h-1.4zM115 164h1.4v1.4h-1.4zM116 154h1.4v1.4h-1.4zM116 210h1.4v1.4h-1.4zM117 223h1.4v1.4h-1.4zM118 42h1.4v1.4h-1.4zM118 43h1.4v1.4h-1.4zM118 52h1.4v1.4h-1.4zM118 66h1.4v1.4h-1.4zM118 120h1.4v1.4h-1.4zM118 206h1.4v1.4h-1.4zM119 174h1.4v1.4h-1.4zM119 204h1.4v1.4h-1.4zM120 68h1.4v1.4h-1.4zM120 140h1.4v1.4h-1.4zM120 159h1.4v1.4h-1.4zM120 187h1.4v1.4h-1.4zM120 202h1.4v1.4h-1.4zM121 66h1.4v1.4h-1.4zM121 92h1.4v1.4h-1.4zM121 106h1.4v1.4h-1.4zM121 113h1.4v1.4h-1.4zM121 192h1.4v1.4h-1.4zM122 45h1.4v1.4h-1.4zM122 50h1.4v1.4h-1.4zM122 56h1.4v1.4h-1.4zM122 103h1.4v1.4h-1.4zM122 187h1.4v1.4h-1.4zM122 205h1.4v1.4h-1.4zM124 53h1.4v1.4h-1.4zM124 76h1.4v1.4h-1.4zM124 168h1.4v1.4h-1.4zM124 178h1.4v1.4h-1.4zM125 51h1.4v1.4h-1.4zM125 99h1.4v1.4h-1.4zM125 154h1.4v1.4h-1.4zM126 76h1.4v1.4h-1.4zM126 169h1.4v1.4h-1.4zM127 88h1.4v1.4h-1.4zM128 61h1.4v1.4h-1.4zM128 125h1.4v1.4h-1.4zM128 150h1.4v1.4h-1.4zM129 33h1.4v1.4h-1.4zM129 145h1.4v1.4h-1.4zM129 175h1.4v1.4h-1.4zM129 178h1.4v1.4h-1.4zM130 54h1.4v1.4h-1.4zM130 86h1.4v1.4h-1.4zM130 135h1.4v1.4h-1.4zM130 167h1.4v1.4h-1.4zM130 169h1.4v1.4h-1.4zM130 183h1.4v1.4h-1.4zM130 198h1.4v1.4h-1.4zM131 50h1.4v1.4h-1.4zM131 55h1.4v1.4h-1.4zM131 105h1.4v1.4h-1.4zM131 164h1.4v1.4h-1.4zM131 179h1.4v1.4h-1.4zM131 200h1.4v1.4h-1.4zM132 49h1.4v1.4h-1.4zM132 135h1.4v1.4h-1.4zM132 179h1.4v1.4h-1.4zM132 184h1.4v1.4h-1.4zM132 205h1.4v1.4h-1.4zM132 223h1.4v1.4h-1.4zM133 53h1.4v1.4h-1.4zM133 194h1.4v1.4h-1.4zM133 206h1.4v1.4h-1.4zM133 209h1.4v1.4h-1.4zM133 210h1.4v1.4h-1.4zM134 44h1.4v1.4h-1.4zM134 61h1.4v1.4h-1.4zM134 72h1.4v1.4h-1.4zM134 149h1.4v1.4h-1.4zM135 60h1.4v1.4h-1.4zM135 61h1.4v1.4h-1.4zM137 192h1.4v1.4h-1.4zM138 59h1.4v1.4h-1.4zM139 49h1.4v1.4h-1.4zM141 199h1.4v1.4h-1.4zM142 49h1.4v1.4h-1.4zM142 60h1.4v1.4h-1.4zM142 72h1.4v1.4h-1.4zM142 202h1.4v1.4h-1.4zM142 219h1.4v1.4h-1.4zM143 52h1.4v1.4h-1.4zM146 51h1.4v1.4h-1.4zM146 52h1.4v1.4h-1.4zM146 76h1.4v1.4h-1.4zM147 208h1.4v1.4h-1.4zM148 212h1.4v1.4h-1.4zM150 56h1.4v1.4h-1.4zM153 68h1.4v1.4h-1.4zM153 208h1.4v1.4h-1.4zM154 43h1.4v1.4h-1.4zM154 195h1.4v1.4h-1.4zM155 178h1.4v1.4h-1.4zM155 180h1.4v1.4h-1.4zM155 186h1.4v1.4h-1.4zM156 69h1.4v1.4h-1.4zM157 183h1.4v1.4h-1.4zM157 198h1.4v1.4h-1.4zM157 202h1.4v1.4h-1.4zM160 60h1.4v1.4h-1.4zM161 42h1.4v1.4h-1.4zM161 55h1.4v1.4h-1.4zM162 59h1.4v1.4h-1.4zM162 216h1.4v1.4h-1.4zM163 44h1.4v1.4h-1.4zM163 205h1.4v1.4h-1.4zM164 57h1.4v1.4h-1.4zM164 63h1.4v1.4h-1.4zM164 64h1.4v1.4h-1.4zM165 59h1.4v1.4h-1.4zM165 60h1.4v1.4h-1.4zM165 67h1.4v1.4h-1.4zM165 205h1.4v1.4h-1.4zM166 47h1.4v1.4h-1.4zM167 46h1.4v1.4h-1.4zM167 207h1.4v1.4h-1.4zM168 43h1.4v1.4h-1.4zM168 69h1.4v1.4h-1.4zM169 99h1.4v1.4h-1.4zM169 192h1.4v1.4h-1.4zM169 222h1.4v1.4h-1.4zM171 42h1.4v1.4h-1.4zM171 204h1.4v1.4h-1.4zM172 52h1.4v1.4h-1.4zM172 58h1.4v1.4h-1.4zM172 204h1.4v1.4h-1.4zM174 164h1.4v1.4h-1.4zM174 179h1.4v1.4h-1.4zM174 192h1.4v1.4h-1.4zM175 90h1.4v1.4h-1.4zM175 146h1.4v1.4h-1.4zM175 164h1.4v1.4h-1.4zM176 51h1.4v1.4h-1.4zM177 59h1.4v1.4h-1.4zM177 154h1.4v1.4h-1.4zM177 206h1.4v1.4h-1.4zM178 72h1.4v1.4h-1.4zM178 143h1.4v1.4h-1.4zM178 201h1.4v1.4h-1.4zM179 211h1.4v1.4h-1.4zM180 53h1.4v1.4h-1.4zM180 151h1.4v1.4h-1.4zM180 157h1.4v1.4h-1.4zM180 174h1.4v1.4h-1.4zM180 219h1.4v1.4h-1.4zM180 220h1.4v1.4h-1.4zM181 206h1.4v1.4h-1.4zM182 59h1.4v1.4h-1.4zM182 119h1.4v1.4h-1.4zM183 63h1.4v1.4h-1.4zM183 67h1.4v1.4h-1.4zM183 179h1.4v1.4h-1.4zM183 191h1.4v1.4h-1.4zM184 81h1.4v1.4h-1.4zM184 105h1.4v1.4h-1.4zM184 190h1.4v1.4h-1.4zM184 209h1.4v1.4h-1.4zM184 217h1.4v1.4h-1.4zM185 127h1.4v1.4h-1.4zM185 206h1.4v1.4h-1.4zM186 56h1.4v1.4h-1.4zM186 138h1.4v1.4h-1.4zM186 206h1.4v1.4h-1.4zM187 49h1.4v1.4h-1.4zM187 162h1.4v1.4h-1.4zM187 173h1.4v1.4h-1.4zM187 210h1.4v1.4h-1.4zM188 50h1.4v1.4h-1.4zM189 47h1.4v1.4h-1.4zM189 146h1.4v1.4h-1.4zM189 184h1.4v1.4h-1.4zM190 193h1.4v1.4h-1.4zM191 64h1.4v1.4h-1.4zM191 80h1.4v1.4h-1.4zM191 207h1.4v1.4h-1.4zM192 59h1.4v1.4h-1.4zM193 62h1.4v1.4h-1.4zM193 107h1.4v1.4h-1.4zM194 176h1.4v1.4h-1.4zM195 72h1.4v1.4h-1.4zM195 149h1.4v1.4h-1.4zM196 69h1.4v1.4h-1.4zM196 191h1.4v1.4h-1.4zM198 71h1.4v1.4h-1.4zM198 215h1.4v1.4h-1.4zM199 190h1.4v1.4h-1.4zM200 57h1.4v1.4h-1.4zM200 63h1.4v1.4h-1.4zM200 176h1.4v1.4h-1.4zM200 193h1.4v1.4h-1.4zM201 120h1.4v1.4h-1.4zM202 186h1.4v1.4h-1.4zM203 39h1.4v1.4h-1.4zM203 73h1.4v1.4h-1.4zM203 129h1.4v1.4h-1.4zM203 189h1.4v1.4h-1.4zM203 205h1.4v1.4h-1.4zM203 207h1.4v1.4h-1.4zM203 221h1.4v1.4h-1.4zM204 73h1.4v1.4h-1.4zM204 132h1.4v1.4h-1.4zM204 208h1.4v1.4h-1.4zM205 105h1.4v1.4h-1.4zM205 115h1.4v1.4h-1.4zM205 189h1.4v1.4h-1.4zM206 107h1.4v1.4h-1.4zM206 114h1.4v1.4h-1.4zM206 118h1.4v1.4h-1.4zM206 139h1.4v1.4h-1.4zM206 156h1.4v1.4h-1.4zM206 185h1.4v1.4h-1.4zM207 89h1.4v1.4h-1.4zM207 117h1.4v1.4h-1.4zM207 153h1.4v1.4h-1.4zM208 92h1.4v1.4h-1.4zM208 140h1.4v1.4h-1.4zM208 155h1.4v1.4h-1.4zM208 182h1.4v1.4h-1.4zM209 74h1.4v1.4h-1.4zM210 116h1.4v1.4h-1.4zM210 166h1.4v1.4h-1.4zM210 224h1.4v1.4h-1.4zM211 56h1.4v1.4h-1.4zM211 84h1.4v1.4h-1.4zM211 96h1.4v1.4h-1.4zM211 138h1.4v1.4h-1.4zM211 158h1.4v1.4h-1.4zM211 187h1.4v1.4h-1.4zM211 189h1.4v1.4h-1.4zM212 73h1.4v1.4h-1.4zM212 77h1.4v1.4h-1.4zM212 85h1.4v1.4h-1.4zM212 138h1.4v1.4h-1.4zM212 219h1.4v1.4h-1.4zM213 92h1.4v1.4h-1.4zM213 131h1.4v1.4h-1.4zM213 135h1.4v1.4h-1.4zM214 209h1.4v1.4h-1.4zM215 68h1.4v1.4h-1.4zM215 120h1.4v1.4h-1.4zM215 128h1.4v1.4h-1.4zM215 135h1.4v1.4h-1.4zM215 138h1.4v1.4h-1.4zM215 200h1.4v1.4h-1.4zM215 202h1.4v1.4h-1.4zM216 141h1.4v1.4h-1.4zM217 56h1.4v1.4h-1.4zM217 105h1.4v1.4h-1.4zM217 184h1.4v1.4h-1.4zM218 87h1.4v1.4h-1.4zM218 96h1.4v1.4h-1.4zM218 112h1.4v1.4h-1.4zM218 174h1.4v1.4h-1.4zM218 175h1.4v1.4h-1.4zM218 188h1.4v1.4h-1.4zM218 202h1.4v1.4h-1.4zM219 42h1.4v1.4h-1.4zM219 66h1.4v1.4h-1.4zM219 74h1.4v1.4h-1.4zM219 75h1.4v1.4h-1.4zM219 76h1.4v1.4h-1.4zM219 193h1.4v1.4h-1.4zM219 201h1.4v1.4h-1.4zM219 217h1.4v1.4h-1.4zM220 67h1.4v1.4h-1.4zM220 106h1.4v1.4h-1.4zM220 149h1.4v1.4h-1.4zM220 217h1.4v1.4h-1.4zM221 153h1.4v1.4h-1.4zM221 176h1.4v1.4h-1.4zM221 178h1.4v1.4h-1.4zM221 209h1.4v1.4h-1.4zM222 65h1.4v1.4h-1.4zM222 157h1.4v1.4h-1.4zM222 174h1.4v1.4h-1.4zM222 195h1.4v1.4h-1.4zM222 199h1.4v1.4h-1.4zM223 64h1.4v1.4h-1.4zM223 113h1.4v1.4h-1.4zM223 156h1.4v1.4h-1.4zM223 176h1.4v1.4h-1.4zM224 67h1.4v1.4h-1.4zM224 68h1.4v1.4h-1.4zM224 123h1.4v1.4h-1.4zM225 110h1.4v1.4h-1.4zM225 131h1.4v1.4h-1.4zM225 151h1.4v1.4h-1.4zM225 160h1.4v1.4h-1.4zM225 182h1.4v1.4h-1.4zM226 70h1.4v1.4h-1.4zM226 100h1.4v1.4h-1.4zM226 123h1.4v1.4h-1.4zM227 101h1.4v1.4h-1.4zM227 107h1.4v1.4h-1.4zM228 66h1.4v1.4h-1.4zM228 108h1.4v1.4h-1.4zM228 177h1.4v1.4h-1.4zM229 64h1.4v1.4h-1.4zM229 120h1.4v1.4h-1.4zM229 127h1.4v1.4h-1.4zM229 164h1.4v1.4h-1.4zM229 167h1.4v1.4h-1.4zM230 67h1.4v1.4h-1.4zM231 200h1.4v1.4h-1.4zM232 111h1.4v1.4h-1.4zM232 168h1.4v1.4h-1.4zM232 171h1.4v1.4h-1.4zM233 61h1.4v1.4h-1.4zM233 109h1.4v1.4h-1.4zM233 202h1.4v1.4h-1.4zM233 220h1.4v1.4h-1.4zM234 101h1.4v1.4h-1.4zM234 108h1.4v1.4h-1.4zM234 150h1.4v1.4h-1.4zM234 154h1.4v1.4h-1.4zM234 201h1.4v1.4h-1.4zM235 108h1.4v1.4h-1.4zM235 115h1.4v1.4h-1.4zM235 161h1.4v1.4h-1.4zM235 189h1.4v1.4h-1.4zM235 210h1.4v1.4h-1.4zM236 163h1.4v1.4h-1.4zM236 195h1.4v1.4h-1.4zM236 208h1.4v1.4h-1.4zM236 209h1.4v1.4h-1.4zM237 64h1.4v1.4h-1.4zM237 78h1.4v1.4h-1.4zM237 82h1.4v1.4h-1.4zM237 93h1.4v1.4h-1.4zM237 105h1.4v1.4h-1.4zM237 208h1.4v1.4h-1.4zM238 72h1.4v1.4h-1.4zM238 85h1.4v1.4h-1.4zM238 153h1.4v1.4h-1.4zM238 167h1.4v1.4h-1.4zM238 211h1.4v1.4h-1.4zM240 126h1.4v1.4h-1.4zM240 154h1.4v1.4h-1.4zM240 203h1.4v1.4h-1.4zM241 161h1.4v1.4h-1.4zM241 174h1.4v1.4h-1.4zM241 187h1.4v1.4h-1.4zM241 197h1.4v1.4h-1.4zM242 152h1.4v1.4h-1.4zM243 98h1.4v1.4h-1.4zM220 81h1.4v1.4h-1.4zM128 185h1.4v1.4h-1.4z" fill="#0e3b60"/>
<path d="M67 63h1.4v1.4h-1.4zM67 91h1.4v1.4h-1.4zM67 92h1.4v1.4h-1.4zM68 96h1.4v1.4h-1.4zM68 100h1.4v1.4h-1.4zM68 161h1.4v1.4h-1.4zM70 140h1.4v1.4h-1.4zM70 165h1.4v1.4h-1.4zM70 181h1.4v1.4h-1.4zM72 64h1.4v1.4h-1.4zM72 96h1.4v1.4h-1.4zM72 206h1.4v1.4h-1.4zM74 77h1.4v1.4h-1.4zM74 121h1.4v1.4h-1.4zM75 130h1.4v1.4h-1.4zM76 133h1.4v1.4h-1.4zM77 119h1.4v1.4h-1.4zM77 218h1.4v1.4h-1.4zM78 60h1.4v1.4h-1.4zM78 87h1.4v1.4h-1.4zM78 128h1.4v1.4h-1.4zM78 185h1.4v1.4h-1.4zM78 188h1.4v1.4h-1.4zM79 139h1.4v1.4h-1.4zM79 182h1.4v1.4h-1.4zM79 212h1.4v1.4h-1.4zM80 85h1.4v1.4h-1.4zM80 119h1.4v1.4h-1.4zM80 156h1.4v1.4h-1.4zM80 184h1.4v1.4h-1.4zM81 61h1.4v1.4h-1.4zM81 166h1.4v1.4h-1.4zM81 195h1.4v1.4h-1.4zM82 71h1.4v1.4h-1.4zM82 75h1.4v1.4h-1.4zM82 127h1.4v1.4h-1.4zM82 197h1.4v1.4h-1.4zM83 186h1.4v1.4h-1.4zM83 194h1.4v1.4h-1.4zM84 124h1.4v1.4h-1.4zM85 78h1.4v1.4h-1.4zM85 124h1.4v1.4h-1.4zM85 128h1.4v1.4h-1.4zM85 135h1.4v1.4h-1.4zM85 145h1.4v1.4h-1.4zM86 71h1.4v1.4h-1.4zM86 113h1.4v1.4h-1.4zM86 125h1.4v1.4h-1.4zM86 142h1.4v1.4h-1.4zM86 154h1.4v1.4h-1.4zM87 93h1.4v1.4h-1.4zM87 127h1.4v1.4h-1.4zM87 210h1.4v1.4h-1.4zM88 58h1.4v1.4h-1.4zM88 76h1.4v1.4h-1.4zM88 92h1.4v1.4h-1.4zM88 168h1.4v1.4h-1.4zM88 207h1.4v1.4h-1.4zM89 71h1.4v1.4h-1.4zM89 159h1.4v1.4h-1.4zM89 168h1.4v1.4h-1.4zM90 121h1.4v1.4h-1.4zM90 141h1.4v1.4h-1.4zM90 144h1.4v1.4h-1.4zM92 98h1.4v1.4h-1.4zM92 121h1.4v1.4h-1.4zM92 154h1.4v1.4h-1.4zM93 50h1.4v1.4h-1.4zM94 60h1.4v1.4h-1.4zM94 187h1.4v1.4h-1.4zM95 60h1.4v1.4h-1.4zM95 77h1.4v1.4h-1.4zM95 129h1.4v1.4h-1.4zM96 160h1.4v1.4h-1.4zM97 116h1.4v1.4h-1.4zM97 203h1.4v1.4h-1.4zM98 46h1.4v1.4h-1.4zM98 85h1.4v1.4h-1.4zM98 170h1.4v1.4h-1.4zM98 188h1.4v1.4h-1.4zM99 65h1.4v1.4h-1.4zM99 81h1.4v1.4h-1.4zM99 148h1.4v1.4h-1.4zM99 208h1.4v1.4h-1.4zM100 120h1.4v1.4h-1.4zM100 205h1.4v1.4h-1.4zM100 222h1.4v1.4h-1.4zM101 76h1.4v1.4h-1.4zM101 77h1.4v1.4h-1.4zM101 101h1.4v1.4h-1.4zM101 175h1.4v1.4h-1.4zM101 210h1.4v1.4h-1.4zM102 102h1.4v1.4h-1.4zM102 177h1.4v1.4h-1.4zM102 183h1.4v1.4h-1.4zM102 202h1.4v1.4h-1.4zM102 205h1.4v1.4h-1.4zM103 44h1.4v1.4h-1.4zM103 58h1.4v1.4h-1.4zM103 171h1.4v1.4h-1.4zM104 65h1.4v1.4h-1.4zM104 76h1.4v1.4h-1.4zM104 89h1.4v1.4h-1.4zM104 209h1.4v1.4h-1.4zM105 68h1.4v1.4h-1.4zM105 203h1.4v1.4h-1.4zM106 45h1.4v1.4h-1.4zM106 64h1.4v1.4h-1.4zM106 70h1.4v1.4h-1.4zM106 112h1.4v1.4h-1.4zM106 120h1.4v1.4h-1.4zM106 170h1.4v1.4h-1.4zM106 173h1.4v1.4h-1.4zM106 193h1.4v1.4h-1.4zM107 122h1.4v1.4h-1.4zM107 134h1.4v1.4h-1.4zM108 73h1.4v1.4h-1.4zM108 168h1.4v1.4h-1.4zM108 174h1.4v1.4h-1.4zM109 46h1.4v1.4h-1.4zM109 55h1.4v1.4h-1.4zM109 73h1.4v1.4h-1.4zM109 80h1.4v1.4h-1.4zM109 117h1.4v1.4h-1.4zM110 75h1.4v1.4h-1.4zM110 114h1.4v1.4h-1.4zM110 138h1.4v1.4h-1.4zM111 208h1.4v1.4h-1.4zM112 120h1.4v1.4h-1.4zM112 146h1.4v1.4h-1.4zM112 179h1.4v1.4h-1.4zM112 180h1.4v1.4h-1.4zM113 86h1.4v1.4h-1.4zM113 92h1.4v1.4h-1.4zM114 107h1.4v1.4h-1.4zM114 176h1.4v1.4h-1.4zM115 154h1.4v1.4h-1.4zM115 180h1.4v1.4h-1.4zM115 183h1.4v1.4h-1.4zM115 192h1.4v1.4h-1.4zM115 198h1.4v1.4h-1.4zM116 62h1.4v1.4h-1.4zM116 121h1.4v1.4h-1.4zM116 129h1.4v1.4h-1.4zM117 58h1.4v1.4h-1.4zM117 101h1.4v1.4h-1.4zM117 104h1.4v1.4h-1.4zM118 198h1.4v1.4h-1.4zM119 42h1.4v1.4h-1.4zM120 48h1.4v1.4h-1.4zM120 54h1.4v1.4h-1.4zM120 65h1.4v1.4h-1.4zM120 103h1.4v1.4h-1.4zM120 218h1.4v1.4h-1.4zM121 118h1.4v1.4h-1.4zM121 201h1.4v1.4h-1.4zM122 215h1.4v1.4h-1.4zM123 104h1.4v1.4h-1.4zM124 147h1.4v1.4h-1.4zM125 87h1.4v1.4h-1.4zM125 187h1.4v1.4h-1.4zM125 189h1.4v1.4h-1.4zM126 93h1.4v1.4h-1.4zM126 96h1.4v1.4h-1.4zM126 150h1.4v1.4h-1.4zM126 170h1.4v1.4h-1.4zM128 90h1.4v1.4h-1.4zM128 177h1.4v1.4h-1.4zM128 189h1.4v1.4h-1.4zM128 220h1.4v1.4h-1.4zM129 83h1.4v1.4h-1.4zM129 141h1.4v1.4h-1.4zM129 207h1.4v1.4h-1.4zM130 44h1.4v1.4h-1.4zM130 177h1.4v1.4h-1.4zM130 199h1.4v1.4h-1.4zM131 82h1.4v1.4h-1.4zM131 83h1.4v1.4h-1.4zM131 85h1.4v1.4h-1.4zM131 196h1.4v1.4h-1.4zM132 140h1.4v1.4h-1.4zM135 58h1.4v1.4h-1.4zM139 69h1.4v1.4h-1.4zM140 53h1.4v1.4h-1.4zM141 55h1.4v1.4h-1.4zM142 66h1.4v1.4h-1.4zM143 204h1.4v1.4h-1.4zM144 44h1.4v1.4h-1.4zM146 58h1.4v1.4h-1.4zM147 49h1.4v1.4h-1.4zM148 209h1.4v1.4h-1.4zM148 214h1.4v1.4h-1.4zM149 40h1.4v1.4h-1.4zM149 61h1.4v1.4h-1.4zM150 58h1.4v1.4h-1.4zM150 71h1.4v1.4h-1.4zM150 193h1.4v1.4h-1.4zM151 188h1.4v1.4h-1.4zM152 52h1.4v1.4h-1.4zM153 70h1.4v1.4h-1.4zM154 209h1.4v1.4h-1.4zM157 60h1.4v1.4h-1.4zM157 193h1.4v1.4h-1.4zM157 197h1.4v1.4h-1.4zM158 196h1.4v1.4h-1.4zM158 216h1.4v1.4h-1.4zM161 199h1.4v1.4h-1.4zM161 215h1.4v1.4h-1.4zM162 66h1.4v1.4h-1.4zM164 201h1.4v1.4h-1.4zM165 56h1.4v1.4h-1.4zM166 62h1.4v1.4h-1.4zM166 63h1.4v1.4h-1.4zM167 204h1.4v1.4h-1.4zM167 213h1.4v1.4h-1.4zM168 57h1.4v1.4h-1.4zM171 45h1.4v1.4h-1.4zM171 57h1.4v1.4h-1.4zM172 45h1.4v1.4h-1.4zM172 210h1.4v1.4h-1.4zM174 87h1.4v1.4h-1.4zM175 137h1.4v1.4h-1.4zM176 143h1.4v1.4h-1.4zM176 190h1.4v1.4h-1.4zM179 192h1.4v1.4h-1.4zM180 64h1.4v1.4h-1.4zM180 159h1.4v1.4h-1.4zM180 182h1.4v1.4h-1.4zM181 62h1.4v1.4h-1.4zM181 121h1.4v1.4h-1.4zM182 60h1.4v1.4h-1.4zM182 62h1.4v1.4h-1.4zM182 66h1.4v1.4h-1.4zM182 138h1.4v1.4h-1.4zM182 157h1.4v1.4h-1.4zM182 215h1.4v1.4h-1.4zM183 49h1.4v1.4h-1.4zM184 151h1.4v1.4h-1.4zM184 174h1.4v1.4h-1.4zM185 156h1.4v1.4h-1.4zM186 50h1.4v1.4h-1.4zM186 181h1.4v1.4h-1.4zM186 200h1.4v1.4h-1.4zM187 55h1.4v1.4h-1.4zM187 216h1.4v1.4h-1.4zM188 41h1.4v1.4h-1.4zM188 54h1.4v1.4h-1.4zM188 176h1.4v1.4h-1.4zM189 44h1.4v1.4h-1.4zM190 182h1.4v1.4h-1.4zM191 49h1.4v1.4h-1.4zM193 60h1.4v1.4h-1.4zM193 65h1.4v1.4h-1.4zM193 187h1.4v1.4h-1.4zM194 155h1.4v1.4h-1.4zM194 206h1.4v1.4h-1.4zM195 178h1.4v1.4h-1.4zM195 189h1.4v1.4h-1.4zM198 140h1.4v1.4h-1.4zM198 168h1.4v1.4h-1.4zM199 69h1.4v1.4h-1.4zM199 70h1.4v1.4h-1.4zM200 210h1.4v1.4h-1.4zM201 139h1.4v1.4h-1.4zM202 56h1.4v1.4h-1.4zM202 69h1.4v1.4h-1.4zM202 116h1.4v1.4h-1.4zM204 61h1.4v1.4h-1.4zM204 188h1.4v1.4h-1.4zM204 217h1.4v1.4h-1.4zM205 64h1.4v1.4h-1.4zM205 72h1.4v1.4h-1.4zM205 104h1.4v1.4h-1.4zM205 133h1.4v1.4h-1.4zM205 180h1.4v1.4h-1.4zM205 188h1.4v1.4h-1.4zM205 205h1.4v1.4h-1.4zM205 207h1.4v1.4h-1.4zM206 50h1.4v1.4h-1.4zM206 102h1.4v1.4h-1.4zM206 104h1.4v1.4h-1.4zM206 154h1.4v1.4h-1.4zM207 184h1.4v1.4h-1.4zM207 218h1.4v1.4h-1.4zM208 189h1.4v1.4h-1.4zM208 192h1.4v1.4h-1.4zM209 107h1.4v1.4h-1.4zM209 127h1.4v1.4h-1.4zM210 79h1.4v1.4h-1.4zM210 102h1.4v1.4h-1.4zM210 135h1.4v1.4h-1.4zM210 172h1.4v1.4h-1.4zM211 74h1.4v1.4h-1.4zM211 128h1.4v1.4h-1.4zM212 185h1.4v1.4h-1.4zM213 42h1.4v1.4h-1.4zM213 94h1.4v1.4h-1.4zM214 53h1.4v1.4h-1.4zM214 124h1.4v1.4h-1.4zM215 54h1.4v1.4h-1.4zM215 97h1.4v1.4h-1.4zM215 187h1.4v1.4h-1.4zM216 59h1.4v1.4h-1.4zM216 197h1.4v1.4h-1.4zM217 168h1.4v1.4h-1.4zM217 188h1.4v1.4h-1.4zM218 169h1.4v1.4h-1.4zM218 200h1.4v1.4h-1.4zM218 205h1.4v1.4h-1.4zM219 43h1.4v1.4h-1.4zM219 53h1.4v1.4h-1.4zM219 56h1.4v1.4h-1.4zM219 83h1.4v1.4h-1.4zM219 97h1.4v1.4h-1.4zM220 154h1.4v1.4h-1.4zM220 165h1.4v1.4h-1.4zM220 218h1.4v1.4h-1.4zM221 65h1.4v1.4h-1.4zM221 77h1.4v1.4h-1.4zM221 97h1.4v1.4h-1.4zM221 130h1.4v1.4h-1.4zM221 187h1.4v1.4h-1.4zM221 204h1.4v1.4h-1.4zM222 75h1.4v1.4h-1.4zM222 152h1.4v1.4h-1.4zM222 156h1.4v1.4h-1.4zM223 44h1.4v1.4h-1.4zM223 81h1.4v1.4h-1.4zM223 152h1.4v1.4h-1.4zM223 172h1.4v1.4h-1.4zM224 194h1.4v1.4h-1.4zM225 111h1.4v1.4h-1.4zM225 152h1.4v1.4h-1.4zM225 196h1.4v1.4h-1.4zM226 219h1.4v1.4h-1.4zM227 97h1.4v1.4h-1.4zM227 106h1.4v1.4h-1.4zM227 163h1.4v1.4h-1.4zM227 170h1.4v1.4h-1.4zM229 166h1.4v1.4h-1.4zM229 186h1.4v1.4h-1.4zM229 192h1.4v1.4h-1.4zM230 66h1.4v1.4h-1.4zM230 165h1.4v1.4h-1.4zM230 168h1.4v1.4h-1.4zM230 220h1.4v1.4h-1.4zM231 201h1.4v1.4h-1.4zM232 126h1.4v1.4h-1.4zM232 176h1.4v1.4h-1.4zM233 100h1.4v1.4h-1.4zM233 115h1.4v1.4h-1.4zM234 96h1.4v1.4h-1.4zM234 132h1.4v1.4h-1.4zM234 152h1.4v1.4h-1.4zM235 133h1.4v1.4h-1.4zM235 144h1.4v1.4h-1.4zM235 155h1.4v1.4h-1.4zM235 156h1.4v1.4h-1.4zM235 166h1.4v1.4h-1.4zM235 212h1.4v1.4h-1.4zM236 80h1.4v1.4h-1.4zM236 95h1.4v1.4h-1.4zM236 155h1.4v1.4h-1.4zM236 222h1.4v1.4h-1.4zM237 157h1.4v1.4h-1.4zM237 165h1.4v1.4h-1.4zM238 156h1.4v1.4h-1.4zM238 201h1.4v1.4h-1.4zM239 70h1.4v1.4h-1.4zM240 86h1.4v1.4h-1.4zM240 111h1.4v1.4h-1.4zM241 157h1.4v1.4h-1.4zM242 78h1.4v1.4h-1.4zM141 49h1.4v1.4h-1.4z" fill="#2a98e6"/>
<path d="M69 97h1.4v1.4h-1.4zM71 68h1.4v1.4h-1.4zM71 81h1.4v1.4h-1.4zM72 94h1.4v1.4h-1.4zM73 213h1.4v1.4h-1.4zM75 138h1.4v1.4h-1.4zM75 208h1.4v1.4h-1.4zM76 121h1.4v1.4h-1.4zM76 128h1.4v1.4h-1.4zM76 188h1.4v1.4h-1.4zM77 94h1.4v1.4h-1.4zM77 145h1.4v1.4h-1.4zM77 178h1.4v1.4h-1.4zM77 214h1.4v1.4h-1.4zM78 91h1.4v1.4h-1.4zM78 179h1.4v1.4h-1.4zM78 183h1.4v1.4h-1.4zM79 68h1.4v1.4h-1.4zM80 196h1.4v1.4h-1.4zM83 154h1.4v1.4h-1.4zM84 144h1.4v1.4h-1.4zM85 79h1.4v1.4h-1.4zM85 193h1.4v1.4h-1.4zM86 156h1.4v1.4h-1.4zM91 196h1.4v1.4h-1.4zM93 160h1.4v1.4h-1.4zM99 47h1.4v1.4h-1.4zM99 109h1.4v1.4h-1.4zM101 189h1.4v1.4h-1.4zM102 114h1.4v1.4h-1.4zM102 143h1.4v1.4h-1.4zM103 69h1.4v1.4h-1.4zM103 118h1.4v1.4h-1.4zM104 141h1.4v1.4h-1.4zM105 219h1.4v1.4h-1.4zM106 87h1.4v1.4h-1.4zM106 135h1.4v1.4h-1.4zM106 187h1.4v1.4h-1.4zM106 189h1.4v1.4h-1.4zM108 75h1.4v1.4h-1.4zM108 117h1.4v1.4h-1.4zM110 172h1.4v1.4h-1.4zM111 180h1.4v1.4h-1.4zM111 212h1.4v1.4h-1.4zM113 105h1.4v1.4h-1.4zM114 55h1.4v1.4h-1.4zM115 59h1.4v1.4h-1.4zM115 197h1.4v1.4h-1.4zM116 99h1.4v1.4h-1.4zM117 141h1.4v1.4h-1.4zM118 157h1.4v1.4h-1.4zM120 55h1.4v1.4h-1.4zM125 33h1.4v1.4h-1.4zM125 50h1.4v1.4h-1.4zM127 62h1.4v1.4h-1.4zM127 148h1.4v1.4h-1.4zM128 88h1.4v1.4h-1.4zM128 112h1.4v1.4h-1.4zM129 129h1.4v1.4h-1.4zM129 191h1.4v1.4h-1.4zM129 200h1.4v1.4h-1.4zM131 45h1.4v1.4h-1.4zM131 145h1.4v1.4h-1.4zM132 47h1.4v1.4h-1.4zM132 86h1.4v1.4h-1.4zM132 143h1.4v1.4h-1.4zM132 167h1.4v1.4h-1.4zM132 181h1.4v1.4h-1.4zM133 55h1.4v1.4h-1.4zM134 135h1.4v1.4h-1.4zM134 201h1.4v1.4h-1.4zM136 54h1.4v1.4h-1.4zM138 211h1.4v1.4h-1.4zM139 56h1.4v1.4h-1.4zM140 54h1.4v1.4h-1.4zM144 199h1.4v1.4h-1.4zM144 205h1.4v1.4h-1.4zM144 207h1.4v1.4h-1.4zM145 208h1.4v1.4h-1.4zM151 55h1.4v1.4h-1.4zM152 184h1.4v1.4h-1.4zM154 207h1.4v1.4h-1.4zM155 58h1.4v1.4h-1.4zM155 211h1.4v1.4h-1.4zM156 39h1.4v1.4h-1.4zM157 184h1.4v1.4h-1.4zM159 58h1.4v1.4h-1.4zM160 182h1.4v1.4h-1.4zM160 204h1.4v1.4h-1.4zM161 182h1.4v1.4h-1.4zM162 51h1.4v1.4h-1.4zM164 199h1.4v1.4h-1.4zM168 70h1.4v1.4h-1.4zM169 42h1.4v1.4h-1.4zM169 64h1.4v1.4h-1.4zM172 69h1.4v1.4h-1.4zM172 208h1.4v1.4h-1.4zM176 117h1.4v1.4h-1.4zM176 149h1.4v1.4h-1.4zM181 60h1.4v1.4h-1.4zM182 61h1.4v1.4h-1.4zM182 183h1.4v1.4h-1.4zM182 196h1.4v1.4h-1.4zM183 48h1.4v1.4h-1.4zM184 50h1.4v1.4h-1.4zM190 49h1.4v1.4h-1.4zM190 215h1.4v1.4h-1.4zM193 166h1.4v1.4h-1.4zM195 57h1.4v1.4h-1.4zM195 132h1.4v1.4h-1.4zM198 51h1.4v1.4h-1.4zM198 176h1.4v1.4h-1.4zM199 100h1.4v1.4h-1.4zM200 116h1.4v1.4h-1.4zM201 209h1.4v1.4h-1.4zM202 201h1.4v1.4h-1.4zM203 67h1.4v1.4h-1.4zM203 134h1.4v1.4h-1.4zM203 172h1.4v1.4h-1.4zM204 118h1.4v1.4h-1.4zM205 78h1.4v1.4h-1.4zM205 100h1.4v1.4h-1.4zM206 40h1.4v1.4h-1.4zM206 68h1.4v1.4h-1.4zM207 71h1.4v1.4h-1.4zM208 70h1.4v1.4h-1.4zM208 73h1.4v1.4h-1.4zM208 138h1.4v1.4h-1.4zM209 179h1.4v1.4h-1.4zM210 203h1.4v1.4h-1.4zM211 91h1.4v1.4h-1.4zM211 130h1.4v1.4h-1.4zM212 93h1.4v1.4h-1.4zM213 118h1.4v1.4h-1.4zM213 128h1.4v1.4h-1.4zM213 200h1.4v1.4h-1.4zM214 135h1.4v1.4h-1.4zM215 90h1.4v1.4h-1.4zM216 113h1.4v1.4h-1.4zM216 133h1.4v1.4h-1.4zM216 140h1.4v1.4h-1.4zM217 92h1.4v1.4h-1.4zM217 218h1.4v1.4h-1.4zM218 92h1.4v1.4h-1.4zM218 94h1.4v1.4h-1.4zM218 117h1.4v1.4h-1.4zM219 58h1.4v1.4h-1.4zM219 96h1.4v1.4h-1.4zM220 196h1.4v1.4h-1.4zM222 69h1.4v1.4h-1.4zM222 181h1.4v1.4h-1.4zM222 193h1.4v1.4h-1.4zM223 181h1.4v1.4h-1.4zM223 203h1.4v1.4h-1.4zM223 223h1.4v1.4h-1.4zM224 99h1.4v1.4h-1.4zM224 131h1.4v1.4h-1.4zM224 151h1.4v1.4h-1.4zM225 97h1.4v1.4h-1.4zM225 135h1.4v1.4h-1.4zM225 174h1.4v1.4h-1.4zM225 203h1.4v1.4h-1.4zM227 53h1.4v1.4h-1.4zM227 199h1.4v1.4h-1.4zM229 122h1.4v1.4h-1.4zM230 60h1.4v1.4h-1.4zM230 164h1.4v1.4h-1.4zM231 126h1.4v1.4h-1.4zM231 166h1.4v1.4h-1.4zM232 55h1.4v1.4h-1.4zM232 125h1.4v1.4h-1.4zM233 144h1.4v1.4h-1.4zM233 192h1.4v1.4h-1.4zM234 90h1.4v1.4h-1.4zM235 218h1.4v1.4h-1.4zM237 112h1.4v1.4h-1.4zM237 145h1.4v1.4h-1.4zM237 159h1.4v1.4h-1.4zM237 163h1.4v1.4h-1.4zM238 66h1.4v1.4h-1.4zM238 78h1.4v1.4h-1.4zM239 79h1.4v1.4h-1.4zM242 182h1.4v1.4h-1.4zM220 94h1.4v1.4h-1.4z" fill="#1f80b0"/>
<path d="M57 54h1v1h-1zM90 128h1v1h-1zM120 160h1v1h-1zM209 140h1v1h-1z" fill="#3a8a3a"/>
<path d="M70 59h1v1h-1zM160 118h1v1h-1zM150 150h1v1h-1zM176 43h1v1h-1z" fill="#6a7a2a"/>
<path d="M50 79h1v1h-1zM186 70h1v1h-1zM240 190h1v1h-1z" fill="#2a7a5a"/>
<path d="M44 152h1v1h-1zM228 60h1v1h-1zM96 60h1v1h-1z" fill="#5a6a3a"/>
</g></g>
<polyline points="197.6,206.6 150.0,208.2 148.9,206.9 135.8,206.9 134.5,208.4 104.2,208.4 104.2,150.0 103.5,148.0 102.9,100.0 102.6,75.0 101.6,65.2 112.7,62.0 119.5,61.2 150.0,60.1 170.0,60.2 178.5,59.0 181.4,60.5 191.0,60.5 193.3,59.7 195.6,61.7 208.0,66.8 207.0,100.0 205.0,145.0 206.7,201.5" fill="none" stroke="#ff1a1a" stroke-width="2.2" stroke-linejoin="round"/>
<polyline points="197.0,207.8 150.0,209.3 130.0,210.0 104.0,210.6 103.5,209.5 104.2,200.0 104.0,148.6 102.9,100.0 102.7,70.9 109.3,68.9 150.0,66.9 170.0,67.3 194.4,66.8 196.7,69.0 208.1,73.0 207.2,100.0 205.2,145.0 205.6,170.0 206.0,188.0" fill="none" stroke="#ff1aff" stroke-width="2.2" stroke-linejoin="round"/>
<polyline points="104.2,208.4 104.2,150.0 103.3,145.0" fill="none" stroke="#ff1a1a" stroke-width="2.2" stroke-linejoin="round"/>
<polyline points="206.0,186.0 206.7,201.5" fill="none" stroke="#ff1a1a" stroke-width="2.2" stroke-linejoin="round"/>
<polyline points="197.6,206.6 150.0,208.2 148.9,206.9 135.8,206.9 134.5,208.4 104.2,208.4" fill="none" stroke="#ff1a1a" stroke-width="2.2" stroke-linejoin="round"/>
<rect x="132.2" y="7.6" width="120.8" height="30.7" fill="#000"/>
<rect x="146.5" y="13.2" width="1.6" height="1.6" fill="#2f8ff5"/>
<line x1="134.8" y1="24.2" x2="160" y2="24.2" stroke="#ff1a1a" stroke-width="2"/>
<line x1="134.8" y1="33.1" x2="160" y2="33.1" stroke="#ff1aff" stroke-width="2"/>
<text x="162.2" y="17" font-family="Liberation Sans, Arial, sans-serif" font-weight="bold" fill="#fff" font-size="7.6">Map points</text>
<text x="162.2" y="26.8" font-family="Liberation Sans, Arial, sans-serif" font-weight="bold" fill="#fff" font-size="7.6">Estimated trajectory</text>
<text x="162.2" y="36.2" font-family="Liberation Sans, Arial, sans-serif" font-weight="bold" fill="#fff" font-size="7.6">Optimized trajectory</text>
<text x="31.2" y="18.1" text-anchor="end" font-family="Liberation Sans, Arial, sans-serif" font-size="9" font-weight="bold" fill="#111">-3</text>
<text x="31.2" y="49.0" text-anchor="end" font-family="Liberation Sans, Arial, sans-serif" font-size="9" font-weight="bold" fill="#111">-2.5</text>
<text x="31.2" y="79.9" text-anchor="end" font-family="Liberation Sans, Arial, sans-serif" font-size="9" font-weight="bold" fill="#111">-2</text>
<text x="31.2" y="110.8" text-anchor="end" font-family="Liberation Sans, Arial, sans-serif" font-size="9" font-weight="bold" fill="#111">-1.5</text>
<text x="31.2" y="141.7" text-anchor="end" font-family="Liberation Sans, Arial, sans-serif" font-size="9" font-weight="bold" fill="#111">-1</text>
<text x="31.2" y="172.6" text-anchor="end" font-family="Liberation Sans, Arial, sans-serif" font-size="9" font-weight="bold" fill="#111">-0.5</text>
<text x="31.2" y="203.5" text-anchor="end" font-family="Liberation Sans, Arial, sans-serif" font-size="9" font-weight="bold" fill="#111">0</text>
<text x="31.2" y="234.4" text-anchor="end" font-family="Liberation Sans, Arial, sans-serif" font-size="9" font-weight="bold" fill="#111">0.5</text>
<text x="51.8" y="244.3" text-anchor="middle" font-family="Liberation Sans, Arial, sans-serif" font-size="9" font-weight="bold" fill="#111">-2.5</text>
<text x="82.6" y="244.3" text-anchor="middle" font-family="Liberation Sans, Arial, sans-serif" font-size="9" font-weight="bold" fill="#111">-2</text>
<text x="113.4" y="244.3" text-anchor="middle" font-family="Liberation Sans, Arial, sans-serif" font-size="9" font-weight="bold" fill="#111">-1.5</text>
<text x="144.3" y="244.3" text-anchor="middle" font-family="Liberation Sans, Arial, sans-serif" font-size="9" font-weight="bold" fill="#111">-1</text>
<text x="175.2" y="244.3" text-anchor="middle" font-family="Liberation Sans, Arial, sans-serif" font-size="9" font-weight="bold" fill="#111">-0.5</text>
<text x="206.0" y="244.3" text-anchor="middle" font-family="Liberation Sans, Arial, sans-serif" font-size="9" font-weight="bold" fill="#111">0</text>
<text x="236.8" y="244.3" text-anchor="middle" font-family="Liberation Sans, Arial, sans-serif" font-size="9" font-weight="bold" fill="#111">0.5</text>
<text x="144.5" y="257" text-anchor="middle" font-family="Liberation Sans, Arial, sans-serif" font-size="10.5">X</text>
<text transform="translate(11.7 124) rotate(-90)" text-anchor="middle" font-family="Liberation Sans, Arial, sans-serif" font-size="10.5">Y</text>
<rect x="307.5" y="17.5" width="231.9" height="172.8" fill="none" stroke="#777" stroke-width="1"/>
<line x1="304.5" y1="176.8" x2="307.5" y2="176.8" stroke="#555" stroke-width="0.7"/>
<text x="302.5" y="179.1" text-anchor="end" font-family="DejaVu Sans, sans-serif" font-size="6.7" fill="#222">0</text>
<line x1="304.5" y1="157.5" x2="307.5" y2="157.5" stroke="#555" stroke-width="0.7"/>
<text x="302.5" y="159.8" text-anchor="end" font-family="DejaVu Sans, sans-serif" font-size="6.7" fill="#222">2</text>
<line x1="304.5" y1="138.2" x2="307.5" y2="138.2" stroke="#555" stroke-width="0.7"/>
<text x="302.5" y="140.5" text-anchor="end" font-family="DejaVu Sans, sans-serif" font-size="6.7" fill="#222">4</text>
<line x1="304.5" y1="118.8" x2="307.5" y2="118.8" stroke="#555" stroke-width="0.7"/>
<text x="302.5" y="121.1" text-anchor="end" font-family="DejaVu Sans, sans-serif" font-size="6.7" fill="#222">6</text>
<line x1="304.5" y1="99.5" x2="307.5" y2="99.5" stroke="#555" stroke-width="0.7"/>
<text x="302.5" y="101.8" text-anchor="end" font-family="DejaVu Sans, sans-serif" font-size="6.7" fill="#222">8</text>
<line x1="304.5" y1="80.2" x2="307.5" y2="80.2" stroke="#555" stroke-width="0.7"/>
<text x="302.5" y="82.5" text-anchor="end" font-family="DejaVu Sans, sans-serif" font-size="6.7" fill="#222">10</text>
<line x1="304.5" y1="60.9" x2="307.5" y2="60.9" stroke="#555" stroke-width="0.7"/>
<text x="302.5" y="63.2" text-anchor="end" font-family="DejaVu Sans, sans-serif" font-size="6.7" fill="#222">12</text>
<line x1="304.5" y1="41.6" x2="307.5" y2="41.6" stroke="#555" stroke-width="0.7"/>
<text x="302.5" y="43.9" text-anchor="end" font-family="DejaVu Sans, sans-serif" font-size="6.7" fill="#222">14</text>
<line x1="304.5" y1="22.2" x2="307.5" y2="22.2" stroke="#555" stroke-width="0.7"/>
<text x="302.5" y="24.5" text-anchor="end" font-family="DejaVu Sans, sans-serif" font-size="6.7" fill="#222">16</text>
<line x1="329.6" y1="190.3" x2="329.6" y2="193.3" stroke="#555" stroke-width="0.7"/>
<text x="329.6" y="199.9" text-anchor="middle" font-family="DejaVu Sans, sans-serif" font-size="6.7" fill="#222">−15</text>
<line x1="377.9" y1="190.3" x2="377.9" y2="193.3" stroke="#555" stroke-width="0.7"/>
<text x="377.9" y="199.9" text-anchor="middle" font-family="DejaVu Sans, sans-serif" font-size="6.7" fill="#222">−10</text>
<line x1="426.2" y1="190.3" x2="426.2" y2="193.3" stroke="#555" stroke-width="0.7"/>
<text x="426.2" y="199.9" text-anchor="middle" font-family="DejaVu Sans, sans-serif" font-size="6.7" fill="#222">−5</text>
<line x1="474.5" y1="190.3" x2="474.5" y2="193.3" stroke="#555" stroke-width="0.7"/>
<text x="474.5" y="199.9" text-anchor="middle" font-family="DejaVu Sans, sans-serif" font-size="6.7" fill="#222">0</text>
<line x1="522.8" y1="190.3" x2="522.8" y2="193.3" stroke="#555" stroke-width="0.7"/>
<text x="522.8" y="199.9" text-anchor="middle" font-family="DejaVu Sans, sans-serif" font-size="6.7" fill="#222">5</text>
<polyline points="382.1,28.4 382.1,30.7 421.3,30.7 428.9,32.2 440.4,32.8 454.3,32.6 459.4,34.6 473.4,35.3 480.4,37.2 481.6,42.3 481.6,45.0 477.5,62.2 480.1,75.5 478.8,80.0 475.2,92.6 477.5,104.5 474.4,115.0 473.5,124.3 477.5,150.0 477.8,153.3 476.1,158.6 473.5,163.2 473.9,178.5" fill="none" stroke="#2a2a2a" stroke-width="1.1" stroke-linejoin="round" stroke-linecap="round"/>
<polyline points="382.1,30.7 376.0,34.7 377.3,38.5 378.5,51.0 373.8,64.9 375.8,76.8 375.5,80.0 372.3,88.0 373.8,115.0 374.2,117.6 371.9,132.2 373.8,150.0 369.2,164.6 369.6,167.9 374.5,167.9 380.5,168.5 387.1,170.5 395.0,171.9 422.3,172.3 426.7,173.0 440.7,173.0 444.5,173.7 454.7,174.6 480.8,174.4" fill="none" stroke="#2a2a2a" stroke-width="1.1" stroke-linejoin="round" stroke-linecap="round"/>
<polyline points="362.0,40.1 378.0,38.5 422.5,37.9 448.0,37.0 463.2,37.8 472.7,35.0" fill="none" stroke="#2a3cff" stroke-width="1.3" stroke-linejoin="round" stroke-linecap="round"/>
<polyline points="471.8,25.1 473.1,35.0 472.8,45.0 472.2,80.0 471.5,100.0 470.2,115.0 470.2,130.0 472.2,150.0 474.1,168.5 474.4,178.5" fill="none" stroke="#2a3cff" stroke-width="1.3" stroke-linejoin="round" stroke-linecap="round"/>
<polyline points="372.8,40.0 372.8,45.0 373.6,80.0 373.2,100.0 374.2,115.0 374.2,150.0 374.5,181.1 375.4,181.8" fill="none" stroke="#2a3cff" stroke-width="1.3" stroke-linejoin="round" stroke-linecap="round"/>
<polyline points="375.0,178.6 381.1,178.1 400.0,179.1 425.5,179.1 438.2,178.8 448.4,179.1 470.0,178.5 484.7,178.9" fill="none" stroke="#2a3cff" stroke-width="1.3" stroke-linejoin="round" stroke-linecap="round"/>
<polyline points="370.0,40.5 375.4,38.8 380.5,37.0 385.5,36.3 390.7,36.3 395.1,35.9 399.0,36.1 403.0,35.5 407.3,35.4 412.7,35.4 417.2,35.7 422.5,35.4 426.5,35.5 431.1,35.8 435.5,35.6 439.6,35.6 443.8,35.4 448.0,35.7 452.7,36.0 457.1,35.9 461.9,36.3 465.7,39.1 470.5,40.5 475.3,42.3 476.5,43.5 476.1,45.0 475.7,49.1 476.0,53.9 475.8,58.1 475.3,62.3 475.5,67.0 474.9,71.1 474.9,75.6 474.8,80.0 474.4,80.0 474.5,84.5 474.2,88.8 473.6,93.5 473.8,97.4 473.7,101.5 473.1,106.3 473.1,110.5 472.8,115.0 473.1,115.0 473.1,119.6 473.5,123.7 473.4,128.1 473.5,132.3 473.1,137.2 473.1,141.4 473.5,145.8 473.5,150.0 473.7,154.4 473.8,159.0 474.0,164.0 473.9,168.5" fill="none" stroke="#ff1aff" stroke-width="1.7" stroke-linejoin="round" stroke-linecap="round"/>
<polyline points="370.0,40.5 370.1,45.0 370.4,49.1 369.9,53.7 370.2,58.1 370.2,62.8 369.7,66.8 369.8,71.4 370.2,75.8 369.9,80.0 370.1,80.0 370.3,84.5 370.2,88.9 370.3,93.4 370.6,97.6 370.4,102.1 370.3,106.6 370.2,110.9 370.5,115.0 370.4,118.7 370.1,122.8 370.3,127.0 370.2,130.7 370.1,135.0 370.5,139.7 370.9,144.7 371.2,150.0 370.9,153.8 371.1,158.1 371.2,162.2 371.4,166.3 371.1,170.3 371.5,174.6 371.5,178.5 373.0,179.3 377.5,179.1 381.9,179.7 386.8,179.7 391.1,179.7 395.5,179.8 400.0,179.7 403.8,179.4 408.3,179.3 412.1,178.6 416.5,178.2 421.2,178.1 424.9,177.4 429.6,177.7 433.8,176.8 438.2,176.8 442.7,176.5 446.9,176.4 451.5,175.9 455.5,176.2 459.8,175.6 464.3,175.5" fill="none" stroke="#ff1aff" stroke-width="1.7" stroke-linejoin="round" stroke-linecap="round"/>
<circle cx="473.9" cy="169.6" r="0.9" fill="#e00"/>
<polyline points="473.7,171.0 473.9,178.5" fill="none" stroke="#2a2a2a" stroke-width="1.1" stroke-linejoin="round" stroke-linecap="round"/>
<text x="287.6" y="15.1" font-size="14" textLength="19.6" lengthAdjust="spacingAndGlyphs" font-family="Liberation Serif, DejaVu Serif, serif" fill="#000">(m)</text>
<text x="527.6" y="201.7" font-size="14" textLength="19.2" lengthAdjust="spacingAndGlyphs" font-family="Liberation Serif, DejaVu Serif, serif" fill="#000">(m)</text>
<line x1="294.4" y1="218.9" x2="346.3" y2="218.9" stroke="#ff1aff" stroke-width="2"/>
<line x1="294.4" y1="237.6" x2="346.3" y2="237.6" stroke="#1f1fff" stroke-width="2"/>
<line x1="294.4" y1="255.3" x2="346.3" y2="255.3" stroke="#000" stroke-width="2"/>
<text x="350.5" y="224.2" font-size="16.5" textLength="90.5" lengthAdjust="spacingAndGlyphs" font-family="Liberation Serif, DejaVu Serif, serif" fill="#000">ORB-SLAM</text>
<text x="442.6" y="223.7" font-size="13.2" textLength="101.5" font-family="Liberation Serif, DejaVu Serif, serif" fill="#000">(manually scaled)</text>
<text x="350.5" y="242.6" font-size="16.5" textLength="128.8" lengthAdjust="spacingAndGlyphs" font-family="Liberation Serif, DejaVu Serif, serif" fill="#000">Proposed method</text>
<text x="350.5" y="260.5" font-size="16.8" textLength="34.5" lengthAdjust="spacingAndGlyphs" font-family="Liberation Serif, DejaVu Serif, serif" fill="#000">GPS</text>
</svg>
</body></html>
